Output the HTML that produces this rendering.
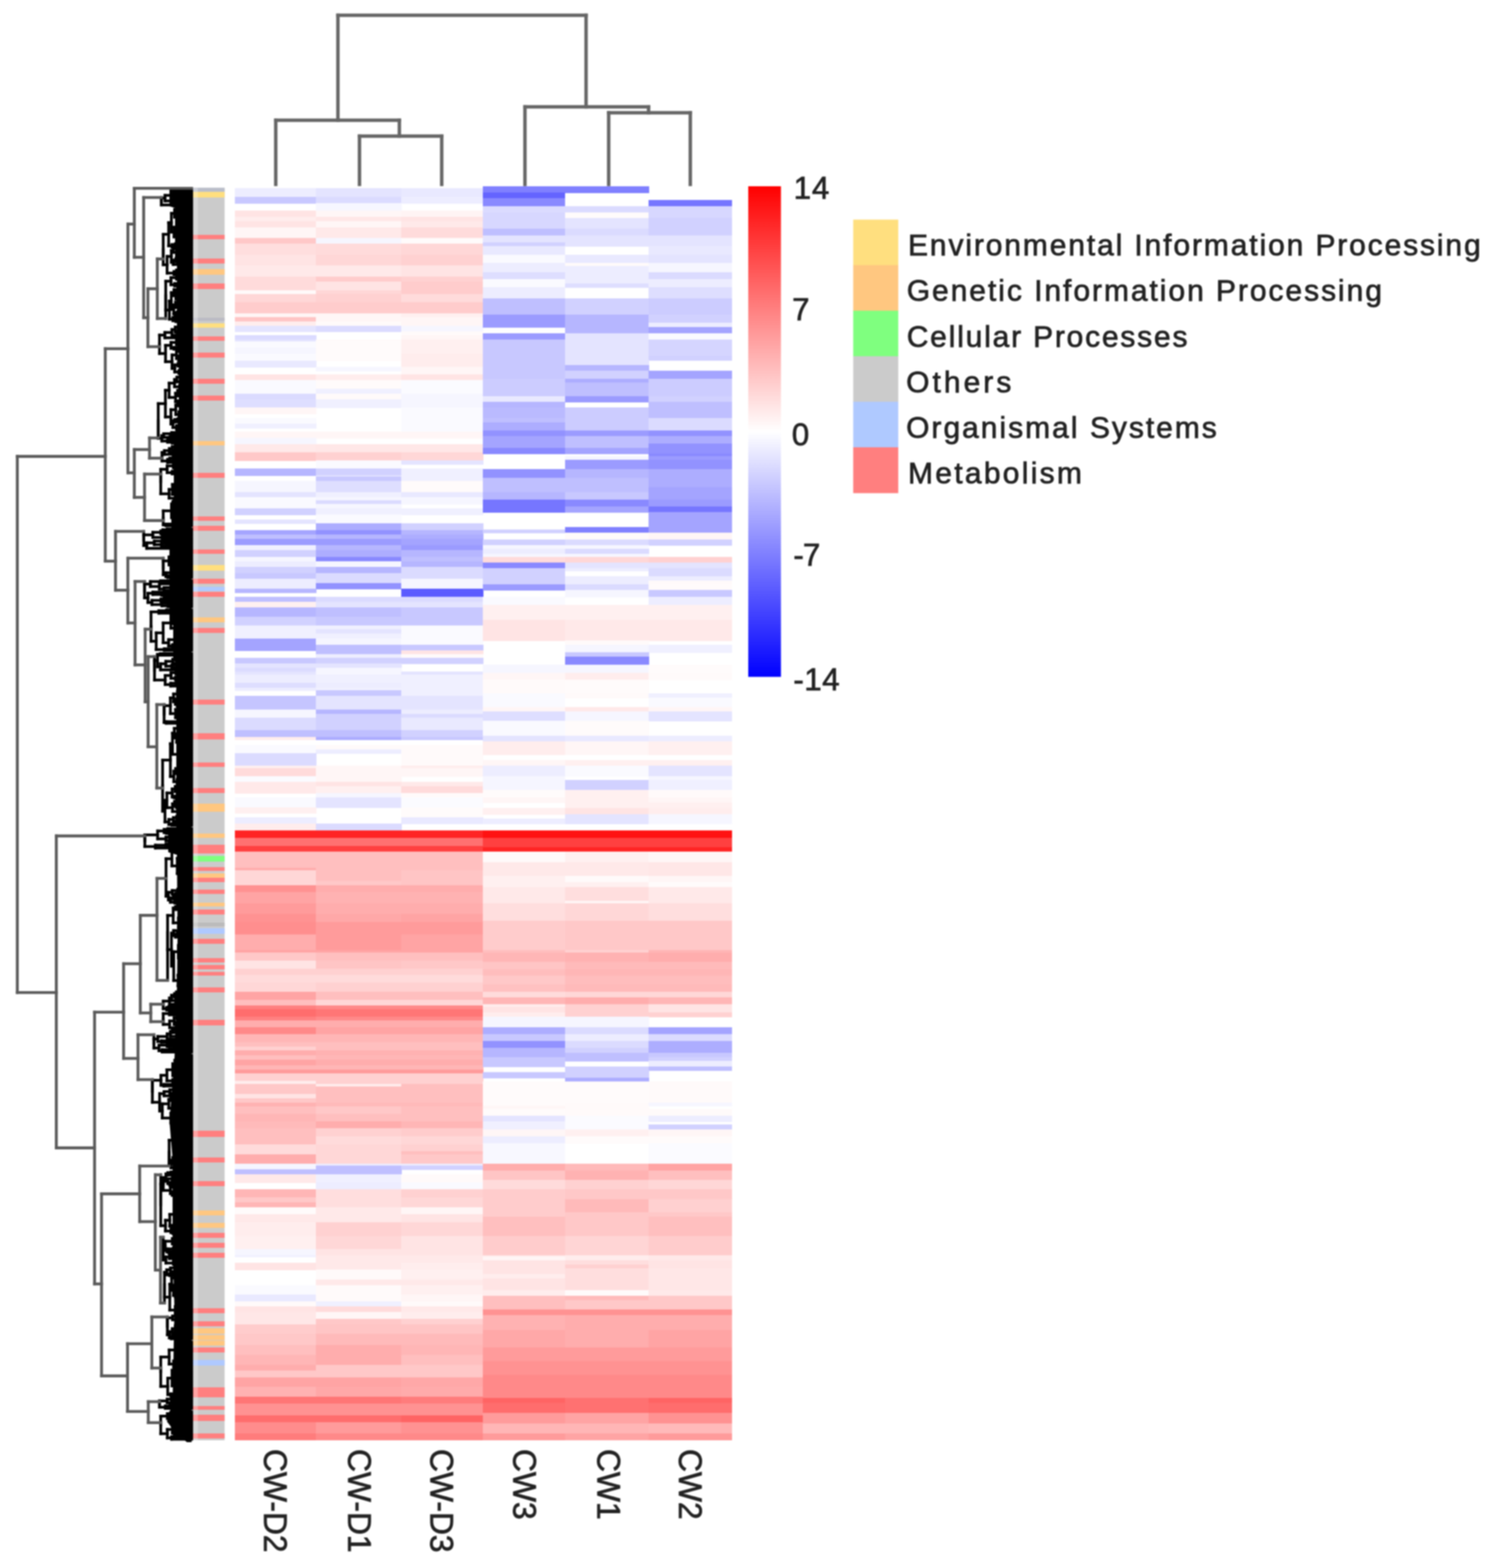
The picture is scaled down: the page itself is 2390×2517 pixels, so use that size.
<!DOCTYPE html><html><head><meta charset="utf-8"><style>html,body{margin:0;padding:0;background:#fff;}svg{display:block;filter:blur(1.1px);}text{font-family:"Liberation Sans",Arial,sans-serif;}</style></head><body>
<svg width="2390" height="2517" viewBox="0 0 2390 2517">
<defs><linearGradient id="ck" x1="0" y1="0" x2="0" y2="1"><stop offset="0" stop-color="#ff0000"/><stop offset="0.5" stop-color="#ffffff"/><stop offset="1" stop-color="#0000ff"/></linearGradient></defs>
<rect width="2390" height="2517" fill="#fff"/>
<g shape-rendering="crispEdges">
<rect x="376.5" y="302" width="131.3" height="14.5" fill="#ededff"/>
<rect x="507.3" y="302" width="137.4" height="14.5" fill="#e4e4ff"/>
<rect x="644.2" y="302" width="131.5" height="14.5" fill="#e9e9ff"/>
<rect x="376.5" y="316" width="131.3" height="10.5" fill="#c8c8ff"/>
<rect x="507.3" y="316" width="137.4" height="10.5" fill="#dbdbff"/>
<rect x="644.2" y="316" width="131.5" height="10.5" fill="#ededff"/>
<rect x="507.3" y="326" width="137.4" height="12.5" fill="#f6f6ff"/>
<rect x="376.5" y="338" width="131.3" height="10.5" fill="#ffe4e4"/>
<rect x="507.3" y="338" width="137.4" height="10.5" fill="#fff6f6"/>
<rect x="644.2" y="338" width="131.5" height="10.5" fill="#fff4f4"/>
<rect x="376.5" y="348" width="131.3" height="7.5" fill="#ffeded"/>
<rect x="507.3" y="348" width="137.4" height="7.5" fill="#ffe7e7"/>
<rect x="644.2" y="348" width="131.5" height="7.5" fill="#ffe4e4"/>
<rect x="376.5" y="355" width="131.3" height="10.5" fill="#ffe4e4"/>
<rect x="507.3" y="355" width="137.4" height="10.5" fill="#fff6f6"/>
<rect x="644.2" y="355" width="131.5" height="10.5" fill="#ffe9e9"/>
<rect x="376.5" y="365" width="131.3" height="17.5" fill="#fff6f6"/>
<rect x="507.3" y="365" width="137.4" height="17.5" fill="#ffe9e9"/>
<rect x="644.2" y="365" width="131.5" height="17.5" fill="#ffdbdb"/>
<rect x="376.5" y="382" width="131.3" height="9.5" fill="#ffc8c8"/>
<rect x="507.3" y="382" width="137.4" height="9.5" fill="#f6f6ff"/>
<rect x="644.2" y="382" width="131.5" height="9.5" fill="#fffbfb"/>
<rect x="376.5" y="391" width="131.3" height="18.5" fill="#ffdede"/>
<rect x="507.3" y="391" width="137.4" height="18.5" fill="#ffdbdb"/>
<rect x="644.2" y="391" width="131.5" height="18.5" fill="#ffd7d7"/>
<rect x="376.5" y="409" width="131.3" height="17.5" fill="#ffe4e4"/>
<rect x="507.3" y="409" width="137.4" height="17.5" fill="#ffd7d7"/>
<rect x="644.2" y="409" width="131.5" height="17.5" fill="#ffd1d1"/>
<rect x="376.5" y="426" width="131.3" height="18.5" fill="#ffe9e9"/>
<rect x="507.3" y="426" width="137.4" height="18.5" fill="#ffe9e9"/>
<rect x="644.2" y="426" width="131.5" height="18.5" fill="#ffe4e4"/>
<rect x="376.5" y="444" width="131.3" height="8.5" fill="#ffdbdb"/>
<rect x="507.3" y="444" width="137.4" height="8.5" fill="#ffcccc"/>
<rect x="644.2" y="444" width="131.5" height="8.5" fill="#ffd1d1"/>
<rect x="376.5" y="452" width="131.3" height="14.5" fill="#ffdbdb"/>
<rect x="507.3" y="452" width="137.4" height="14.5" fill="#ffe4e4"/>
<rect x="644.2" y="452" width="131.5" height="14.5" fill="#ffcccc"/>
<rect x="376.5" y="466" width="131.3" height="6.5" fill="#fffafa"/>
<rect x="507.3" y="466" width="137.4" height="6.5" fill="#ffd7d7"/>
<rect x="644.2" y="466" width="131.5" height="6.5" fill="#ffcccc"/>
<rect x="376.5" y="472" width="131.3" height="13.5" fill="#ffd7d7"/>
<rect x="507.3" y="472" width="137.4" height="13.5" fill="#ffd1d1"/>
<rect x="644.2" y="472" width="131.5" height="13.5" fill="#ffdbdb"/>
<rect x="376.5" y="485" width="131.3" height="18.5" fill="#ffcccc"/>
<rect x="507.3" y="485" width="137.4" height="18.5" fill="#ffcccc"/>
<rect x="644.2" y="485" width="131.5" height="18.5" fill="#ffcccc"/>
<rect x="376.5" y="503" width="131.3" height="6.5" fill="#fff6f6"/>
<rect x="507.3" y="503" width="137.4" height="6.5" fill="#fff6f6"/>
<rect x="644.2" y="503" width="131.5" height="6.5" fill="#fff0f0"/>
<rect x="376.5" y="509" width="131.3" height="7.5" fill="#ffc5c5"/>
<rect x="507.3" y="509" width="137.4" height="7.5" fill="#fff6f6"/>
<rect x="644.2" y="509" width="131.5" height="7.5" fill="#fff6f6"/>
<rect x="376.5" y="516" width="131.3" height="7.5" fill="#ffeded"/>
<rect x="507.3" y="516" width="137.4" height="7.5" fill="#fffafa"/>
<rect x="644.2" y="516" width="131.5" height="7.5" fill="#fff6f6"/>
<rect x="376.5" y="523" width="131.3" height="9.5" fill="#e4e4ff"/>
<rect x="507.3" y="523" width="137.4" height="9.5" fill="#dbdbff"/>
<rect x="644.2" y="523" width="131.5" height="9.5" fill="#f6f6ff"/>
<rect x="644.2" y="532" width="131.5" height="6.5" fill="#fffafa"/>
<rect x="376.5" y="538" width="131.3" height="7.5" fill="#dbdbff"/>
<rect x="644.2" y="538" width="131.5" height="7.5" fill="#fff6f6"/>
<rect x="376.5" y="545" width="131.3" height="3.5" fill="#e4e4ff"/>
<rect x="507.3" y="545" width="137.4" height="3.5" fill="#fffafa"/>
<rect x="644.2" y="545" width="131.5" height="3.5" fill="#fff0f0"/>
<rect x="376.5" y="548" width="131.3" height="10.5" fill="#fafaff"/>
<rect x="507.3" y="548" width="137.4" height="10.5" fill="#fffbfb"/>
<rect x="644.2" y="548" width="131.5" height="10.5" fill="#fff0f0"/>
<rect x="376.5" y="558" width="131.3" height="10.5" fill="#f6f6ff"/>
<rect x="507.3" y="558" width="137.4" height="10.5" fill="#fffbfb"/>
<rect x="644.2" y="558" width="131.5" height="10.5" fill="#fff0f0"/>
<rect x="376.5" y="568" width="131.3" height="11.5" fill="#fafaff"/>
<rect x="507.3" y="568" width="137.4" height="11.5" fill="#fffbfb"/>
<rect x="644.2" y="568" width="131.5" height="11.5" fill="#ffeded"/>
<rect x="376.5" y="579" width="131.3" height="10.5" fill="#e9e9ff"/>
<rect x="644.2" y="579" width="131.5" height="10.5" fill="#ffeded"/>
<rect x="507.3" y="589" width="137.4" height="6.5" fill="#f6f6ff"/>
<rect x="644.2" y="589" width="131.5" height="6.5" fill="#fff6f6"/>
<rect x="644.2" y="595" width="131.5" height="6.5" fill="#fff6f6"/>
<rect x="376.5" y="601" width="131.3" height="9.5" fill="#ffe4e4"/>
<rect x="507.3" y="601" width="137.4" height="9.5" fill="#ffeded"/>
<rect x="644.2" y="601" width="131.5" height="9.5" fill="#ffe4e4"/>
<rect x="376.5" y="610" width="131.3" height="14.5" fill="#fafaff"/>
<rect x="507.3" y="610" width="137.4" height="14.5" fill="#fffbfb"/>
<rect x="644.2" y="610" width="131.5" height="14.5" fill="#fbfbff"/>
<rect x="376.5" y="624" width="131.3" height="8.5" fill="#fafaff"/>
<rect x="507.3" y="624" width="137.4" height="8.5" fill="#f0f0ff"/>
<rect x="644.2" y="624" width="131.5" height="8.5" fill="#fbfbff"/>
<rect x="376.5" y="632" width="131.3" height="9.5" fill="#dbdbff"/>
<rect x="507.3" y="632" width="137.4" height="9.5" fill="#fffafa"/>
<rect x="644.2" y="632" width="131.5" height="9.5" fill="#f6f6ff"/>
<rect x="376.5" y="641" width="131.3" height="13.5" fill="#dedeff"/>
<rect x="507.3" y="641" width="137.4" height="13.5" fill="#f0f0ff"/>
<rect x="644.2" y="641" width="131.5" height="13.5" fill="#f6f6ff"/>
<rect x="376.5" y="654" width="131.3" height="10.5" fill="#fff6f6"/>
<rect x="644.2" y="654" width="131.5" height="10.5" fill="#fafaff"/>
<rect x="644.2" y="664" width="131.5" height="7.5" fill="#fafaff"/>
<rect x="376.5" y="671" width="131.3" height="9.5" fill="#fafaff"/>
<rect x="644.2" y="671" width="131.5" height="9.5" fill="#fafaff"/>
<rect x="376.5" y="680" width="131.3" height="7.5" fill="#f0f0ff"/>
<rect x="644.2" y="680" width="131.5" height="7.5" fill="#fafaff"/>
<rect x="644.2" y="687" width="131.5" height="6.5" fill="#fafaff"/>
<rect x="376.5" y="693" width="131.3" height="10.5" fill="#fff6f6"/>
<rect x="507.3" y="693" width="137.4" height="10.5" fill="#fff6f6"/>
<rect x="644.2" y="693" width="131.5" height="10.5" fill="#fff6f6"/>
<rect x="376.5" y="703" width="131.3" height="10.5" fill="#f6f6ff"/>
<rect x="376.5" y="713" width="131.3" height="13.5" fill="#ffe9e9"/>
<rect x="507.3" y="713" width="137.4" height="13.5" fill="#ffe7e7"/>
<rect x="644.2" y="713" width="131.5" height="13.5" fill="#ffe7e7"/>
<rect x="376.5" y="726" width="131.3" height="13.5" fill="#ffc8c8"/>
<rect x="507.3" y="726" width="137.4" height="13.5" fill="#ffd1d1"/>
<rect x="644.2" y="726" width="131.5" height="13.5" fill="#ffd7d7"/>
<rect x="507.3" y="739" width="137.4" height="6.5" fill="#fafaff"/>
<rect x="644.2" y="739" width="131.5" height="6.5" fill="#e4e4ff"/>
<rect x="507.3" y="745" width="137.4" height="7.5" fill="#fafaff"/>
<rect x="376.5" y="752" width="131.3" height="11.5" fill="#b6b6ff"/>
<rect x="507.3" y="752" width="137.4" height="11.5" fill="#d1d1ff"/>
<rect x="644.2" y="752" width="131.5" height="11.5" fill="#f0f0ff"/>
<rect x="507.3" y="763" width="137.4" height="2.5" fill="#e4e4ff"/>
<rect x="644.2" y="763" width="131.5" height="2.5" fill="#f0f0ff"/>
<rect x="507.3" y="765" width="137.4" height="7.5" fill="#c8c8ff"/>
<rect x="644.2" y="765" width="131.5" height="7.5" fill="#f0f0ff"/>
<rect x="376.5" y="772" width="131.3" height="18.5" fill="#f6f6ff"/>
<rect x="507.3" y="772" width="137.4" height="18.5" fill="#dedeff"/>
<rect x="644.2" y="772" width="131.5" height="18.5" fill="#fffbfb"/>
<rect x="376.5" y="790" width="131.3" height="8.5" fill="#e4e4ff"/>
<rect x="507.3" y="790" width="137.4" height="8.5" fill="#f0f0ff"/>
<rect x="644.2" y="790" width="131.5" height="8.5" fill="#e9e9ff"/>
<rect x="376.5" y="798" width="131.3" height="5.5" fill="#fafaff"/>
<rect x="507.3" y="798" width="137.4" height="5.5" fill="#f6f6ff"/>
<rect x="644.2" y="798" width="131.5" height="5.5" fill="#f6f6ff"/>
<rect x="376.5" y="803" width="131.3" height="6.5" fill="#fafaff"/>
<rect x="507.3" y="803" width="137.4" height="6.5" fill="#dbdbff"/>
<rect x="644.2" y="803" width="131.5" height="6.5" fill="#f6f6ff"/>
<rect x="376.5" y="809" width="131.3" height="7.5" fill="#fafaff"/>
<rect x="507.3" y="809" width="137.4" height="7.5" fill="#f6f6ff"/>
<rect x="376.5" y="816" width="131.3" height="10.5" fill="#d1d1ff"/>
<rect x="507.3" y="816" width="137.4" height="10.5" fill="#f0f0ff"/>
<rect x="644.2" y="816" width="131.5" height="10.5" fill="#f0f0ff"/>
<rect x="507.3" y="826" width="137.4" height="8.5" fill="#fafaff"/>
<rect x="376.5" y="834" width="131.3" height="6.5" fill="#e4e4ff"/>
<rect x="507.3" y="834" width="137.4" height="6.5" fill="#fafaff"/>
<rect x="507.3" y="840" width="137.4" height="11.5" fill="#adadff"/>
<rect x="644.2" y="840" width="131.5" height="11.5" fill="#d1d1ff"/>
<rect x="376.5" y="851" width="131.3" height="7.5" fill="#a4a4ff"/>
<rect x="507.3" y="851" width="137.4" height="7.5" fill="#9292ff"/>
<rect x="644.2" y="851" width="131.5" height="7.5" fill="#b6b6ff"/>
<rect x="376.5" y="858" width="131.3" height="7.5" fill="#bfbfff"/>
<rect x="507.3" y="858" width="137.4" height="7.5" fill="#b6b6ff"/>
<rect x="644.2" y="858" width="131.5" height="7.5" fill="#adadff"/>
<rect x="376.5" y="865" width="131.3" height="10.5" fill="#9b9bff"/>
<rect x="507.3" y="865" width="137.4" height="10.5" fill="#9b9bff"/>
<rect x="644.2" y="865" width="131.5" height="10.5" fill="#a4a4ff"/>
<rect x="376.5" y="875" width="131.3" height="8.5" fill="#f0f0ff"/>
<rect x="507.3" y="875" width="137.4" height="8.5" fill="#b6b6ff"/>
<rect x="644.2" y="875" width="131.5" height="8.5" fill="#9b9bff"/>
<rect x="376.5" y="883" width="131.3" height="11.5" fill="#d1d1ff"/>
<rect x="507.3" y="883" width="137.4" height="11.5" fill="#adadff"/>
<rect x="644.2" y="883" width="131.5" height="11.5" fill="#b6b6ff"/>
<rect x="376.5" y="894" width="131.3" height="7.5" fill="#f6f6ff"/>
<rect x="507.3" y="894" width="137.4" height="7.5" fill="#8989ff"/>
<rect x="644.2" y="894" width="131.5" height="7.5" fill="#bfbfff"/>
<rect x="376.5" y="901" width="131.3" height="9.5" fill="#ededff"/>
<rect x="507.3" y="901" width="137.4" height="9.5" fill="#f6f6ff"/>
<rect x="644.2" y="901" width="131.5" height="9.5" fill="#b6b6ff"/>
<rect x="376.5" y="910" width="131.3" height="10.5" fill="#d1d1ff"/>
<rect x="507.3" y="910" width="137.4" height="10.5" fill="#b6b6ff"/>
<rect x="644.2" y="910" width="131.5" height="10.5" fill="#dbdbff"/>
<rect x="376.5" y="920" width="131.3" height="9.5" fill="#c8c8ff"/>
<rect x="507.3" y="920" width="137.4" height="9.5" fill="#dbdbff"/>
<rect x="644.2" y="920" width="131.5" height="9.5" fill="#dbdbff"/>
<rect x="376.5" y="929" width="131.3" height="7.5" fill="#ededff"/>
<rect x="507.3" y="929" width="137.4" height="7.5" fill="#dbdbff"/>
<rect x="644.2" y="929" width="131.5" height="7.5" fill="#f6f6ff"/>
<rect x="376.5" y="936" width="131.3" height="9.5" fill="#ededff"/>
<rect x="507.3" y="936" width="137.4" height="9.5" fill="#9292ff"/>
<rect x="644.2" y="936" width="131.5" height="9.5" fill="#f6f6ff"/>
<rect x="376.5" y="945" width="131.3" height="6.5" fill="#b6b6ff"/>
<rect x="644.2" y="945" width="131.5" height="6.5" fill="#5b5bff"/>
<rect x="644.2" y="951" width="131.5" height="7.5" fill="#5b5bff"/>
<rect x="376.5" y="958" width="131.3" height="8.5" fill="#bfbfff"/>
<rect x="507.3" y="958" width="137.4" height="8.5" fill="#dbdbff"/>
<rect x="644.2" y="958" width="131.5" height="8.5" fill="#dbdbff"/>
<rect x="376.5" y="966" width="131.3" height="9.5" fill="#fff0f0"/>
<rect x="507.3" y="966" width="137.4" height="9.5" fill="#e4e4ff"/>
<rect x="644.2" y="966" width="131.5" height="9.5" fill="#e4e4ff"/>
<rect x="376.5" y="975" width="131.3" height="15.5" fill="#b6b6ff"/>
<rect x="507.3" y="975" width="137.4" height="15.5" fill="#bfbfff"/>
<rect x="644.2" y="975" width="131.5" height="15.5" fill="#c8c8ff"/>
<rect x="376.5" y="990" width="131.3" height="14.5" fill="#d1d1ff"/>
<rect x="507.3" y="990" width="137.4" height="14.5" fill="#c8c8ff"/>
<rect x="644.2" y="990" width="131.5" height="14.5" fill="#c8c8ff"/>
<rect x="376.5" y="1004" width="131.3" height="6.5" fill="#f0f0ff"/>
<rect x="507.3" y="1004" width="137.4" height="6.5" fill="#f0f0ff"/>
<rect x="644.2" y="1004" width="131.5" height="6.5" fill="#fafaff"/>
<rect x="376.5" y="1010" width="131.3" height="7.5" fill="#f0f0ff"/>
<rect x="507.3" y="1010" width="137.4" height="7.5" fill="#e4e4ff"/>
<rect x="644.2" y="1010" width="131.5" height="7.5" fill="#fafaff"/>
<rect x="376.5" y="1017" width="131.3" height="8.5" fill="#f0f0ff"/>
<rect x="507.3" y="1017" width="137.4" height="8.5" fill="#f0f0ff"/>
<rect x="644.2" y="1017" width="131.5" height="8.5" fill="#fafaff"/>
<rect x="376.5" y="1025" width="131.3" height="10.5" fill="#a4a4ff"/>
<rect x="507.3" y="1025" width="137.4" height="10.5" fill="#f6f6ff"/>
<rect x="644.2" y="1025" width="131.5" height="10.5" fill="#fafaff"/>
<rect x="376.5" y="1035" width="131.3" height="9.5" fill="#a4a4ff"/>
<rect x="507.3" y="1035" width="137.4" height="9.5" fill="#bfbfff"/>
<rect x="644.2" y="1035" width="131.5" height="9.5" fill="#c8c8ff"/>
<rect x="507.3" y="1044" width="137.4" height="6.5" fill="#bfbfff"/>
<rect x="644.2" y="1044" width="131.5" height="6.5" fill="#ffe4e4"/>
<rect x="507.3" y="1050" width="137.4" height="6.5" fill="#ededff"/>
<rect x="644.2" y="1050" width="131.5" height="6.5" fill="#fffafa"/>
<rect x="376.5" y="1056" width="131.3" height="9.5" fill="#c8c8ff"/>
<rect x="507.3" y="1056" width="137.4" height="9.5" fill="#d1d1ff"/>
<rect x="644.2" y="1056" width="131.5" height="9.5" fill="#d1d1ff"/>
<rect x="376.5" y="1065" width="131.3" height="7.5" fill="#e4e4ff"/>
<rect x="507.3" y="1065" width="137.4" height="7.5" fill="#e4e4ff"/>
<rect x="376.5" y="1072" width="131.3" height="6.5" fill="#dbdbff"/>
<rect x="507.3" y="1072" width="137.4" height="6.5" fill="#f6f6ff"/>
<rect x="376.5" y="1078" width="131.3" height="5.5" fill="#e4e4ff"/>
<rect x="507.3" y="1078" width="137.4" height="5.5" fill="#f6f6ff"/>
<rect x="644.2" y="1078" width="131.5" height="5.5" fill="#e4e4ff"/>
<rect x="376.5" y="1083" width="131.3" height="13.5" fill="#ededff"/>
<rect x="507.3" y="1083" width="137.4" height="13.5" fill="#f0f0ff"/>
<rect x="644.2" y="1083" width="131.5" height="13.5" fill="#f0f0ff"/>
<rect x="376.5" y="1096" width="131.3" height="8.5" fill="#dedeff"/>
<rect x="507.3" y="1096" width="137.4" height="8.5" fill="#ededff"/>
<rect x="644.2" y="1096" width="131.5" height="8.5" fill="#f0f0ff"/>
<rect x="376.5" y="1104" width="131.3" height="4.5" fill="#ededff"/>
<rect x="507.3" y="1104" width="137.4" height="4.5" fill="#f0f0ff"/>
<rect x="644.2" y="1104" width="131.5" height="4.5" fill="#f0f0ff"/>
<rect x="507.3" y="1108" width="137.4" height="9.5" fill="#c8c8ff"/>
<rect x="644.2" y="1108" width="131.5" height="9.5" fill="#f0f0ff"/>
<rect x="376.5" y="1117" width="131.3" height="22.5" fill="#c5c5ff"/>
<rect x="507.3" y="1117" width="137.4" height="22.5" fill="#e4e4ff"/>
<rect x="644.2" y="1117" width="131.5" height="22.5" fill="#e4e4ff"/>
<rect x="376.5" y="1139" width="131.3" height="7.5" fill="#f6f6ff"/>
<rect x="507.3" y="1139" width="137.4" height="7.5" fill="#b6b6ff"/>
<rect x="644.2" y="1139" width="131.5" height="7.5" fill="#ededff"/>
<rect x="376.5" y="1146" width="131.3" height="6.5" fill="#f6f6ff"/>
<rect x="507.3" y="1146" width="137.4" height="6.5" fill="#d1d1ff"/>
<rect x="644.2" y="1146" width="131.5" height="6.5" fill="#dbdbff"/>
<rect x="376.5" y="1152" width="131.3" height="20.5" fill="#dbdbff"/>
<rect x="507.3" y="1152" width="137.4" height="20.5" fill="#d1d1ff"/>
<rect x="644.2" y="1152" width="131.5" height="20.5" fill="#e9e9ff"/>
<rect x="376.5" y="1172" width="131.3" height="11.5" fill="#bfbfff"/>
<rect x="507.3" y="1172" width="137.4" height="11.5" fill="#bfbfff"/>
<rect x="644.2" y="1172" width="131.5" height="11.5" fill="#d1d1ff"/>
<rect x="376.5" y="1183" width="131.3" height="4.5" fill="#ffeded"/>
<rect x="507.3" y="1183" width="137.4" height="4.5" fill="#adadff"/>
<rect x="644.2" y="1183" width="131.5" height="4.5" fill="#c8c8ff"/>
<rect x="376.5" y="1196" width="131.3" height="7.5" fill="#fafaff"/>
<rect x="507.3" y="1196" width="137.4" height="7.5" fill="#fffafa"/>
<rect x="644.2" y="1196" width="131.5" height="7.5" fill="#fffafa"/>
<rect x="376.5" y="1203" width="131.3" height="6.5" fill="#fafaff"/>
<rect x="507.3" y="1203" width="137.4" height="6.5" fill="#ededff"/>
<rect x="644.2" y="1203" width="131.5" height="6.5" fill="#fffafa"/>
<rect x="376.5" y="1209" width="131.3" height="20.5" fill="#dbdbff"/>
<rect x="644.2" y="1209" width="131.5" height="20.5" fill="#fffafa"/>
<rect x="376.5" y="1229" width="131.3" height="4.5" fill="#fff0f0"/>
<rect x="507.3" y="1229" width="137.4" height="4.5" fill="#fff6f6"/>
<rect x="644.2" y="1229" width="131.5" height="4.5" fill="#ffeded"/>
<rect x="376.5" y="1233" width="131.3" height="13.5" fill="#ffdbdb"/>
<rect x="507.3" y="1233" width="137.4" height="13.5" fill="#fff6f6"/>
<rect x="644.2" y="1233" width="131.5" height="13.5" fill="#fff6f6"/>
<rect x="376.5" y="1246" width="131.3" height="9.5" fill="#fbfbff"/>
<rect x="507.3" y="1246" width="137.4" height="9.5" fill="#fff6f6"/>
<rect x="376.5" y="1255" width="131.3" height="7.5" fill="#ffe9e9"/>
<rect x="507.3" y="1255" width="137.4" height="7.5" fill="#ffe4e4"/>
<rect x="644.2" y="1255" width="131.5" height="7.5" fill="#ffe9e9"/>
<rect x="376.5" y="1262" width="131.3" height="11.5" fill="#ffe9e9"/>
<rect x="507.3" y="1262" width="137.4" height="11.5" fill="#fff0f0"/>
<rect x="644.2" y="1262" width="131.5" height="11.5" fill="#ffdbdb"/>
<rect x="507.3" y="1273" width="137.4" height="7.5" fill="#f6f6ff"/>
<rect x="644.2" y="1273" width="131.5" height="7.5" fill="#fffafa"/>
<rect x="376.5" y="1280" width="131.3" height="16.5" fill="#fafaff"/>
<rect x="507.3" y="1280" width="137.4" height="16.5" fill="#e4e4ff"/>
<rect x="644.2" y="1280" width="131.5" height="16.5" fill="#fbfbff"/>
<rect x="376.5" y="1296" width="131.3" height="9.5" fill="#fff0f0"/>
<rect x="644.2" y="1296" width="131.5" height="9.5" fill="#fffbfb"/>
<rect x="644.2" y="1305" width="131.5" height="7.5" fill="#fffbfb"/>
<rect x="376.5" y="1312" width="131.3" height="10.5" fill="#ededff"/>
<rect x="644.2" y="1312" width="131.5" height="10.5" fill="#e9e9ff"/>
<rect x="376.5" y="1322" width="131.3" height="11.5" fill="#ffeded"/>
<rect x="507.3" y="1322" width="137.4" height="11.5" fill="#dbdbff"/>
<rect x="376.5" y="1333" width="131.3" height="12.5" fill="#ff2424"/>
<rect x="507.3" y="1333" width="137.4" height="12.5" fill="#ff2424"/>
<rect x="644.2" y="1333" width="131.5" height="12.5" fill="#ff2424"/>
<rect x="376.5" y="1345" width="131.3" height="13.5" fill="#ff7171"/>
<rect x="507.3" y="1345" width="137.4" height="13.5" fill="#ff7171"/>
<rect x="644.2" y="1345" width="131.5" height="13.5" fill="#ff7171"/>
<rect x="376.5" y="1358" width="131.3" height="9.5" fill="#ff4040"/>
<rect x="507.3" y="1358" width="137.4" height="9.5" fill="#ff4040"/>
<rect x="644.2" y="1358" width="131.5" height="9.5" fill="#ff4040"/>
<rect x="376.5" y="1367" width="131.3" height="26.5" fill="#ffbfbf"/>
<rect x="507.3" y="1367" width="137.4" height="26.5" fill="#ffbfbf"/>
<rect x="644.2" y="1367" width="131.5" height="26.5" fill="#ffbfbf"/>
<rect x="376.5" y="1393" width="131.3" height="4.5" fill="#ffadad"/>
<rect x="507.3" y="1393" width="137.4" height="4.5" fill="#ffbfbf"/>
<rect x="644.2" y="1393" width="131.5" height="4.5" fill="#ffbfbf"/>
<rect x="376.5" y="1397" width="131.3" height="17.5" fill="#ffd7d7"/>
<rect x="507.3" y="1397" width="137.4" height="17.5" fill="#ffbfbf"/>
<rect x="644.2" y="1397" width="131.5" height="17.5" fill="#ffc5c5"/>
<rect x="376.5" y="1414" width="131.3" height="7.5" fill="#ffd7d7"/>
<rect x="507.3" y="1414" width="137.4" height="7.5" fill="#ffc8c8"/>
<rect x="644.2" y="1414" width="131.5" height="7.5" fill="#ffc5c5"/>
<rect x="376.5" y="1421" width="131.3" height="11.5" fill="#ff9292"/>
<rect x="507.3" y="1421" width="137.4" height="11.5" fill="#ffadad"/>
<rect x="644.2" y="1421" width="131.5" height="11.5" fill="#ffadad"/>
<rect x="376.5" y="1432" width="131.3" height="18.5" fill="#ffa4a4"/>
<rect x="507.3" y="1432" width="137.4" height="18.5" fill="#ffb2b2"/>
<rect x="644.2" y="1432" width="131.5" height="18.5" fill="#ffb2b2"/>
<rect x="376.5" y="1450" width="131.3" height="17.5" fill="#ff9b9b"/>
<rect x="507.3" y="1450" width="137.4" height="17.5" fill="#ffadad"/>
<rect x="644.2" y="1450" width="131.5" height="17.5" fill="#ffadad"/>
<rect x="376.5" y="1467" width="131.3" height="13.5" fill="#ff9292"/>
<rect x="507.3" y="1467" width="137.4" height="13.5" fill="#ffa8a8"/>
<rect x="644.2" y="1467" width="131.5" height="13.5" fill="#ffa4a4"/>
<rect x="376.5" y="1480" width="131.3" height="20.5" fill="#ff8e8e"/>
<rect x="507.3" y="1480" width="137.4" height="20.5" fill="#ff9b9b"/>
<rect x="644.2" y="1480" width="131.5" height="20.5" fill="#ff9b9b"/>
<rect x="376.5" y="1500" width="131.3" height="25.5" fill="#ffadad"/>
<rect x="507.3" y="1500" width="137.4" height="25.5" fill="#ff9b9b"/>
<rect x="644.2" y="1500" width="131.5" height="25.5" fill="#ffa4a4"/>
<rect x="376.5" y="1525" width="131.3" height="4.5" fill="#ffa4a4"/>
<rect x="507.3" y="1525" width="137.4" height="4.5" fill="#ffa4a4"/>
<rect x="644.2" y="1525" width="131.5" height="4.5" fill="#ffa4a4"/>
<rect x="376.5" y="1529" width="131.3" height="13.5" fill="#ffc8c8"/>
<rect x="507.3" y="1529" width="137.4" height="13.5" fill="#ffbfbf"/>
<rect x="644.2" y="1529" width="131.5" height="13.5" fill="#ffbfbf"/>
<rect x="376.5" y="1542" width="131.3" height="13.5" fill="#ffe4e4"/>
<rect x="507.3" y="1542" width="137.4" height="13.5" fill="#ffc5c5"/>
<rect x="644.2" y="1542" width="131.5" height="13.5" fill="#ffc8c8"/>
<rect x="376.5" y="1555" width="131.3" height="10.5" fill="#ffd1d1"/>
<rect x="507.3" y="1555" width="137.4" height="10.5" fill="#ffd1d1"/>
<rect x="644.2" y="1555" width="131.5" height="10.5" fill="#ffd1d1"/>
<rect x="376.5" y="1565" width="131.3" height="12.5" fill="#ffdbdb"/>
<rect x="507.3" y="1565" width="137.4" height="12.5" fill="#ffdbdb"/>
<rect x="644.2" y="1565" width="131.5" height="12.5" fill="#ffdbdb"/>
<rect x="376.5" y="1577" width="131.3" height="15.5" fill="#ffd7d7"/>
<rect x="507.3" y="1577" width="137.4" height="15.5" fill="#ffd1d1"/>
<rect x="644.2" y="1577" width="131.5" height="15.5" fill="#ffd1d1"/>
<rect x="376.5" y="1592" width="131.3" height="13.5" fill="#ffa4a4"/>
<rect x="507.3" y="1592" width="137.4" height="13.5" fill="#ffbfbf"/>
<rect x="644.2" y="1592" width="131.5" height="13.5" fill="#ffbfbf"/>
<rect x="376.5" y="1605" width="131.3" height="9.5" fill="#ffbfbf"/>
<rect x="507.3" y="1605" width="137.4" height="9.5" fill="#ffd7d7"/>
<rect x="644.2" y="1605" width="131.5" height="9.5" fill="#ffd7d7"/>
<rect x="376.5" y="1614" width="131.3" height="6.5" fill="#ff8080"/>
<rect x="507.3" y="1614" width="137.4" height="6.5" fill="#ff8989"/>
<rect x="644.2" y="1614" width="131.5" height="6.5" fill="#ff8989"/>
<rect x="376.5" y="1620" width="131.3" height="12.5" fill="#ff6d6d"/>
<rect x="507.3" y="1620" width="137.4" height="12.5" fill="#ff7676"/>
<rect x="644.2" y="1620" width="131.5" height="12.5" fill="#ff7676"/>
<rect x="376.5" y="1632" width="131.3" height="6.5" fill="#ff8080"/>
<rect x="507.3" y="1632" width="137.4" height="6.5" fill="#ff8989"/>
<rect x="644.2" y="1632" width="131.5" height="6.5" fill="#ff8989"/>
<rect x="376.5" y="1638" width="131.3" height="11.5" fill="#ffadad"/>
<rect x="507.3" y="1638" width="137.4" height="11.5" fill="#ffadad"/>
<rect x="644.2" y="1638" width="131.5" height="11.5" fill="#ffadad"/>
<rect x="376.5" y="1649" width="131.3" height="11.5" fill="#ff8989"/>
<rect x="507.3" y="1649" width="137.4" height="11.5" fill="#ffa4a4"/>
<rect x="644.2" y="1649" width="131.5" height="11.5" fill="#ffa4a4"/>
<rect x="376.5" y="1660" width="131.3" height="13.5" fill="#ffb6b6"/>
<rect x="507.3" y="1660" width="137.4" height="13.5" fill="#ffb6b6"/>
<rect x="644.2" y="1660" width="131.5" height="13.5" fill="#ffb6b6"/>
<rect x="376.5" y="1673" width="131.3" height="7.5" fill="#ffbfbf"/>
<rect x="507.3" y="1673" width="137.4" height="7.5" fill="#ffbfbf"/>
<rect x="644.2" y="1673" width="131.5" height="7.5" fill="#ffbfbf"/>
<rect x="376.5" y="1680" width="131.3" height="6.5" fill="#ffd1d1"/>
<rect x="507.3" y="1680" width="137.4" height="6.5" fill="#ffbfbf"/>
<rect x="644.2" y="1680" width="131.5" height="6.5" fill="#ffbfbf"/>
<rect x="376.5" y="1686" width="131.3" height="8.5" fill="#ffadad"/>
<rect x="507.3" y="1686" width="137.4" height="8.5" fill="#ffb2b2"/>
<rect x="644.2" y="1686" width="131.5" height="8.5" fill="#ffb2b2"/>
<rect x="376.5" y="1694" width="131.3" height="7.5" fill="#ffbfbf"/>
<rect x="507.3" y="1694" width="137.4" height="7.5" fill="#ffb6b6"/>
<rect x="644.2" y="1694" width="131.5" height="7.5" fill="#ffb6b6"/>
<rect x="376.5" y="1701" width="131.3" height="9.5" fill="#ffa4a4"/>
<rect x="507.3" y="1701" width="137.4" height="9.5" fill="#ffadad"/>
<rect x="644.2" y="1701" width="131.5" height="9.5" fill="#ffadad"/>
<rect x="376.5" y="1710" width="131.3" height="7.5" fill="#ffb6b6"/>
<rect x="507.3" y="1710" width="137.4" height="7.5" fill="#ffb6b6"/>
<rect x="644.2" y="1710" width="131.5" height="7.5" fill="#ffb6b6"/>
<rect x="376.5" y="1717" width="131.3" height="6.5" fill="#ff9b9b"/>
<rect x="507.3" y="1717" width="137.4" height="6.5" fill="#ff9b9b"/>
<rect x="644.2" y="1717" width="131.5" height="6.5" fill="#ff9b9b"/>
<rect x="376.5" y="1723" width="131.3" height="12.5" fill="#ffd1d1"/>
<rect x="507.3" y="1723" width="137.4" height="12.5" fill="#ffd1d1"/>
<rect x="644.2" y="1723" width="131.5" height="12.5" fill="#ffd1d1"/>
<rect x="376.5" y="1735" width="131.3" height="5.5" fill="#ffeded"/>
<rect x="507.3" y="1735" width="137.4" height="5.5" fill="#ffd1d1"/>
<rect x="644.2" y="1735" width="131.5" height="5.5" fill="#ffd1d1"/>
<rect x="376.5" y="1740" width="131.3" height="4.5" fill="#ffc8c8"/>
<rect x="507.3" y="1740" width="137.4" height="4.5" fill="#ffeded"/>
<rect x="644.2" y="1740" width="131.5" height="4.5" fill="#ffbfbf"/>
<rect x="376.5" y="1744" width="131.3" height="12.5" fill="#ffc8c8"/>
<rect x="507.3" y="1744" width="137.4" height="12.5" fill="#ffbfbf"/>
<rect x="644.2" y="1744" width="131.5" height="12.5" fill="#ffbfbf"/>
<rect x="376.5" y="1756" width="131.3" height="7.5" fill="#ffe4e4"/>
<rect x="507.3" y="1756" width="137.4" height="7.5" fill="#ffbfbf"/>
<rect x="644.2" y="1756" width="131.5" height="7.5" fill="#ffbfbf"/>
<rect x="376.5" y="1763" width="131.3" height="7.5" fill="#ffc8c8"/>
<rect x="507.3" y="1763" width="137.4" height="7.5" fill="#ffbfbf"/>
<rect x="644.2" y="1763" width="131.5" height="7.5" fill="#ffbfbf"/>
<rect x="376.5" y="1770" width="131.3" height="6.5" fill="#ffb2b2"/>
<rect x="507.3" y="1770" width="137.4" height="6.5" fill="#ffbaba"/>
<rect x="644.2" y="1770" width="131.5" height="6.5" fill="#ffbaba"/>
<rect x="376.5" y="1776" width="131.3" height="12.5" fill="#ffbfbf"/>
<rect x="507.3" y="1776" width="137.4" height="12.5" fill="#ffc8c8"/>
<rect x="644.2" y="1776" width="131.5" height="12.5" fill="#ffbfbf"/>
<rect x="376.5" y="1788" width="131.3" height="12.5" fill="#ffb6b6"/>
<rect x="507.3" y="1788" width="137.4" height="12.5" fill="#ffbfbf"/>
<rect x="644.2" y="1788" width="131.5" height="12.5" fill="#ffbfbf"/>
<rect x="376.5" y="1800" width="131.3" height="11.5" fill="#ffbaba"/>
<rect x="507.3" y="1800" width="137.4" height="11.5" fill="#ffadad"/>
<rect x="644.2" y="1800" width="131.5" height="11.5" fill="#ffb6b6"/>
<rect x="376.5" y="1811" width="131.3" height="13.5" fill="#ffbfbf"/>
<rect x="507.3" y="1811" width="137.4" height="13.5" fill="#ffd1d1"/>
<rect x="644.2" y="1811" width="131.5" height="13.5" fill="#ffcccc"/>
<rect x="376.5" y="1824" width="131.3" height="13.5" fill="#ffbfbf"/>
<rect x="507.3" y="1824" width="137.4" height="13.5" fill="#ffdbdb"/>
<rect x="644.2" y="1824" width="131.5" height="13.5" fill="#ffd7d7"/>
<rect x="376.5" y="1837" width="131.3" height="11.5" fill="#ffdbdb"/>
<rect x="507.3" y="1837" width="137.4" height="11.5" fill="#ffd7d7"/>
<rect x="644.2" y="1837" width="131.5" height="11.5" fill="#ffd1d1"/>
<rect x="376.5" y="1848" width="131.3" height="5.5" fill="#ffdbdb"/>
<rect x="507.3" y="1848" width="137.4" height="5.5" fill="#ffd7d7"/>
<rect x="644.2" y="1848" width="131.5" height="5.5" fill="#ffbfbf"/>
<rect x="376.5" y="1853" width="131.3" height="15.5" fill="#ffadad"/>
<rect x="507.3" y="1853" width="137.4" height="15.5" fill="#ffd7d7"/>
<rect x="644.2" y="1853" width="131.5" height="15.5" fill="#ffc8c8"/>
<rect x="376.5" y="1868" width="131.3" height="3.5" fill="#f6f6ff"/>
<rect x="507.3" y="1868" width="137.4" height="3.5" fill="#ededff"/>
<rect x="644.2" y="1868" width="131.5" height="3.5" fill="#ededff"/>
<rect x="376.5" y="1871" width="131.3" height="6.5" fill="#f6f6ff"/>
<rect x="507.3" y="1871" width="137.4" height="6.5" fill="#bfbfff"/>
<rect x="644.2" y="1871" width="131.5" height="6.5" fill="#d1d1ff"/>
<rect x="376.5" y="1877" width="131.3" height="8.5" fill="#bfbfff"/>
<rect x="507.3" y="1877" width="137.4" height="8.5" fill="#bfbfff"/>
<rect x="376.5" y="1885" width="131.3" height="13.5" fill="#ffe9e9"/>
<rect x="507.3" y="1885" width="137.4" height="13.5" fill="#f0f0ff"/>
<rect x="644.2" y="1885" width="131.5" height="13.5" fill="#fffafa"/>
<rect x="507.3" y="1898" width="137.4" height="11.5" fill="#ededff"/>
<rect x="644.2" y="1898" width="131.5" height="11.5" fill="#fafaff"/>
<rect x="376.5" y="1909" width="131.3" height="13.5" fill="#ffb6b6"/>
<rect x="507.3" y="1909" width="137.4" height="13.5" fill="#ffdede"/>
<rect x="644.2" y="1909" width="131.5" height="13.5" fill="#ffd1d1"/>
<rect x="376.5" y="1922" width="131.3" height="8.5" fill="#ffc8c8"/>
<rect x="507.3" y="1922" width="137.4" height="8.5" fill="#ffdede"/>
<rect x="644.2" y="1922" width="131.5" height="8.5" fill="#ffd7d7"/>
<rect x="376.5" y="1930" width="131.3" height="8.5" fill="#ffb6b6"/>
<rect x="507.3" y="1930" width="137.4" height="8.5" fill="#ffdede"/>
<rect x="644.2" y="1930" width="131.5" height="8.5" fill="#ffd7d7"/>
<rect x="376.5" y="1938" width="131.3" height="11.5" fill="#fffbfb"/>
<rect x="507.3" y="1938" width="137.4" height="11.5" fill="#ffe9e9"/>
<rect x="644.2" y="1938" width="131.5" height="11.5" fill="#fff6f6"/>
<rect x="376.5" y="1949" width="131.3" height="13.5" fill="#ffe9e9"/>
<rect x="507.3" y="1949" width="137.4" height="13.5" fill="#ffe9e9"/>
<rect x="644.2" y="1949" width="131.5" height="13.5" fill="#ffe4e4"/>
<rect x="376.5" y="1962" width="131.3" height="22.5" fill="#ffeded"/>
<rect x="507.3" y="1962" width="137.4" height="22.5" fill="#ffd1d1"/>
<rect x="644.2" y="1962" width="131.5" height="22.5" fill="#ffd7d7"/>
<rect x="376.5" y="1984" width="131.3" height="21.5" fill="#fff0f0"/>
<rect x="507.3" y="1984" width="137.4" height="21.5" fill="#ffd7d7"/>
<rect x="644.2" y="1984" width="131.5" height="21.5" fill="#ffe4e4"/>
<rect x="376.5" y="2005" width="131.3" height="10.5" fill="#f6f6ff"/>
<rect x="507.3" y="2005" width="137.4" height="10.5" fill="#ffe4e4"/>
<rect x="644.2" y="2005" width="131.5" height="10.5" fill="#ffe4e4"/>
<rect x="376.5" y="2015" width="131.3" height="2.5" fill="#f0f0ff"/>
<rect x="507.3" y="2015" width="137.4" height="2.5" fill="#ffe9e9"/>
<rect x="644.2" y="2015" width="131.5" height="2.5" fill="#ffe9e9"/>
<rect x="507.3" y="2017" width="137.4" height="10.5" fill="#ffe9e9"/>
<rect x="644.2" y="2017" width="131.5" height="10.5" fill="#ffe9e9"/>
<rect x="376.5" y="2027" width="131.3" height="11.5" fill="#ffe4e4"/>
<rect x="507.3" y="2027" width="137.4" height="11.5" fill="#ffe9e9"/>
<rect x="644.2" y="2027" width="131.5" height="11.5" fill="#ffeded"/>
<rect x="507.3" y="2038" width="137.4" height="16.5" fill="#fffafa"/>
<rect x="644.2" y="2038" width="131.5" height="16.5" fill="#fff0f0"/>
<rect x="507.3" y="2054" width="137.4" height="9.5" fill="#ffe9e9"/>
<rect x="644.2" y="2054" width="131.5" height="9.5" fill="#ffe9e9"/>
<rect x="376.5" y="2063" width="131.3" height="15.5" fill="#fafaff"/>
<rect x="507.3" y="2063" width="137.4" height="15.5" fill="#fffafa"/>
<rect x="644.2" y="2063" width="131.5" height="15.5" fill="#fff0f0"/>
<rect x="376.5" y="2078" width="131.3" height="11.5" fill="#e9e9ff"/>
<rect x="507.3" y="2078" width="137.4" height="11.5" fill="#fffafa"/>
<rect x="644.2" y="2078" width="131.5" height="11.5" fill="#fff6f6"/>
<rect x="376.5" y="2089" width="131.3" height="8.5" fill="#fffafa"/>
<rect x="507.3" y="2089" width="137.4" height="8.5" fill="#f0f0ff"/>
<rect x="644.2" y="2089" width="131.5" height="8.5" fill="#fffafa"/>
<rect x="376.5" y="2097" width="131.3" height="9.5" fill="#ffe4e4"/>
<rect x="507.3" y="2097" width="137.4" height="9.5" fill="#ffdbdb"/>
<rect x="644.2" y="2097" width="131.5" height="9.5" fill="#ffe9e9"/>
<rect x="376.5" y="2106" width="131.3" height="11.5" fill="#ffe7e7"/>
<rect x="507.3" y="2106" width="137.4" height="11.5" fill="#fff6f6"/>
<rect x="644.2" y="2106" width="131.5" height="11.5" fill="#ffeded"/>
<rect x="376.5" y="2117" width="131.3" height="9.5" fill="#ffe7e7"/>
<rect x="507.3" y="2117" width="137.4" height="9.5" fill="#ffc8c8"/>
<rect x="644.2" y="2117" width="131.5" height="9.5" fill="#ffd1d1"/>
<rect x="376.5" y="2126" width="131.3" height="15.5" fill="#ffcccc"/>
<rect x="507.3" y="2126" width="137.4" height="15.5" fill="#ffc5c5"/>
<rect x="644.2" y="2126" width="131.5" height="15.5" fill="#ffc5c5"/>
<rect x="376.5" y="2141" width="131.3" height="18.5" fill="#ffc8c8"/>
<rect x="507.3" y="2141" width="137.4" height="18.5" fill="#ffbaba"/>
<rect x="644.2" y="2141" width="131.5" height="18.5" fill="#ffbaba"/>
<rect x="376.5" y="2159" width="131.3" height="16.5" fill="#ffbfbf"/>
<rect x="507.3" y="2159" width="137.4" height="16.5" fill="#ffadad"/>
<rect x="644.2" y="2159" width="131.5" height="16.5" fill="#ffb6b6"/>
<rect x="376.5" y="2175" width="131.3" height="16.5" fill="#ffb6b6"/>
<rect x="507.3" y="2175" width="137.4" height="16.5" fill="#ffadad"/>
<rect x="644.2" y="2175" width="131.5" height="16.5" fill="#ffbfbf"/>
<rect x="376.5" y="2191" width="131.3" height="9.5" fill="#ffadad"/>
<rect x="507.3" y="2191" width="137.4" height="9.5" fill="#ffc8c8"/>
<rect x="644.2" y="2191" width="131.5" height="9.5" fill="#ffc8c8"/>
<rect x="376.5" y="2200" width="131.3" height="11.5" fill="#ffc8c8"/>
<rect x="507.3" y="2200" width="137.4" height="11.5" fill="#ffc8c8"/>
<rect x="644.2" y="2200" width="131.5" height="11.5" fill="#ffc8c8"/>
<rect x="376.5" y="2211" width="131.3" height="15.5" fill="#ffa4a4"/>
<rect x="507.3" y="2211" width="137.4" height="15.5" fill="#ffa4a4"/>
<rect x="644.2" y="2211" width="131.5" height="15.5" fill="#ffa8a8"/>
<rect x="376.5" y="2226" width="131.3" height="16.5" fill="#ffb2b2"/>
<rect x="507.3" y="2226" width="137.4" height="16.5" fill="#ffa8a8"/>
<rect x="644.2" y="2226" width="131.5" height="16.5" fill="#ffabab"/>
<rect x="376.5" y="2242" width="131.3" height="11.5" fill="#ff7676"/>
<rect x="507.3" y="2242" width="137.4" height="11.5" fill="#ff7676"/>
<rect x="644.2" y="2242" width="131.5" height="11.5" fill="#ff7c7c"/>
<rect x="376.5" y="2253" width="131.3" height="19.5" fill="#ff9292"/>
<rect x="507.3" y="2253" width="137.4" height="19.5" fill="#ff9292"/>
<rect x="644.2" y="2253" width="131.5" height="19.5" fill="#ff9292"/>
<rect x="376.5" y="2272" width="131.3" height="11.5" fill="#ff6d6d"/>
<rect x="507.3" y="2272" width="137.4" height="11.5" fill="#ff6d6d"/>
<rect x="644.2" y="2272" width="131.5" height="11.5" fill="#ff6464"/>
<rect x="376.5" y="2283" width="131.3" height="18.5" fill="#ff8c8c"/>
<rect x="507.3" y="2283" width="137.4" height="18.5" fill="#ff9b9b"/>
<rect x="644.2" y="2283" width="131.5" height="18.5" fill="#ff9292"/>
<rect x="376.5" y="2301" width="131.3" height="10.5" fill="#ff7c7c"/>
<rect x="507.3" y="2301" width="137.4" height="10.5" fill="#ff8989"/>
<rect x="644.2" y="2301" width="131.5" height="10.5" fill="#ff8989"/>
<rect x="775.2" y="299" width="132.0" height="10.5" fill="#8080ff"/>
<rect x="906.7" y="299" width="135.2" height="10.5" fill="#8080ff"/>
<rect x="775.2" y="309" width="132.0" height="9.5" fill="#6464ff"/>
<rect x="775.2" y="318" width="132.0" height="3.5" fill="#8989ff"/>
<rect x="775.2" y="321" width="132.0" height="10.5" fill="#8989ff"/>
<rect x="1041.4" y="321" width="133.1" height="10.5" fill="#7676ff"/>
<rect x="775.2" y="331" width="132.0" height="10.5" fill="#dbdbff"/>
<rect x="906.7" y="331" width="135.2" height="10.5" fill="#dbdbff"/>
<rect x="1041.4" y="331" width="133.1" height="10.5" fill="#d7d7ff"/>
<rect x="775.2" y="341" width="132.0" height="9.5" fill="#d7d7ff"/>
<rect x="906.7" y="341" width="135.2" height="9.5" fill="#fffbfb"/>
<rect x="1041.4" y="341" width="133.1" height="9.5" fill="#d7d7ff"/>
<rect x="775.2" y="350" width="132.0" height="17.5" fill="#d7d7ff"/>
<rect x="906.7" y="350" width="135.2" height="17.5" fill="#e4e4ff"/>
<rect x="1041.4" y="350" width="133.1" height="17.5" fill="#d1d1ff"/>
<rect x="775.2" y="367" width="132.0" height="11.5" fill="#bfbfff"/>
<rect x="906.7" y="367" width="135.2" height="11.5" fill="#dbdbff"/>
<rect x="1041.4" y="367" width="133.1" height="11.5" fill="#d1d1ff"/>
<rect x="775.2" y="378" width="132.0" height="11.5" fill="#e4e4ff"/>
<rect x="906.7" y="378" width="135.2" height="11.5" fill="#e4e4ff"/>
<rect x="1041.4" y="378" width="133.1" height="11.5" fill="#e4e4ff"/>
<rect x="775.2" y="389" width="132.0" height="6.5" fill="#d1d1ff"/>
<rect x="906.7" y="389" width="135.2" height="6.5" fill="#e4e4ff"/>
<rect x="1041.4" y="389" width="133.1" height="6.5" fill="#e4e4ff"/>
<rect x="775.2" y="395" width="132.0" height="14.5" fill="#e9e9ff"/>
<rect x="1041.4" y="395" width="133.1" height="14.5" fill="#e9e9ff"/>
<rect x="775.2" y="409" width="132.0" height="13.5" fill="#fafaff"/>
<rect x="906.7" y="409" width="135.2" height="13.5" fill="#e9e9ff"/>
<rect x="1041.4" y="409" width="133.1" height="13.5" fill="#e4e4ff"/>
<rect x="775.2" y="422" width="132.0" height="5.5" fill="#ededff"/>
<rect x="906.7" y="422" width="135.2" height="5.5" fill="#fffafa"/>
<rect x="1041.4" y="422" width="133.1" height="5.5" fill="#f6f6ff"/>
<rect x="775.2" y="427" width="132.0" height="10.5" fill="#ededff"/>
<rect x="906.7" y="427" width="135.2" height="10.5" fill="#ededff"/>
<rect x="1041.4" y="427" width="133.1" height="10.5" fill="#f6f6ff"/>
<rect x="775.2" y="437" width="132.0" height="11.5" fill="#dedeff"/>
<rect x="906.7" y="437" width="135.2" height="11.5" fill="#ededff"/>
<rect x="1041.4" y="437" width="133.1" height="11.5" fill="#dbdbff"/>
<rect x="775.2" y="448" width="132.0" height="7.5" fill="#fafaff"/>
<rect x="906.7" y="448" width="135.2" height="7.5" fill="#ededff"/>
<rect x="1041.4" y="448" width="133.1" height="7.5" fill="#ededff"/>
<rect x="775.2" y="455" width="132.0" height="6.5" fill="#fafaff"/>
<rect x="906.7" y="455" width="135.2" height="6.5" fill="#dedeff"/>
<rect x="1041.4" y="455" width="133.1" height="6.5" fill="#ededff"/>
<rect x="775.2" y="461" width="132.0" height="18.5" fill="#ededff"/>
<rect x="1041.4" y="461" width="133.1" height="18.5" fill="#dedeff"/>
<rect x="775.2" y="479" width="132.0" height="26.5" fill="#bfbfff"/>
<rect x="906.7" y="479" width="135.2" height="26.5" fill="#d1d1ff"/>
<rect x="1041.4" y="479" width="133.1" height="26.5" fill="#ccccff"/>
<rect x="775.2" y="505" width="132.0" height="13.5" fill="#9b9bff"/>
<rect x="906.7" y="505" width="135.2" height="13.5" fill="#b6b6ff"/>
<rect x="1041.4" y="505" width="133.1" height="13.5" fill="#d1d1ff"/>
<rect x="775.2" y="518" width="132.0" height="7.5" fill="#9b9bff"/>
<rect x="906.7" y="518" width="135.2" height="7.5" fill="#b6b6ff"/>
<rect x="1041.4" y="518" width="133.1" height="7.5" fill="#ededff"/>
<rect x="906.7" y="525" width="135.2" height="10.5" fill="#b6b6ff"/>
<rect x="1041.4" y="525" width="133.1" height="10.5" fill="#a4a4ff"/>
<rect x="775.2" y="535" width="132.0" height="10.5" fill="#9b9bff"/>
<rect x="906.7" y="535" width="135.2" height="10.5" fill="#e4e4ff"/>
<rect x="1041.4" y="535" width="133.1" height="10.5" fill="#fafaff"/>
<rect x="775.2" y="545" width="132.0" height="26.5" fill="#c8c8ff"/>
<rect x="906.7" y="545" width="135.2" height="26.5" fill="#e4e4ff"/>
<rect x="1041.4" y="545" width="133.1" height="26.5" fill="#d5d5ff"/>
<rect x="775.2" y="571" width="132.0" height="7.5" fill="#c8c8ff"/>
<rect x="906.7" y="571" width="135.2" height="7.5" fill="#e4e4ff"/>
<rect x="1041.4" y="571" width="133.1" height="7.5" fill="#d1d1ff"/>
<rect x="775.2" y="578" width="132.0" height="8.5" fill="#c8c8ff"/>
<rect x="906.7" y="578" width="135.2" height="8.5" fill="#e4e4ff"/>
<rect x="775.2" y="586" width="132.0" height="9.5" fill="#c8c8ff"/>
<rect x="906.7" y="586" width="135.2" height="9.5" fill="#b6b6ff"/>
<rect x="775.2" y="595" width="132.0" height="13.5" fill="#c8c8ff"/>
<rect x="906.7" y="595" width="135.2" height="13.5" fill="#d1d1ff"/>
<rect x="1041.4" y="595" width="133.1" height="13.5" fill="#a4a4ff"/>
<rect x="775.2" y="608" width="132.0" height="6.5" fill="#ccccff"/>
<rect x="906.7" y="608" width="135.2" height="6.5" fill="#adadff"/>
<rect x="1041.4" y="608" width="133.1" height="6.5" fill="#ccccff"/>
<rect x="775.2" y="614" width="132.0" height="22.5" fill="#ccccff"/>
<rect x="906.7" y="614" width="135.2" height="22.5" fill="#bfbfff"/>
<rect x="1041.4" y="614" width="133.1" height="22.5" fill="#ccccff"/>
<rect x="775.2" y="636" width="132.0" height="9.5" fill="#e9e9ff"/>
<rect x="906.7" y="636" width="135.2" height="9.5" fill="#9b9bff"/>
<rect x="1041.4" y="636" width="133.1" height="9.5" fill="#d1d1ff"/>
<rect x="775.2" y="645" width="132.0" height="9.5" fill="#b6b6ff"/>
<rect x="1041.4" y="645" width="133.1" height="9.5" fill="#bfbfff"/>
<rect x="775.2" y="654" width="132.0" height="17.5" fill="#babaff"/>
<rect x="906.7" y="654" width="135.2" height="17.5" fill="#ccccff"/>
<rect x="1041.4" y="654" width="133.1" height="17.5" fill="#bfbfff"/>
<rect x="775.2" y="671" width="132.0" height="7.5" fill="#bfbfff"/>
<rect x="906.7" y="671" width="135.2" height="7.5" fill="#ccccff"/>
<rect x="1041.4" y="671" width="133.1" height="7.5" fill="#dbdbff"/>
<rect x="775.2" y="678" width="132.0" height="13.5" fill="#adadff"/>
<rect x="906.7" y="678" width="135.2" height="13.5" fill="#ccccff"/>
<rect x="1041.4" y="678" width="133.1" height="13.5" fill="#dbdbff"/>
<rect x="775.2" y="691" width="132.0" height="9.5" fill="#9292ff"/>
<rect x="906.7" y="691" width="135.2" height="9.5" fill="#9b9bff"/>
<rect x="1041.4" y="691" width="133.1" height="9.5" fill="#9292ff"/>
<rect x="775.2" y="700" width="132.0" height="12.5" fill="#a4a4ff"/>
<rect x="906.7" y="700" width="135.2" height="12.5" fill="#bfbfff"/>
<rect x="1041.4" y="700" width="133.1" height="12.5" fill="#adadff"/>
<rect x="775.2" y="712" width="132.0" height="7.5" fill="#a4a4ff"/>
<rect x="906.7" y="712" width="135.2" height="7.5" fill="#bfbfff"/>
<rect x="1041.4" y="712" width="133.1" height="7.5" fill="#9292ff"/>
<rect x="775.2" y="719" width="132.0" height="9.5" fill="#8989ff"/>
<rect x="906.7" y="719" width="135.2" height="9.5" fill="#a4a4ff"/>
<rect x="1041.4" y="719" width="133.1" height="9.5" fill="#9292ff"/>
<rect x="1041.4" y="728" width="133.1" height="4.5" fill="#8989ff"/>
<rect x="906.7" y="732" width="135.2" height="6.5" fill="#f6f6ff"/>
<rect x="1041.4" y="732" width="133.1" height="6.5" fill="#9b9bff"/>
<rect x="906.7" y="738" width="135.2" height="15.5" fill="#9b9bff"/>
<rect x="1041.4" y="738" width="133.1" height="15.5" fill="#9292ff"/>
<rect x="775.2" y="753" width="132.0" height="14.5" fill="#9292ff"/>
<rect x="906.7" y="753" width="135.2" height="14.5" fill="#b6b6ff"/>
<rect x="1041.4" y="753" width="133.1" height="14.5" fill="#adadff"/>
<rect x="775.2" y="767" width="132.0" height="15.5" fill="#bfbfff"/>
<rect x="906.7" y="767" width="135.2" height="15.5" fill="#bfbfff"/>
<rect x="1041.4" y="767" width="133.1" height="15.5" fill="#adadff"/>
<rect x="775.2" y="782" width="132.0" height="8.5" fill="#bfbfff"/>
<rect x="906.7" y="782" width="135.2" height="8.5" fill="#bfbfff"/>
<rect x="1041.4" y="782" width="133.1" height="8.5" fill="#a4a4ff"/>
<rect x="775.2" y="790" width="132.0" height="12.5" fill="#b6b6ff"/>
<rect x="906.7" y="790" width="135.2" height="12.5" fill="#c8c8ff"/>
<rect x="1041.4" y="790" width="133.1" height="12.5" fill="#a4a4ff"/>
<rect x="775.2" y="802" width="132.0" height="11.5" fill="#7676ff"/>
<rect x="906.7" y="802" width="135.2" height="11.5" fill="#8989ff"/>
<rect x="1041.4" y="802" width="133.1" height="11.5" fill="#9b9bff"/>
<rect x="775.2" y="813" width="132.0" height="9.5" fill="#7676ff"/>
<rect x="906.7" y="813" width="135.2" height="9.5" fill="#a4a4ff"/>
<rect x="1041.4" y="813" width="133.1" height="9.5" fill="#7676ff"/>
<rect x="1041.4" y="822" width="133.1" height="24.5" fill="#a4a4ff"/>
<rect x="906.7" y="846" width="135.2" height="4.5" fill="#8080ff"/>
<rect x="1041.4" y="846" width="133.1" height="4.5" fill="#a4a4ff"/>
<rect x="775.2" y="850" width="132.0" height="5.5" fill="#d1d1ff"/>
<rect x="906.7" y="850" width="135.2" height="5.5" fill="#8080ff"/>
<rect x="1041.4" y="850" width="133.1" height="5.5" fill="#a4a4ff"/>
<rect x="906.7" y="855" width="135.2" height="11.5" fill="#fffafa"/>
<rect x="1041.4" y="855" width="133.1" height="11.5" fill="#fff6f6"/>
<rect x="775.2" y="866" width="132.0" height="9.5" fill="#d1d1ff"/>
<rect x="906.7" y="866" width="135.2" height="9.5" fill="#dbdbff"/>
<rect x="1041.4" y="866" width="133.1" height="9.5" fill="#d1d1ff"/>
<rect x="775.2" y="875" width="132.0" height="6.5" fill="#f6f6ff"/>
<rect x="906.7" y="875" width="135.2" height="6.5" fill="#f6f6ff"/>
<rect x="775.2" y="881" width="132.0" height="8.5" fill="#ededff"/>
<rect x="906.7" y="881" width="135.2" height="8.5" fill="#dbdbff"/>
<rect x="775.2" y="889" width="132.0" height="5.5" fill="#f6f6ff"/>
<rect x="906.7" y="889" width="135.2" height="5.5" fill="#f6f6ff"/>
<rect x="775.2" y="894" width="132.0" height="9.5" fill="#ffdbdb"/>
<rect x="906.7" y="894" width="135.2" height="9.5" fill="#ffd7d7"/>
<rect x="1041.4" y="894" width="133.1" height="9.5" fill="#ffd1d1"/>
<rect x="775.2" y="903" width="132.0" height="9.5" fill="#8989ff"/>
<rect x="906.7" y="903" width="135.2" height="9.5" fill="#e4e4ff"/>
<rect x="1041.4" y="903" width="133.1" height="9.5" fill="#e4e4ff"/>
<rect x="775.2" y="912" width="132.0" height="4.5" fill="#d1d1ff"/>
<rect x="906.7" y="912" width="135.2" height="4.5" fill="#ededff"/>
<rect x="1041.4" y="912" width="133.1" height="4.5" fill="#dbdbff"/>
<rect x="775.2" y="916" width="132.0" height="9.5" fill="#d1d1ff"/>
<rect x="1041.4" y="916" width="133.1" height="9.5" fill="#dbdbff"/>
<rect x="775.2" y="925" width="132.0" height="7.5" fill="#d1d1ff"/>
<rect x="906.7" y="925" width="135.2" height="7.5" fill="#ededff"/>
<rect x="1041.4" y="925" width="133.1" height="7.5" fill="#ededff"/>
<rect x="775.2" y="932" width="132.0" height="6.5" fill="#d1d1ff"/>
<rect x="906.7" y="932" width="135.2" height="6.5" fill="#ededff"/>
<rect x="1041.4" y="932" width="133.1" height="6.5" fill="#fffafa"/>
<rect x="775.2" y="938" width="132.0" height="9.5" fill="#9b9bff"/>
<rect x="906.7" y="938" width="135.2" height="9.5" fill="#dbdbff"/>
<rect x="1041.4" y="938" width="133.1" height="9.5" fill="#fffbfb"/>
<rect x="906.7" y="947" width="135.2" height="11.5" fill="#f6f6ff"/>
<rect x="1041.4" y="947" width="133.1" height="11.5" fill="#c8c8ff"/>
<rect x="775.2" y="958" width="132.0" height="13.5" fill="#fafaff"/>
<rect x="1041.4" y="958" width="133.1" height="13.5" fill="#ededff"/>
<rect x="775.2" y="971" width="132.0" height="24.5" fill="#fff0f0"/>
<rect x="906.7" y="971" width="135.2" height="24.5" fill="#fff0f0"/>
<rect x="1041.4" y="971" width="133.1" height="24.5" fill="#fff0f0"/>
<rect x="775.2" y="995" width="132.0" height="33.5" fill="#ffe4e4"/>
<rect x="906.7" y="995" width="135.2" height="33.5" fill="#ffe9e9"/>
<rect x="1041.4" y="995" width="133.1" height="33.5" fill="#ffe9e9"/>
<rect x="906.7" y="1028" width="135.2" height="7.5" fill="#fffafa"/>
<rect x="906.7" y="1035" width="135.2" height="12.5" fill="#f6f6ff"/>
<rect x="1041.4" y="1035" width="133.1" height="12.5" fill="#f0f0ff"/>
<rect x="906.7" y="1047" width="135.2" height="7.5" fill="#c8c8ff"/>
<rect x="906.7" y="1054" width="135.2" height="13.5" fill="#8989ff"/>
<rect x="775.2" y="1067" width="132.0" height="13.5" fill="#f6f6ff"/>
<rect x="906.7" y="1067" width="135.2" height="13.5" fill="#f6f6ff"/>
<rect x="1041.4" y="1067" width="133.1" height="13.5" fill="#fffbfb"/>
<rect x="775.2" y="1080" width="132.0" height="11.5" fill="#fff6f6"/>
<rect x="906.7" y="1080" width="135.2" height="11.5" fill="#ffeded"/>
<rect x="1041.4" y="1080" width="133.1" height="11.5" fill="#fffafa"/>
<rect x="775.2" y="1091" width="132.0" height="22.5" fill="#fffafa"/>
<rect x="906.7" y="1091" width="135.2" height="22.5" fill="#fffbfb"/>
<rect x="775.2" y="1113" width="132.0" height="7.5" fill="#fafaff"/>
<rect x="906.7" y="1113" width="135.2" height="7.5" fill="#fffafa"/>
<rect x="1041.4" y="1113" width="133.1" height="7.5" fill="#f0f0ff"/>
<rect x="775.2" y="1120" width="132.0" height="15.5" fill="#fafaff"/>
<rect x="1041.4" y="1120" width="133.1" height="15.5" fill="#fafaff"/>
<rect x="775.2" y="1135" width="132.0" height="7.5" fill="#fff6f6"/>
<rect x="906.7" y="1135" width="135.2" height="7.5" fill="#ffe9e9"/>
<rect x="1041.4" y="1135" width="133.1" height="7.5" fill="#fff6f6"/>
<rect x="775.2" y="1142" width="132.0" height="15.5" fill="#dedeff"/>
<rect x="906.7" y="1142" width="135.2" height="15.5" fill="#f6f6ff"/>
<rect x="1041.4" y="1142" width="133.1" height="15.5" fill="#e4e4ff"/>
<rect x="775.2" y="1157" width="132.0" height="24.5" fill="#fafaff"/>
<rect x="906.7" y="1157" width="135.2" height="24.5" fill="#fffbfb"/>
<rect x="775.2" y="1181" width="132.0" height="9.5" fill="#e4e4ff"/>
<rect x="906.7" y="1181" width="135.2" height="9.5" fill="#e9e9ff"/>
<rect x="1041.4" y="1181" width="133.1" height="9.5" fill="#ededff"/>
<rect x="775.2" y="1190" width="132.0" height="21.5" fill="#ffeded"/>
<rect x="906.7" y="1190" width="135.2" height="21.5" fill="#fff6f6"/>
<rect x="1041.4" y="1190" width="133.1" height="21.5" fill="#fff0f0"/>
<rect x="775.2" y="1220" width="132.0" height="9.5" fill="#fff6f6"/>
<rect x="906.7" y="1220" width="135.2" height="9.5" fill="#fff0f0"/>
<rect x="1041.4" y="1220" width="133.1" height="9.5" fill="#fff0f0"/>
<rect x="775.2" y="1229" width="132.0" height="17.5" fill="#ededff"/>
<rect x="906.7" y="1229" width="135.2" height="17.5" fill="#fafaff"/>
<rect x="1041.4" y="1229" width="133.1" height="17.5" fill="#e4e4ff"/>
<rect x="775.2" y="1246" width="132.0" height="6.5" fill="#f6f6ff"/>
<rect x="1041.4" y="1246" width="133.1" height="6.5" fill="#f6f6ff"/>
<rect x="775.2" y="1252" width="132.0" height="16.5" fill="#f6f6ff"/>
<rect x="906.7" y="1252" width="135.2" height="16.5" fill="#d1d1ff"/>
<rect x="1041.4" y="1252" width="133.1" height="16.5" fill="#f0f0ff"/>
<rect x="775.2" y="1268" width="132.0" height="12.5" fill="#fffbfb"/>
<rect x="906.7" y="1268" width="135.2" height="12.5" fill="#fff0f0"/>
<rect x="1041.4" y="1268" width="133.1" height="12.5" fill="#fffafa"/>
<rect x="775.2" y="1280" width="132.0" height="8.5" fill="#fff6f6"/>
<rect x="906.7" y="1280" width="135.2" height="8.5" fill="#fff0f0"/>
<rect x="1041.4" y="1280" width="133.1" height="8.5" fill="#fff6f6"/>
<rect x="906.7" y="1288" width="135.2" height="9.5" fill="#fff0f0"/>
<rect x="1041.4" y="1288" width="133.1" height="9.5" fill="#fff0f0"/>
<rect x="775.2" y="1297" width="132.0" height="10.5" fill="#fff0f0"/>
<rect x="906.7" y="1297" width="135.2" height="10.5" fill="#ffe4e4"/>
<rect x="1041.4" y="1297" width="133.1" height="10.5" fill="#ffeded"/>
<rect x="906.7" y="1307" width="135.2" height="7.5" fill="#e4e4ff"/>
<rect x="1041.4" y="1307" width="133.1" height="7.5" fill="#f6f6ff"/>
<rect x="775.2" y="1314" width="132.0" height="8.5" fill="#ededff"/>
<rect x="906.7" y="1314" width="135.2" height="8.5" fill="#e4e4ff"/>
<rect x="1041.4" y="1314" width="133.1" height="8.5" fill="#f6f6ff"/>
<rect x="775.2" y="1333" width="132.0" height="12.5" fill="#ff1212"/>
<rect x="906.7" y="1333" width="135.2" height="12.5" fill="#ff1212"/>
<rect x="1041.4" y="1333" width="133.1" height="12.5" fill="#ff1212"/>
<rect x="775.2" y="1345" width="132.0" height="15.5" fill="#ff4040"/>
<rect x="906.7" y="1345" width="135.2" height="15.5" fill="#ff4040"/>
<rect x="1041.4" y="1345" width="133.1" height="15.5" fill="#ff4040"/>
<rect x="775.2" y="1360" width="132.0" height="7.5" fill="#ff2424"/>
<rect x="906.7" y="1360" width="135.2" height="7.5" fill="#ff2424"/>
<rect x="1041.4" y="1360" width="133.1" height="7.5" fill="#ff2424"/>
<rect x="775.2" y="1367" width="132.0" height="17.5" fill="#fffafa"/>
<rect x="906.7" y="1367" width="135.2" height="17.5" fill="#fff0f0"/>
<rect x="1041.4" y="1367" width="133.1" height="17.5" fill="#fff6f6"/>
<rect x="775.2" y="1384" width="132.0" height="22.5" fill="#ffe9e9"/>
<rect x="906.7" y="1384" width="135.2" height="22.5" fill="#ffe9e9"/>
<rect x="1041.4" y="1384" width="133.1" height="22.5" fill="#ffe7e7"/>
<rect x="775.2" y="1406" width="132.0" height="10.5" fill="#fff0f0"/>
<rect x="906.7" y="1406" width="135.2" height="10.5" fill="#fffafa"/>
<rect x="1041.4" y="1406" width="133.1" height="10.5" fill="#fff6f6"/>
<rect x="775.2" y="1416" width="132.0" height="8.5" fill="#fff0f0"/>
<rect x="906.7" y="1416" width="135.2" height="8.5" fill="#fff0f0"/>
<rect x="1041.4" y="1416" width="133.1" height="8.5" fill="#fffbfb"/>
<rect x="775.2" y="1424" width="132.0" height="22.5" fill="#ffe9e9"/>
<rect x="906.7" y="1424" width="135.2" height="22.5" fill="#ffdede"/>
<rect x="1041.4" y="1424" width="133.1" height="22.5" fill="#ffe9e9"/>
<rect x="775.2" y="1446" width="132.0" height="4.5" fill="#ffe9e9"/>
<rect x="906.7" y="1446" width="135.2" height="4.5" fill="#fff6f6"/>
<rect x="1041.4" y="1446" width="133.1" height="4.5" fill="#ffe9e9"/>
<rect x="775.2" y="1450" width="132.0" height="28.5" fill="#ffdede"/>
<rect x="906.7" y="1450" width="135.2" height="28.5" fill="#ffd7d7"/>
<rect x="1041.4" y="1450" width="133.1" height="28.5" fill="#ffdede"/>
<rect x="775.2" y="1478" width="132.0" height="47.5" fill="#ffcccc"/>
<rect x="906.7" y="1478" width="135.2" height="47.5" fill="#ffc8c8"/>
<rect x="1041.4" y="1478" width="133.1" height="47.5" fill="#ffc8c8"/>
<rect x="775.2" y="1525" width="132.0" height="4.5" fill="#ffbfbf"/>
<rect x="906.7" y="1525" width="135.2" height="4.5" fill="#ffd1d1"/>
<rect x="1041.4" y="1525" width="133.1" height="4.5" fill="#ffb6b6"/>
<rect x="775.2" y="1529" width="132.0" height="15.5" fill="#ffb6b6"/>
<rect x="906.7" y="1529" width="135.2" height="15.5" fill="#ffb2b2"/>
<rect x="1041.4" y="1529" width="133.1" height="15.5" fill="#ffadad"/>
<rect x="775.2" y="1544" width="132.0" height="12.5" fill="#ffc5c5"/>
<rect x="906.7" y="1544" width="135.2" height="12.5" fill="#ffbaba"/>
<rect x="1041.4" y="1544" width="133.1" height="12.5" fill="#ffbaba"/>
<rect x="775.2" y="1556" width="132.0" height="10.5" fill="#ffbdbd"/>
<rect x="906.7" y="1556" width="135.2" height="10.5" fill="#ffb6b6"/>
<rect x="1041.4" y="1556" width="133.1" height="10.5" fill="#ffb6b6"/>
<rect x="775.2" y="1566" width="132.0" height="14.5" fill="#ffc8c8"/>
<rect x="906.7" y="1566" width="135.2" height="14.5" fill="#ffbdbd"/>
<rect x="1041.4" y="1566" width="133.1" height="14.5" fill="#ffbdbd"/>
<rect x="775.2" y="1580" width="132.0" height="12.5" fill="#ffc1c1"/>
<rect x="906.7" y="1580" width="135.2" height="12.5" fill="#ffbaba"/>
<rect x="1041.4" y="1580" width="133.1" height="12.5" fill="#ffbaba"/>
<rect x="775.2" y="1592" width="132.0" height="9.5" fill="#ffdbdb"/>
<rect x="906.7" y="1592" width="135.2" height="9.5" fill="#ffd7d7"/>
<rect x="1041.4" y="1592" width="133.1" height="9.5" fill="#ffd7d7"/>
<rect x="775.2" y="1601" width="132.0" height="11.5" fill="#ffb6b6"/>
<rect x="906.7" y="1601" width="135.2" height="11.5" fill="#ffadad"/>
<rect x="1041.4" y="1601" width="133.1" height="11.5" fill="#ffb6b6"/>
<rect x="775.2" y="1612" width="132.0" height="4.5" fill="#ffeded"/>
<rect x="906.7" y="1612" width="135.2" height="4.5" fill="#ffd1d1"/>
<rect x="1041.4" y="1612" width="133.1" height="4.5" fill="#ffe4e4"/>
<rect x="775.2" y="1616" width="132.0" height="9.5" fill="#ffe4e4"/>
<rect x="906.7" y="1616" width="135.2" height="9.5" fill="#ffd1d1"/>
<rect x="1041.4" y="1616" width="133.1" height="9.5" fill="#ffe4e4"/>
<rect x="775.2" y="1625" width="132.0" height="7.5" fill="#ffeded"/>
<rect x="906.7" y="1625" width="135.2" height="7.5" fill="#ffd1d1"/>
<rect x="1041.4" y="1625" width="133.1" height="7.5" fill="#ffd1d1"/>
<rect x="775.2" y="1632" width="132.0" height="17.5" fill="#f6f6ff"/>
<rect x="906.7" y="1632" width="135.2" height="17.5" fill="#f6f6ff"/>
<rect x="775.2" y="1649" width="132.0" height="11.5" fill="#adadff"/>
<rect x="906.7" y="1649" width="135.2" height="11.5" fill="#dbdbff"/>
<rect x="1041.4" y="1649" width="133.1" height="11.5" fill="#a4a4ff"/>
<rect x="775.2" y="1660" width="132.0" height="11.5" fill="#c8c8ff"/>
<rect x="906.7" y="1660" width="135.2" height="11.5" fill="#ededff"/>
<rect x="1041.4" y="1660" width="133.1" height="11.5" fill="#dbdbff"/>
<rect x="775.2" y="1671" width="132.0" height="11.5" fill="#9292ff"/>
<rect x="906.7" y="1671" width="135.2" height="11.5" fill="#dbdbff"/>
<rect x="1041.4" y="1671" width="133.1" height="11.5" fill="#adadff"/>
<rect x="775.2" y="1682" width="132.0" height="8.5" fill="#b6b6ff"/>
<rect x="906.7" y="1682" width="135.2" height="8.5" fill="#d1d1ff"/>
<rect x="1041.4" y="1682" width="133.1" height="8.5" fill="#adadff"/>
<rect x="775.2" y="1690" width="132.0" height="7.5" fill="#b6b6ff"/>
<rect x="906.7" y="1690" width="135.2" height="7.5" fill="#bfbfff"/>
<rect x="1041.4" y="1690" width="133.1" height="7.5" fill="#c8c8ff"/>
<rect x="775.2" y="1697" width="132.0" height="6.5" fill="#c8c8ff"/>
<rect x="906.7" y="1697" width="135.2" height="6.5" fill="#bfbfff"/>
<rect x="1041.4" y="1697" width="133.1" height="6.5" fill="#d1d1ff"/>
<rect x="775.2" y="1703" width="132.0" height="9.5" fill="#c8c8ff"/>
<rect x="1041.4" y="1703" width="133.1" height="9.5" fill="#ededff"/>
<rect x="906.7" y="1712" width="135.2" height="6.5" fill="#d1d1ff"/>
<rect x="1041.4" y="1712" width="133.1" height="6.5" fill="#bfbfff"/>
<rect x="906.7" y="1718" width="135.2" height="3.5" fill="#d1d1ff"/>
<rect x="775.2" y="1721" width="132.0" height="9.5" fill="#c8c8ff"/>
<rect x="906.7" y="1721" width="135.2" height="9.5" fill="#d1d1ff"/>
<rect x="906.7" y="1730" width="135.2" height="6.5" fill="#adadff"/>
<rect x="775.2" y="1736" width="132.0" height="34.5" fill="#fffbfb"/>
<rect x="906.7" y="1736" width="135.2" height="34.5" fill="#fffbfb"/>
<rect x="1041.4" y="1736" width="133.1" height="34.5" fill="#fffafa"/>
<rect x="775.2" y="1770" width="132.0" height="5.5" fill="#fffbfb"/>
<rect x="906.7" y="1770" width="135.2" height="5.5" fill="#fffafa"/>
<rect x="1041.4" y="1770" width="133.1" height="5.5" fill="#f6f6ff"/>
<rect x="775.2" y="1775" width="132.0" height="5.5" fill="#fff6f6"/>
<rect x="906.7" y="1775" width="135.2" height="5.5" fill="#fffafa"/>
<rect x="775.2" y="1780" width="132.0" height="11.5" fill="#fffbfb"/>
<rect x="906.7" y="1780" width="135.2" height="11.5" fill="#fffafa"/>
<rect x="1041.4" y="1780" width="133.1" height="11.5" fill="#fffafa"/>
<rect x="775.2" y="1791" width="132.0" height="9.5" fill="#e4e4ff"/>
<rect x="906.7" y="1791" width="135.2" height="9.5" fill="#fbfbff"/>
<rect x="1041.4" y="1791" width="133.1" height="9.5" fill="#ededff"/>
<rect x="775.2" y="1800" width="132.0" height="5.5" fill="#f0f0ff"/>
<rect x="906.7" y="1800" width="135.2" height="5.5" fill="#fbfbff"/>
<rect x="775.2" y="1805" width="132.0" height="8.5" fill="#f0f0ff"/>
<rect x="906.7" y="1805" width="135.2" height="8.5" fill="#fbfbff"/>
<rect x="1041.4" y="1805" width="133.1" height="8.5" fill="#d1d1ff"/>
<rect x="775.2" y="1813" width="132.0" height="11.5" fill="#fff6f6"/>
<rect x="906.7" y="1813" width="135.2" height="11.5" fill="#fff0f0"/>
<rect x="1041.4" y="1813" width="133.1" height="11.5" fill="#fff6f6"/>
<rect x="775.2" y="1824" width="132.0" height="11.5" fill="#ededff"/>
<rect x="906.7" y="1824" width="135.2" height="11.5" fill="#fffbfb"/>
<rect x="1041.4" y="1824" width="133.1" height="11.5" fill="#fffbfb"/>
<rect x="775.2" y="1835" width="132.0" height="33.5" fill="#f8f8ff"/>
<rect x="1041.4" y="1835" width="133.1" height="33.5" fill="#fbfbff"/>
<rect x="775.2" y="1868" width="132.0" height="11.5" fill="#ffadad"/>
<rect x="906.7" y="1868" width="135.2" height="11.5" fill="#ffbaba"/>
<rect x="1041.4" y="1868" width="133.1" height="11.5" fill="#ffa4a4"/>
<rect x="775.2" y="1879" width="132.0" height="15.5" fill="#ffc5c5"/>
<rect x="906.7" y="1879" width="135.2" height="15.5" fill="#ffb2b2"/>
<rect x="1041.4" y="1879" width="133.1" height="15.5" fill="#ffbfbf"/>
<rect x="775.2" y="1894" width="132.0" height="15.5" fill="#ffdbdb"/>
<rect x="906.7" y="1894" width="135.2" height="15.5" fill="#ffd1d1"/>
<rect x="1041.4" y="1894" width="133.1" height="15.5" fill="#ffd7d7"/>
<rect x="775.2" y="1909" width="132.0" height="16.5" fill="#ffcccc"/>
<rect x="906.7" y="1909" width="135.2" height="16.5" fill="#ffc8c8"/>
<rect x="1041.4" y="1909" width="133.1" height="16.5" fill="#ffc8c8"/>
<rect x="775.2" y="1925" width="132.0" height="21.5" fill="#ffcccc"/>
<rect x="906.7" y="1925" width="135.2" height="21.5" fill="#ffbaba"/>
<rect x="1041.4" y="1925" width="133.1" height="21.5" fill="#ffd0d0"/>
<rect x="775.2" y="1946" width="132.0" height="7.5" fill="#ffcccc"/>
<rect x="906.7" y="1946" width="135.2" height="7.5" fill="#ffc8c8"/>
<rect x="1041.4" y="1946" width="133.1" height="7.5" fill="#ffc8c8"/>
<rect x="775.2" y="1953" width="132.0" height="31.5" fill="#ffbfbf"/>
<rect x="906.7" y="1953" width="135.2" height="31.5" fill="#ffc8c8"/>
<rect x="1041.4" y="1953" width="133.1" height="31.5" fill="#ffbfbf"/>
<rect x="775.2" y="1984" width="132.0" height="31.5" fill="#ffcccc"/>
<rect x="906.7" y="1984" width="135.2" height="31.5" fill="#ffd5d5"/>
<rect x="1041.4" y="1984" width="133.1" height="31.5" fill="#ffcccc"/>
<rect x="775.2" y="2015" width="132.0" height="2.5" fill="#ffe9e9"/>
<rect x="906.7" y="2015" width="135.2" height="2.5" fill="#ffeded"/>
<rect x="1041.4" y="2015" width="133.1" height="2.5" fill="#ffe9e9"/>
<rect x="775.2" y="2017" width="132.0" height="6.5" fill="#fff6f6"/>
<rect x="906.7" y="2017" width="135.2" height="6.5" fill="#ffeded"/>
<rect x="1041.4" y="2017" width="133.1" height="6.5" fill="#ffe9e9"/>
<rect x="775.2" y="2023" width="132.0" height="7.5" fill="#ffe4e4"/>
<rect x="906.7" y="2023" width="135.2" height="7.5" fill="#ffdede"/>
<rect x="1041.4" y="2023" width="133.1" height="7.5" fill="#ffe4e4"/>
<rect x="775.2" y="2030" width="132.0" height="6.5" fill="#ffe4e4"/>
<rect x="906.7" y="2030" width="135.2" height="6.5" fill="#ffd1d1"/>
<rect x="1041.4" y="2030" width="133.1" height="6.5" fill="#ffe4e4"/>
<rect x="775.2" y="2036" width="132.0" height="9.5" fill="#ffe4e4"/>
<rect x="906.7" y="2036" width="135.2" height="9.5" fill="#ffdede"/>
<rect x="1041.4" y="2036" width="133.1" height="9.5" fill="#ffe7e7"/>
<rect x="775.2" y="2045" width="132.0" height="7.5" fill="#ffeded"/>
<rect x="906.7" y="2045" width="135.2" height="7.5" fill="#ffdede"/>
<rect x="1041.4" y="2045" width="133.1" height="7.5" fill="#ffe7e7"/>
<rect x="775.2" y="2052" width="132.0" height="19.5" fill="#ffe4e4"/>
<rect x="906.7" y="2052" width="135.2" height="19.5" fill="#ffdede"/>
<rect x="1041.4" y="2052" width="133.1" height="19.5" fill="#ffe7e7"/>
<rect x="775.2" y="2071" width="132.0" height="9.5" fill="#ffeded"/>
<rect x="906.7" y="2071" width="135.2" height="9.5" fill="#fffafa"/>
<rect x="1041.4" y="2071" width="133.1" height="9.5" fill="#ffe9e9"/>
<rect x="775.2" y="2080" width="132.0" height="7.5" fill="#ffbfbf"/>
<rect x="906.7" y="2080" width="135.2" height="7.5" fill="#ffbaba"/>
<rect x="1041.4" y="2080" width="133.1" height="7.5" fill="#ffc8c8"/>
<rect x="775.2" y="2087" width="132.0" height="15.5" fill="#ffbfbf"/>
<rect x="906.7" y="2087" width="135.2" height="15.5" fill="#ffc8c8"/>
<rect x="1041.4" y="2087" width="133.1" height="15.5" fill="#ffc8c8"/>
<rect x="775.2" y="2102" width="132.0" height="9.5" fill="#ff9292"/>
<rect x="906.7" y="2102" width="135.2" height="9.5" fill="#ff9292"/>
<rect x="1041.4" y="2102" width="133.1" height="9.5" fill="#ff9292"/>
<rect x="775.2" y="2111" width="132.0" height="24.5" fill="#ffb2b2"/>
<rect x="906.7" y="2111" width="135.2" height="24.5" fill="#ffadad"/>
<rect x="1041.4" y="2111" width="133.1" height="24.5" fill="#ffadad"/>
<rect x="775.2" y="2135" width="132.0" height="28.5" fill="#ffa8a8"/>
<rect x="906.7" y="2135" width="135.2" height="28.5" fill="#ffadad"/>
<rect x="1041.4" y="2135" width="133.1" height="28.5" fill="#ffa4a4"/>
<rect x="775.2" y="2163" width="132.0" height="22.5" fill="#ff9b9b"/>
<rect x="906.7" y="2163" width="135.2" height="22.5" fill="#ff9b9b"/>
<rect x="1041.4" y="2163" width="133.1" height="22.5" fill="#ff9b9b"/>
<rect x="775.2" y="2185" width="132.0" height="22.5" fill="#ff9292"/>
<rect x="906.7" y="2185" width="135.2" height="22.5" fill="#ff9292"/>
<rect x="1041.4" y="2185" width="133.1" height="22.5" fill="#ff9292"/>
<rect x="775.2" y="2207" width="132.0" height="37.5" fill="#ff8989"/>
<rect x="906.7" y="2207" width="135.2" height="37.5" fill="#ff8989"/>
<rect x="1041.4" y="2207" width="133.1" height="37.5" fill="#ff8989"/>
<rect x="775.2" y="2244" width="132.0" height="8.5" fill="#ff6464"/>
<rect x="906.7" y="2244" width="135.2" height="8.5" fill="#ff7171"/>
<rect x="1041.4" y="2244" width="133.1" height="8.5" fill="#ff6464"/>
<rect x="775.2" y="2252" width="132.0" height="16.5" fill="#ff6d6d"/>
<rect x="906.7" y="2252" width="135.2" height="16.5" fill="#ff7171"/>
<rect x="1041.4" y="2252" width="133.1" height="16.5" fill="#ff6d6d"/>
<rect x="775.2" y="2268" width="132.0" height="17.5" fill="#ff9b9b"/>
<rect x="906.7" y="2268" width="135.2" height="17.5" fill="#ffa4a4"/>
<rect x="1041.4" y="2268" width="133.1" height="17.5" fill="#ff9292"/>
<rect x="775.2" y="2285" width="132.0" height="16.5" fill="#ffb6b6"/>
<rect x="906.7" y="2285" width="135.2" height="16.5" fill="#ffb6b6"/>
<rect x="1041.4" y="2285" width="133.1" height="16.5" fill="#ffbaba"/>
<rect x="775.2" y="2301" width="132.0" height="10.5" fill="#ff9b9b"/>
<rect x="906.7" y="2301" width="135.2" height="10.5" fill="#ffa4a4"/>
<rect x="1041.4" y="2301" width="133.1" height="10.5" fill="#ff9b9b"/>
</g>
<rect x="309" y="301.5" width="51.5" height="2010.5" fill="#cbcbcb"/>
<rect x="309" y="301.5" width="51.5" height="6.0" fill="#b9bdc9"/>
<rect x="309" y="308" width="51.5" height="9" fill="#ffdf7f"/>
<rect x="309" y="377" width="51.5" height="7" fill="#ff7f7f"/>
<rect x="309" y="415" width="51.5" height="8" fill="#ff7f7f"/>
<rect x="309" y="432" width="51.5" height="9" fill="#ffc780"/>
<rect x="309" y="455" width="51.5" height="9" fill="#ff7f7f"/>
<rect x="309" y="510" width="51.5" height="5" fill="#bbbbc4"/>
<rect x="309" y="519" width="51.5" height="7" fill="#ffdf7f"/>
<rect x="309" y="540" width="51.5" height="7" fill="#ff7f7f"/>
<rect x="309" y="566" width="51.5" height="8" fill="#ff7f7f"/>
<rect x="309" y="608" width="51.5" height="8" fill="#ff7f7f"/>
<rect x="309" y="635" width="51.5" height="8" fill="#ff7f7f"/>
<rect x="309" y="708" width="51.5" height="7" fill="#ffc780"/>
<rect x="309" y="759" width="51.5" height="8" fill="#ff7f7f"/>
<rect x="309" y="829" width="51.5" height="7" fill="#ff7f7f"/>
<rect x="309" y="844" width="51.5" height="8" fill="#ff7f7f"/>
<rect x="309" y="882" width="51.5" height="7" fill="#ff7f7f"/>
<rect x="309" y="907" width="51.5" height="9" fill="#ffdf7f"/>
<rect x="309" y="929" width="51.5" height="8" fill="#ff7f7f"/>
<rect x="309" y="942" width="51.5" height="7" fill="#afc9ff"/>
<rect x="309" y="950" width="51.5" height="8" fill="#ff7f7f"/>
<rect x="309" y="991" width="51.5" height="8" fill="#ffc780"/>
<rect x="309" y="1008" width="51.5" height="8" fill="#ff7f7f"/>
<rect x="309" y="1123" width="51.5" height="8" fill="#ff7f7f"/>
<rect x="309" y="1177" width="51.5" height="10" fill="#ff7f7f"/>
<rect x="309" y="1224" width="51.5" height="7" fill="#ff7f7f"/>
<rect x="309" y="1265" width="51.5" height="8" fill="#ff7f7f"/>
<rect x="309" y="1290" width="51.5" height="13" fill="#ffc780"/>
<rect x="309" y="1338" width="51.5" height="7" fill="#ffc780"/>
<rect x="309" y="1356" width="51.5" height="14" fill="#ff7f7f"/>
<rect x="309" y="1374" width="51.5" height="9" fill="#7fff7f"/>
<rect x="309" y="1392" width="51.5" height="6" fill="#ff7f7f"/>
<rect x="309" y="1402" width="51.5" height="7" fill="#ffc780"/>
<rect x="309" y="1409" width="51.5" height="7" fill="#ff7f7f"/>
<rect x="309" y="1428" width="51.5" height="7" fill="#ff7f7f"/>
<rect x="309" y="1449" width="51.5" height="6" fill="#ffc780"/>
<rect x="309" y="1460" width="51.5" height="8" fill="#ff7f7f"/>
<rect x="309" y="1481" width="51.5" height="6" fill="#bbbbbb"/>
<rect x="309" y="1490" width="51.5" height="9" fill="#afc9ff"/>
<rect x="309" y="1507" width="51.5" height="8" fill="#ff7f7f"/>
<rect x="309" y="1538" width="51.5" height="7" fill="#ff7f7f"/>
<rect x="309" y="1549" width="51.5" height="7" fill="#ff7f7f"/>
<rect x="309" y="1560" width="51.5" height="6" fill="#ff7f7f"/>
<rect x="309" y="1585" width="51.5" height="8" fill="#ff7f7f"/>
<rect x="309" y="1637" width="51.5" height="9" fill="#ff7f7f"/>
<rect x="309" y="1815" width="51.5" height="10" fill="#ff7f7f"/>
<rect x="309" y="1858" width="51.5" height="8" fill="#ff7f7f"/>
<rect x="309" y="1896" width="51.5" height="8" fill="#ff7f7f"/>
<rect x="309" y="1943" width="51.5" height="8" fill="#ffc780"/>
<rect x="309" y="1963" width="51.5" height="8" fill="#ffc780"/>
<rect x="309" y="1979" width="51.5" height="8" fill="#ff7f7f"/>
<rect x="309" y="1995" width="51.5" height="8" fill="#ff7f7f"/>
<rect x="309" y="2011" width="51.5" height="8" fill="#ff7f7f"/>
<rect x="309" y="2100" width="51.5" height="8" fill="#ff7f7f"/>
<rect x="309" y="2121" width="51.5" height="8" fill="#ff7f7f"/>
<rect x="309" y="2132" width="51.5" height="9" fill="#ffc780"/>
<rect x="309" y="2143" width="51.5" height="8" fill="#ffc780"/>
<rect x="309" y="2152" width="51.5" height="8" fill="#ffc780"/>
<rect x="309" y="2163" width="51.5" height="8" fill="#ff7f7f"/>
<rect x="309" y="2183" width="51.5" height="9" fill="#afc9ff"/>
<rect x="309" y="2227" width="51.5" height="16" fill="#ff7f7f"/>
<rect x="309" y="2257" width="51.5" height="6" fill="#ff7f7f"/>
<rect x="309" y="2271" width="51.5" height="10" fill="#ff7f7f"/>
<rect x="309" y="2301" width="51.5" height="8" fill="#ff7f7f"/>
<rect x="310.5" y="301.5" width="7" height="2010.5" fill="#fff" fill-opacity="0.3"/>
<g stroke="#666" stroke-width="5.5" stroke-linecap="square" fill="none">
<line x1="542.4" y1="24.5" x2="940.7" y2="24.5"/>
<line x1="542.4" y1="24.5" x2="542.4" y2="193"/>
<line x1="940.7" y1="24.5" x2="940.7" y2="171.6"/>
<line x1="442.6" y1="193" x2="641" y2="193"/>
<line x1="442.6" y1="193" x2="442.6" y2="296"/>
<line x1="641" y1="193" x2="641" y2="218.5"/>
<line x1="577" y1="218.5" x2="709" y2="218.5"/>
<line x1="577" y1="218.5" x2="577" y2="296"/>
<line x1="709" y1="218.5" x2="709" y2="296"/>
<line x1="842.6" y1="171.6" x2="1041" y2="171.6"/>
<line x1="842.6" y1="171.6" x2="842.6" y2="296"/>
<line x1="1041" y1="171.6" x2="1041" y2="181"/>
<line x1="977" y1="181" x2="1108" y2="181"/>
<line x1="977" y1="181" x2="977" y2="296"/>
<line x1="1108" y1="181" x2="1108" y2="296"/>
</g>
<rect x="1201" y="299" width="52.5" height="787.5" fill="url(#ck)"/>
<text x="1274" y="319" font-size="50" fill="#222" stroke="#222" stroke-width="1.1" textLength="57" lengthAdjust="spacing">14</text>
<text x="1271.5" y="513.6" font-size="50" fill="#222" stroke="#222" stroke-width="1.1">7</text>
<text x="1271" y="714.6" font-size="50" fill="#222" stroke="#222" stroke-width="1.1">0</text>
<text x="1273.5" y="908.4" font-size="50" fill="#222" stroke="#222" stroke-width="1.1" textLength="43" lengthAdjust="spacing">-7</text>
<text x="1273.5" y="1107.8" font-size="50" fill="#222" stroke="#222" stroke-width="1.1" textLength="74" lengthAdjust="spacing">-14</text>
<rect x="1369.5" y="352.5" width="72.3" height="73.6" fill="#ffdf7f"/>
<text x="1457.5" y="410.3" font-size="48" fill="#222" stroke="#222" stroke-width="1.1" textLength="919.1" lengthAdjust="spacing">Environmental Information Processing</text>
<rect x="1369.5" y="425.6" width="72.3" height="73.6" fill="#ffc780"/>
<text x="1455.5" y="483.4" font-size="48" fill="#222" stroke="#222" stroke-width="1.1" textLength="762.6" lengthAdjust="spacing">Genetic Information Processing</text>
<rect x="1369.5" y="498.7" width="72.3" height="73.6" fill="#7fff7f"/>
<text x="1455.5" y="556.5" font-size="48" fill="#222" stroke="#222" stroke-width="1.1" textLength="450.4" lengthAdjust="spacing">Cellular Processes</text>
<rect x="1369.5" y="571.8" width="72.3" height="73.6" fill="#cbcbcb"/>
<text x="1454.5" y="629.6" font-size="48" fill="#222" stroke="#222" stroke-width="1.1" textLength="168.8" lengthAdjust="spacing">Others</text>
<rect x="1369.5" y="644.9" width="72.3" height="73.6" fill="#afc9ff"/>
<text x="1454.5" y="702.7" font-size="48" fill="#222" stroke="#222" stroke-width="1.1" textLength="498.6" lengthAdjust="spacing">Organismal Systems</text>
<rect x="1369.5" y="718.0" width="72.3" height="73.6" fill="#ff7f7f"/>
<text x="1457.5" y="775.8" font-size="48" fill="#222" stroke="#222" stroke-width="1.1" textLength="279" lengthAdjust="spacing">Metabolism</text>
<text transform="translate(424.1,2326) rotate(90)" x="0" y="0" font-size="51" fill="#222" stroke="#222" stroke-width="1.1">CW-D2</text>
<text transform="translate(558.5,2326) rotate(90)" x="0" y="0" font-size="51" fill="#222" stroke="#222" stroke-width="1.1">CW-D1</text>
<text transform="translate(690.5,2326) rotate(90)" x="0" y="0" font-size="51" fill="#222" stroke="#222" stroke-width="1.1">CW-D3</text>
<text transform="translate(824.1,2326) rotate(90)" x="0" y="0" font-size="51" fill="#222" stroke="#222" stroke-width="1.1">CW3</text>
<text transform="translate(958.5,2326) rotate(90)" x="0" y="0" font-size="51" fill="#222" stroke="#222" stroke-width="1.1">CW1</text>
<text transform="translate(1089.5,2326) rotate(90)" x="0" y="0" font-size="51" fill="#222" stroke="#222" stroke-width="1.1">CW2</text>
<g stroke="#000" stroke-width="4.4" stroke-linecap="square" fill="none">
<line x1="290.4" y1="305.6" x2="290.4" y2="308.2"/>
<line x1="290.4" y1="305.6" x2="307.5" y2="305.6"/>
<line x1="290.4" y1="308.2" x2="307.5" y2="308.2"/>
<line x1="285.7" y1="306.9" x2="285.7" y2="310.8"/>
<line x1="285.7" y1="306.9" x2="290.4" y2="306.9"/>
<line x1="285.7" y1="310.8" x2="307.5" y2="310.8"/>
<line x1="278.6" y1="308.9" x2="278.6" y2="313.4"/>
<line x1="278.6" y1="308.9" x2="285.7" y2="308.9"/>
<line x1="278.6" y1="313.4" x2="307.5" y2="313.4"/>
<line x1="275.6" y1="311.1" x2="275.6" y2="316.0"/>
<line x1="275.6" y1="311.1" x2="278.6" y2="311.1"/>
<line x1="275.6" y1="316.0" x2="307.5" y2="316.0"/>
<line x1="281.3" y1="318.6" x2="281.3" y2="321.2"/>
<line x1="281.3" y1="318.6" x2="307.5" y2="318.6"/>
<line x1="281.3" y1="321.2" x2="307.5" y2="321.2"/>
<line x1="284.9" y1="323.8" x2="284.9" y2="326.4"/>
<line x1="284.9" y1="323.8" x2="307.5" y2="323.8"/>
<line x1="284.9" y1="326.4" x2="307.5" y2="326.4"/>
<line x1="276.7" y1="319.9" x2="276.7" y2="325.1"/>
<line x1="276.7" y1="319.9" x2="281.3" y2="319.9"/>
<line x1="276.7" y1="325.1" x2="284.9" y2="325.1"/>
<line x1="264.9" y1="313.6" x2="264.9" y2="322.5"/>
<line x1="264.9" y1="313.6" x2="275.6" y2="313.6"/>
<line x1="264.9" y1="322.5" x2="276.7" y2="322.5"/>
<line x1="259.0" y1="318.0" x2="259.0" y2="329.0"/>
<line x1="259.0" y1="318.0" x2="264.9" y2="318.0"/>
<line x1="259.0" y1="329.0" x2="307.5" y2="329.0"/>
<line x1="259.0" y1="323.5" x2="259.0" y2="317.0"/>
<line x1="293.8" y1="334.2" x2="293.8" y2="336.8"/>
<line x1="293.8" y1="334.2" x2="307.5" y2="334.2"/>
<line x1="293.8" y1="336.8" x2="307.5" y2="336.8"/>
<line x1="290.8" y1="331.6" x2="290.8" y2="335.5"/>
<line x1="290.8" y1="331.6" x2="307.5" y2="331.6"/>
<line x1="290.8" y1="335.5" x2="293.8" y2="335.5"/>
<line x1="287.8" y1="333.6" x2="287.8" y2="339.4"/>
<line x1="287.8" y1="333.6" x2="290.8" y2="333.6"/>
<line x1="287.8" y1="339.4" x2="307.5" y2="339.4"/>
<line x1="291.9" y1="344.6" x2="291.9" y2="347.2"/>
<line x1="291.9" y1="344.6" x2="307.5" y2="344.6"/>
<line x1="291.9" y1="347.2" x2="307.5" y2="347.2"/>
<line x1="288.9" y1="342.0" x2="288.9" y2="345.9"/>
<line x1="288.9" y1="342.0" x2="307.5" y2="342.0"/>
<line x1="288.9" y1="345.9" x2="291.9" y2="345.9"/>
<line x1="293.9" y1="349.8" x2="293.9" y2="352.4"/>
<line x1="293.9" y1="349.8" x2="307.5" y2="349.8"/>
<line x1="293.9" y1="352.4" x2="307.5" y2="352.4"/>
<line x1="288.9" y1="351.1" x2="288.9" y2="355.0"/>
<line x1="288.9" y1="351.1" x2="293.9" y2="351.1"/>
<line x1="288.9" y1="355.0" x2="307.5" y2="355.0"/>
<line x1="285.9" y1="343.9" x2="285.9" y2="353.1"/>
<line x1="285.9" y1="343.9" x2="288.9" y2="343.9"/>
<line x1="285.9" y1="353.1" x2="288.9" y2="353.1"/>
<line x1="280.2" y1="336.5" x2="280.2" y2="348.5"/>
<line x1="280.2" y1="336.5" x2="287.8" y2="336.5"/>
<line x1="280.2" y1="348.5" x2="285.9" y2="348.5"/>
<line x1="293.4" y1="357.6" x2="293.4" y2="360.2"/>
<line x1="293.4" y1="357.6" x2="307.5" y2="357.6"/>
<line x1="293.4" y1="360.2" x2="307.5" y2="360.2"/>
<line x1="287.6" y1="358.9" x2="287.6" y2="362.8"/>
<line x1="287.6" y1="358.9" x2="293.4" y2="358.9"/>
<line x1="287.6" y1="362.8" x2="307.5" y2="362.8"/>
<line x1="293.9" y1="365.4" x2="293.9" y2="368.0"/>
<line x1="293.9" y1="365.4" x2="307.5" y2="365.4"/>
<line x1="293.9" y1="368.0" x2="307.5" y2="368.0"/>
<line x1="290.9" y1="366.7" x2="290.9" y2="370.6"/>
<line x1="290.9" y1="366.7" x2="293.9" y2="366.7"/>
<line x1="290.9" y1="370.6" x2="307.5" y2="370.6"/>
<line x1="284.6" y1="360.9" x2="284.6" y2="368.6"/>
<line x1="284.6" y1="360.9" x2="287.6" y2="360.9"/>
<line x1="284.6" y1="368.6" x2="290.9" y2="368.6"/>
<line x1="289.8" y1="373.2" x2="289.8" y2="375.8"/>
<line x1="289.8" y1="373.2" x2="307.5" y2="373.2"/>
<line x1="289.8" y1="375.8" x2="307.5" y2="375.8"/>
<line x1="286.8" y1="374.5" x2="286.8" y2="378.4"/>
<line x1="286.8" y1="374.5" x2="289.8" y2="374.5"/>
<line x1="286.8" y1="378.4" x2="307.5" y2="378.4"/>
<line x1="295.5" y1="383.6" x2="295.5" y2="386.2"/>
<line x1="295.5" y1="383.6" x2="307.5" y2="383.6"/>
<line x1="295.5" y1="386.2" x2="307.5" y2="386.2"/>
<line x1="292.5" y1="384.9" x2="292.5" y2="388.8"/>
<line x1="292.5" y1="384.9" x2="295.5" y2="384.9"/>
<line x1="292.5" y1="388.8" x2="307.5" y2="388.8"/>
<line x1="288.6" y1="381.0" x2="288.6" y2="386.9"/>
<line x1="288.6" y1="381.0" x2="307.5" y2="381.0"/>
<line x1="288.6" y1="386.9" x2="292.5" y2="386.9"/>
<line x1="283.8" y1="376.4" x2="283.8" y2="383.9"/>
<line x1="283.8" y1="376.4" x2="286.8" y2="376.4"/>
<line x1="283.8" y1="383.9" x2="288.6" y2="383.9"/>
<line x1="279.3" y1="364.8" x2="279.3" y2="380.2"/>
<line x1="279.3" y1="364.8" x2="284.6" y2="364.8"/>
<line x1="279.3" y1="380.2" x2="283.8" y2="380.2"/>
<line x1="275.1" y1="342.5" x2="275.1" y2="372.5"/>
<line x1="275.1" y1="342.5" x2="280.2" y2="342.5"/>
<line x1="275.1" y1="372.5" x2="279.3" y2="372.5"/>
<line x1="281.5" y1="391.4" x2="281.5" y2="394.0"/>
<line x1="281.5" y1="391.4" x2="307.5" y2="391.4"/>
<line x1="281.5" y1="394.0" x2="307.5" y2="394.0"/>
<line x1="276.0" y1="392.7" x2="276.0" y2="396.6"/>
<line x1="276.0" y1="392.7" x2="281.5" y2="392.7"/>
<line x1="276.0" y1="396.6" x2="307.5" y2="396.6"/>
<line x1="270.7" y1="357.5" x2="270.7" y2="394.6"/>
<line x1="270.7" y1="357.5" x2="275.1" y2="357.5"/>
<line x1="270.7" y1="394.6" x2="276.0" y2="394.6"/>
<line x1="292.0" y1="401.8" x2="292.0" y2="404.4"/>
<line x1="292.0" y1="401.8" x2="307.5" y2="401.8"/>
<line x1="292.0" y1="404.4" x2="307.5" y2="404.4"/>
<line x1="286.5" y1="403.1" x2="286.5" y2="407.0"/>
<line x1="286.5" y1="403.1" x2="292.0" y2="403.1"/>
<line x1="286.5" y1="407.0" x2="307.5" y2="407.0"/>
<line x1="278.0" y1="399.2" x2="278.0" y2="405.1"/>
<line x1="278.0" y1="399.2" x2="307.5" y2="399.2"/>
<line x1="278.0" y1="405.1" x2="286.5" y2="405.1"/>
<line x1="295.2" y1="409.6" x2="295.2" y2="412.2"/>
<line x1="295.2" y1="409.6" x2="307.5" y2="409.6"/>
<line x1="295.2" y1="412.2" x2="307.5" y2="412.2"/>
<line x1="291.9" y1="410.9" x2="291.9" y2="414.8"/>
<line x1="291.9" y1="410.9" x2="295.2" y2="410.9"/>
<line x1="291.9" y1="414.8" x2="307.5" y2="414.8"/>
<line x1="288.9" y1="412.9" x2="288.9" y2="417.4"/>
<line x1="288.9" y1="412.9" x2="291.9" y2="412.9"/>
<line x1="288.9" y1="417.4" x2="307.5" y2="417.4"/>
<line x1="282.4" y1="415.1" x2="282.4" y2="420.0"/>
<line x1="282.4" y1="415.1" x2="288.9" y2="415.1"/>
<line x1="282.4" y1="420.0" x2="307.5" y2="420.0"/>
<line x1="291.6" y1="425.2" x2="291.6" y2="427.8"/>
<line x1="291.6" y1="425.2" x2="307.5" y2="425.2"/>
<line x1="291.6" y1="427.8" x2="307.5" y2="427.8"/>
<line x1="286.5" y1="422.6" x2="286.5" y2="426.5"/>
<line x1="286.5" y1="422.6" x2="307.5" y2="422.6"/>
<line x1="286.5" y1="426.5" x2="291.6" y2="426.5"/>
<line x1="278.0" y1="417.6" x2="278.0" y2="424.6"/>
<line x1="278.0" y1="417.6" x2="282.4" y2="417.6"/>
<line x1="278.0" y1="424.6" x2="286.5" y2="424.6"/>
<line x1="275.0" y1="402.1" x2="275.0" y2="421.1"/>
<line x1="275.0" y1="402.1" x2="278.0" y2="402.1"/>
<line x1="275.0" y1="421.1" x2="278.0" y2="421.1"/>
<line x1="294.3" y1="430.4" x2="294.3" y2="433.0"/>
<line x1="294.3" y1="430.4" x2="307.5" y2="430.4"/>
<line x1="294.3" y1="433.0" x2="307.5" y2="433.0"/>
<line x1="290.0" y1="431.7" x2="290.0" y2="435.6"/>
<line x1="290.0" y1="431.7" x2="294.3" y2="431.7"/>
<line x1="290.0" y1="435.6" x2="307.5" y2="435.6"/>
<line x1="283.3" y1="433.6" x2="283.3" y2="438.2"/>
<line x1="283.3" y1="433.6" x2="290.0" y2="433.6"/>
<line x1="283.3" y1="438.2" x2="307.5" y2="438.2"/>
<line x1="279.3" y1="435.9" x2="279.3" y2="440.8"/>
<line x1="279.3" y1="435.9" x2="283.3" y2="435.9"/>
<line x1="279.3" y1="440.8" x2="307.5" y2="440.8"/>
<line x1="268.2" y1="411.6" x2="268.2" y2="438.4"/>
<line x1="268.2" y1="411.6" x2="275.0" y2="411.6"/>
<line x1="268.2" y1="438.4" x2="279.3" y2="438.4"/>
<line x1="262.0" y1="376.1" x2="262.0" y2="425.0"/>
<line x1="262.0" y1="376.1" x2="270.7" y2="376.1"/>
<line x1="262.0" y1="425.0" x2="268.2" y2="425.0"/>
<line x1="262.0" y1="400.5" x2="262.0" y2="415.7"/>
<line x1="290.2" y1="448.6" x2="290.2" y2="451.2"/>
<line x1="290.2" y1="448.6" x2="307.5" y2="448.6"/>
<line x1="290.2" y1="451.2" x2="307.5" y2="451.2"/>
<line x1="287.2" y1="446.0" x2="287.2" y2="449.9"/>
<line x1="287.2" y1="446.0" x2="307.5" y2="446.0"/>
<line x1="287.2" y1="449.9" x2="290.2" y2="449.9"/>
<line x1="283.2" y1="443.4" x2="283.2" y2="448.0"/>
<line x1="283.2" y1="443.4" x2="307.5" y2="443.4"/>
<line x1="283.2" y1="448.0" x2="287.2" y2="448.0"/>
<line x1="288.0" y1="453.8" x2="288.0" y2="456.4"/>
<line x1="288.0" y1="453.8" x2="307.5" y2="453.8"/>
<line x1="288.0" y1="456.4" x2="307.5" y2="456.4"/>
<line x1="280.4" y1="455.1" x2="280.4" y2="459.0"/>
<line x1="280.4" y1="455.1" x2="288.0" y2="455.1"/>
<line x1="280.4" y1="459.0" x2="307.5" y2="459.0"/>
<line x1="274.4" y1="445.7" x2="274.4" y2="457.1"/>
<line x1="274.4" y1="445.7" x2="283.2" y2="445.7"/>
<line x1="274.4" y1="457.1" x2="280.4" y2="457.1"/>
<line x1="291.9" y1="461.6" x2="291.9" y2="464.2"/>
<line x1="291.9" y1="461.6" x2="307.5" y2="461.6"/>
<line x1="291.9" y1="464.2" x2="307.5" y2="464.2"/>
<line x1="285.2" y1="462.9" x2="285.2" y2="466.8"/>
<line x1="285.2" y1="462.9" x2="291.9" y2="462.9"/>
<line x1="285.2" y1="466.8" x2="307.5" y2="466.8"/>
<line x1="295.4" y1="472.0" x2="295.4" y2="474.6"/>
<line x1="295.4" y1="472.0" x2="307.5" y2="472.0"/>
<line x1="295.4" y1="474.6" x2="307.5" y2="474.6"/>
<line x1="292.4" y1="473.3" x2="292.4" y2="477.2"/>
<line x1="292.4" y1="473.3" x2="295.4" y2="473.3"/>
<line x1="292.4" y1="477.2" x2="307.5" y2="477.2"/>
<line x1="289.4" y1="475.2" x2="289.4" y2="479.8"/>
<line x1="289.4" y1="475.2" x2="292.4" y2="475.2"/>
<line x1="289.4" y1="479.8" x2="307.5" y2="479.8"/>
<line x1="285.2" y1="477.5" x2="285.2" y2="482.4"/>
<line x1="285.2" y1="477.5" x2="289.4" y2="477.5"/>
<line x1="285.2" y1="482.4" x2="307.5" y2="482.4"/>
<line x1="282.2" y1="469.4" x2="282.2" y2="480.0"/>
<line x1="282.2" y1="469.4" x2="307.5" y2="469.4"/>
<line x1="282.2" y1="480.0" x2="285.2" y2="480.0"/>
<line x1="279.2" y1="464.9" x2="279.2" y2="474.7"/>
<line x1="279.2" y1="464.9" x2="285.2" y2="464.9"/>
<line x1="279.2" y1="474.7" x2="282.2" y2="474.7"/>
<line x1="297.5" y1="487.6" x2="297.5" y2="490.2"/>
<line x1="297.5" y1="487.6" x2="307.5" y2="487.6"/>
<line x1="297.5" y1="490.2" x2="307.5" y2="490.2"/>
<line x1="293.3" y1="488.9" x2="293.3" y2="492.8"/>
<line x1="293.3" y1="488.9" x2="297.5" y2="488.9"/>
<line x1="293.3" y1="492.8" x2="307.5" y2="492.8"/>
<line x1="292.0" y1="495.4" x2="292.0" y2="498.0"/>
<line x1="292.0" y1="495.4" x2="307.5" y2="495.4"/>
<line x1="292.0" y1="498.0" x2="307.5" y2="498.0"/>
<line x1="288.3" y1="490.9" x2="288.3" y2="496.7"/>
<line x1="288.3" y1="490.9" x2="293.3" y2="490.9"/>
<line x1="288.3" y1="496.7" x2="292.0" y2="496.7"/>
<line x1="281.8" y1="485.0" x2="281.8" y2="493.8"/>
<line x1="281.8" y1="485.0" x2="307.5" y2="485.0"/>
<line x1="281.8" y1="493.8" x2="288.3" y2="493.8"/>
<line x1="284.8" y1="500.6" x2="284.8" y2="503.2"/>
<line x1="284.8" y1="500.6" x2="307.5" y2="500.6"/>
<line x1="284.8" y1="503.2" x2="307.5" y2="503.2"/>
<line x1="281.8" y1="501.9" x2="281.8" y2="505.8"/>
<line x1="281.8" y1="501.9" x2="284.8" y2="501.9"/>
<line x1="281.8" y1="505.8" x2="307.5" y2="505.8"/>
<line x1="278.8" y1="489.4" x2="278.8" y2="503.9"/>
<line x1="278.8" y1="489.4" x2="281.8" y2="489.4"/>
<line x1="278.8" y1="503.9" x2="281.8" y2="503.9"/>
<line x1="274.9" y1="469.8" x2="274.9" y2="496.6"/>
<line x1="274.9" y1="469.8" x2="279.2" y2="469.8"/>
<line x1="274.9" y1="496.6" x2="278.8" y2="496.6"/>
<line x1="280.7" y1="508.4" x2="280.7" y2="511.0"/>
<line x1="280.7" y1="508.4" x2="307.5" y2="508.4"/>
<line x1="280.7" y1="511.0" x2="307.5" y2="511.0"/>
<line x1="282.5" y1="513.6" x2="282.5" y2="516.2"/>
<line x1="282.5" y1="513.6" x2="307.5" y2="513.6"/>
<line x1="282.5" y1="516.2" x2="307.5" y2="516.2"/>
<line x1="277.7" y1="509.7" x2="277.7" y2="514.9"/>
<line x1="277.7" y1="509.7" x2="280.7" y2="509.7"/>
<line x1="277.7" y1="514.9" x2="282.5" y2="514.9"/>
<line x1="271.9" y1="483.2" x2="271.9" y2="512.3"/>
<line x1="271.9" y1="483.2" x2="274.9" y2="483.2"/>
<line x1="271.9" y1="512.3" x2="277.7" y2="512.3"/>
<line x1="266.0" y1="451.4" x2="266.0" y2="497.7"/>
<line x1="266.0" y1="451.4" x2="274.4" y2="451.4"/>
<line x1="266.0" y1="497.7" x2="271.9" y2="497.7"/>
<line x1="266.0" y1="474.6" x2="266.0" y2="511.3"/>
<line x1="293.8" y1="518.8" x2="293.8" y2="521.4"/>
<line x1="293.8" y1="518.8" x2="307.5" y2="518.8"/>
<line x1="293.8" y1="521.4" x2="307.5" y2="521.4"/>
<line x1="290.8" y1="520.1" x2="290.8" y2="524.0"/>
<line x1="290.8" y1="520.1" x2="293.8" y2="520.1"/>
<line x1="290.8" y1="524.0" x2="307.5" y2="524.0"/>
<line x1="292.8" y1="526.6" x2="292.8" y2="529.2"/>
<line x1="292.8" y1="526.6" x2="307.5" y2="526.6"/>
<line x1="292.8" y1="529.2" x2="307.5" y2="529.2"/>
<line x1="287.2" y1="522.0" x2="287.2" y2="527.9"/>
<line x1="287.2" y1="522.0" x2="290.8" y2="522.0"/>
<line x1="287.2" y1="527.9" x2="292.8" y2="527.9"/>
<line x1="284.3" y1="531.8" x2="284.3" y2="534.4"/>
<line x1="284.3" y1="531.8" x2="307.5" y2="531.8"/>
<line x1="284.3" y1="534.4" x2="307.5" y2="534.4"/>
<line x1="281.3" y1="525.0" x2="281.3" y2="533.1"/>
<line x1="281.3" y1="525.0" x2="287.2" y2="525.0"/>
<line x1="281.3" y1="533.1" x2="284.3" y2="533.1"/>
<line x1="284.1" y1="537.0" x2="284.1" y2="539.6"/>
<line x1="284.1" y1="537.0" x2="307.5" y2="537.0"/>
<line x1="284.1" y1="539.6" x2="307.5" y2="539.6"/>
<line x1="276.0" y1="529.0" x2="276.0" y2="538.3"/>
<line x1="276.0" y1="529.0" x2="281.3" y2="529.0"/>
<line x1="276.0" y1="538.3" x2="284.1" y2="538.3"/>
<line x1="264.7" y1="533.7" x2="264.7" y2="542.2"/>
<line x1="264.7" y1="533.7" x2="276.0" y2="533.7"/>
<line x1="264.7" y1="542.2" x2="307.5" y2="542.2"/>
<line x1="286.3" y1="544.8" x2="286.3" y2="547.4"/>
<line x1="286.3" y1="544.8" x2="307.5" y2="544.8"/>
<line x1="286.3" y1="547.4" x2="307.5" y2="547.4"/>
<line x1="292.0" y1="550.0" x2="292.0" y2="552.6"/>
<line x1="292.0" y1="550.0" x2="307.5" y2="550.0"/>
<line x1="292.0" y1="552.6" x2="307.5" y2="552.6"/>
<line x1="286.4" y1="551.3" x2="286.4" y2="555.2"/>
<line x1="286.4" y1="551.3" x2="292.0" y2="551.3"/>
<line x1="286.4" y1="555.2" x2="307.5" y2="555.2"/>
<line x1="283.3" y1="546.1" x2="283.3" y2="553.2"/>
<line x1="283.3" y1="546.1" x2="286.3" y2="546.1"/>
<line x1="283.3" y1="553.2" x2="286.4" y2="553.2"/>
<line x1="279.3" y1="557.8" x2="279.3" y2="560.4"/>
<line x1="279.3" y1="557.8" x2="307.5" y2="557.8"/>
<line x1="279.3" y1="560.4" x2="307.5" y2="560.4"/>
<line x1="274.5" y1="549.7" x2="274.5" y2="559.1"/>
<line x1="274.5" y1="549.7" x2="283.3" y2="549.7"/>
<line x1="274.5" y1="559.1" x2="279.3" y2="559.1"/>
<line x1="289.1" y1="563.0" x2="289.1" y2="565.6"/>
<line x1="289.1" y1="563.0" x2="307.5" y2="563.0"/>
<line x1="289.1" y1="565.6" x2="307.5" y2="565.6"/>
<line x1="295.9" y1="568.2" x2="295.9" y2="570.8"/>
<line x1="295.9" y1="568.2" x2="307.5" y2="568.2"/>
<line x1="295.9" y1="570.8" x2="307.5" y2="570.8"/>
<line x1="292.2" y1="569.5" x2="292.2" y2="573.4"/>
<line x1="292.2" y1="569.5" x2="295.9" y2="569.5"/>
<line x1="292.2" y1="573.4" x2="307.5" y2="573.4"/>
<line x1="296.1" y1="576.0" x2="296.1" y2="578.6"/>
<line x1="296.1" y1="576.0" x2="307.5" y2="576.0"/>
<line x1="296.1" y1="578.6" x2="307.5" y2="578.6"/>
<line x1="291.5" y1="577.3" x2="291.5" y2="581.2"/>
<line x1="291.5" y1="577.3" x2="296.1" y2="577.3"/>
<line x1="291.5" y1="581.2" x2="307.5" y2="581.2"/>
<line x1="286.8" y1="571.5" x2="286.8" y2="579.2"/>
<line x1="286.8" y1="571.5" x2="292.2" y2="571.5"/>
<line x1="286.8" y1="579.2" x2="291.5" y2="579.2"/>
<line x1="283.2" y1="564.3" x2="283.2" y2="575.4"/>
<line x1="283.2" y1="564.3" x2="289.1" y2="564.3"/>
<line x1="283.2" y1="575.4" x2="286.8" y2="575.4"/>
<line x1="289.7" y1="586.4" x2="289.7" y2="589.0"/>
<line x1="289.7" y1="586.4" x2="307.5" y2="586.4"/>
<line x1="289.7" y1="589.0" x2="307.5" y2="589.0"/>
<line x1="285.9" y1="583.8" x2="285.9" y2="587.7"/>
<line x1="285.9" y1="583.8" x2="307.5" y2="583.8"/>
<line x1="285.9" y1="587.7" x2="289.7" y2="587.7"/>
<line x1="294.6" y1="591.6" x2="294.6" y2="594.2"/>
<line x1="294.6" y1="591.6" x2="307.5" y2="591.6"/>
<line x1="294.6" y1="594.2" x2="307.5" y2="594.2"/>
<line x1="291.6" y1="592.9" x2="291.6" y2="596.8"/>
<line x1="291.6" y1="592.9" x2="294.6" y2="592.9"/>
<line x1="291.6" y1="596.8" x2="307.5" y2="596.8"/>
<line x1="287.1" y1="594.9" x2="287.1" y2="599.4"/>
<line x1="287.1" y1="594.9" x2="291.6" y2="594.9"/>
<line x1="287.1" y1="599.4" x2="307.5" y2="599.4"/>
<line x1="280.5" y1="585.8" x2="280.5" y2="597.1"/>
<line x1="280.5" y1="585.8" x2="285.9" y2="585.8"/>
<line x1="280.5" y1="597.1" x2="287.1" y2="597.1"/>
<line x1="276.1" y1="569.8" x2="276.1" y2="591.4"/>
<line x1="276.1" y1="569.8" x2="283.2" y2="569.8"/>
<line x1="276.1" y1="591.4" x2="280.5" y2="591.4"/>
<line x1="265.7" y1="554.4" x2="265.7" y2="580.6"/>
<line x1="265.7" y1="554.4" x2="274.5" y2="554.4"/>
<line x1="265.7" y1="580.6" x2="276.1" y2="580.6"/>
<line x1="256.0" y1="537.9" x2="256.0" y2="567.5"/>
<line x1="256.0" y1="537.9" x2="264.7" y2="537.9"/>
<line x1="256.0" y1="567.5" x2="265.7" y2="567.5"/>
<line x1="256.0" y1="552.7" x2="256.0" y2="556.5"/>
<line x1="295.4" y1="602.0" x2="295.4" y2="604.6"/>
<line x1="295.4" y1="602.0" x2="307.5" y2="602.0"/>
<line x1="295.4" y1="604.6" x2="307.5" y2="604.6"/>
<line x1="290.3" y1="603.3" x2="290.3" y2="607.2"/>
<line x1="290.3" y1="603.3" x2="295.4" y2="603.3"/>
<line x1="290.3" y1="607.2" x2="307.5" y2="607.2"/>
<line x1="293.8" y1="609.8" x2="293.8" y2="612.4"/>
<line x1="293.8" y1="609.8" x2="307.5" y2="609.8"/>
<line x1="293.8" y1="612.4" x2="307.5" y2="612.4"/>
<line x1="290.8" y1="611.1" x2="290.8" y2="615.0"/>
<line x1="290.8" y1="611.1" x2="293.8" y2="611.1"/>
<line x1="290.8" y1="615.0" x2="307.5" y2="615.0"/>
<line x1="284.0" y1="605.2" x2="284.0" y2="613.0"/>
<line x1="284.0" y1="605.2" x2="290.3" y2="605.2"/>
<line x1="284.0" y1="613.0" x2="290.8" y2="613.0"/>
<line x1="293.2" y1="617.6" x2="293.2" y2="620.2"/>
<line x1="293.2" y1="617.6" x2="307.5" y2="617.6"/>
<line x1="293.2" y1="620.2" x2="307.5" y2="620.2"/>
<line x1="288.2" y1="618.9" x2="288.2" y2="622.8"/>
<line x1="288.2" y1="618.9" x2="293.2" y2="618.9"/>
<line x1="288.2" y1="622.8" x2="307.5" y2="622.8"/>
<line x1="280.1" y1="609.1" x2="280.1" y2="620.9"/>
<line x1="280.1" y1="609.1" x2="284.0" y2="609.1"/>
<line x1="280.1" y1="620.9" x2="288.2" y2="620.9"/>
<line x1="290.3" y1="625.4" x2="290.3" y2="628.0"/>
<line x1="290.3" y1="625.4" x2="307.5" y2="625.4"/>
<line x1="290.3" y1="628.0" x2="307.5" y2="628.0"/>
<line x1="293.9" y1="630.6" x2="293.9" y2="633.2"/>
<line x1="293.9" y1="630.6" x2="307.5" y2="630.6"/>
<line x1="293.9" y1="633.2" x2="307.5" y2="633.2"/>
<line x1="298.2" y1="635.8" x2="298.2" y2="638.4"/>
<line x1="298.2" y1="635.8" x2="307.5" y2="635.8"/>
<line x1="298.2" y1="638.4" x2="307.5" y2="638.4"/>
<line x1="295.2" y1="637.1" x2="295.2" y2="641.0"/>
<line x1="295.2" y1="637.1" x2="298.2" y2="637.1"/>
<line x1="295.2" y1="641.0" x2="307.5" y2="641.0"/>
<line x1="290.4" y1="631.9" x2="290.4" y2="639.0"/>
<line x1="290.4" y1="631.9" x2="293.9" y2="631.9"/>
<line x1="290.4" y1="639.0" x2="295.2" y2="639.0"/>
<line x1="285.1" y1="626.7" x2="285.1" y2="635.5"/>
<line x1="285.1" y1="626.7" x2="290.3" y2="626.7"/>
<line x1="285.1" y1="635.5" x2="290.4" y2="635.5"/>
<line x1="285.9" y1="643.6" x2="285.9" y2="646.2"/>
<line x1="285.9" y1="643.6" x2="307.5" y2="643.6"/>
<line x1="285.9" y1="646.2" x2="307.5" y2="646.2"/>
<line x1="281.8" y1="631.1" x2="281.8" y2="644.9"/>
<line x1="281.8" y1="631.1" x2="285.1" y2="631.1"/>
<line x1="281.8" y1="644.9" x2="285.9" y2="644.9"/>
<line x1="271.5" y1="615.0" x2="271.5" y2="638.0"/>
<line x1="271.5" y1="615.0" x2="280.1" y2="615.0"/>
<line x1="271.5" y1="638.0" x2="281.8" y2="638.0"/>
<line x1="285.1" y1="648.8" x2="285.1" y2="651.4"/>
<line x1="285.1" y1="648.8" x2="307.5" y2="648.8"/>
<line x1="285.1" y1="651.4" x2="307.5" y2="651.4"/>
<line x1="298.4" y1="654.0" x2="298.4" y2="656.6"/>
<line x1="298.4" y1="654.0" x2="307.5" y2="654.0"/>
<line x1="298.4" y1="656.6" x2="307.5" y2="656.6"/>
<line x1="295.4" y1="655.3" x2="295.4" y2="659.2"/>
<line x1="295.4" y1="655.3" x2="298.4" y2="655.3"/>
<line x1="295.4" y1="659.2" x2="307.5" y2="659.2"/>
<line x1="298.4" y1="661.8" x2="298.4" y2="664.4"/>
<line x1="298.4" y1="661.8" x2="307.5" y2="661.8"/>
<line x1="298.4" y1="664.4" x2="307.5" y2="664.4"/>
<line x1="294.6" y1="663.1" x2="294.6" y2="667.0"/>
<line x1="294.6" y1="663.1" x2="298.4" y2="663.1"/>
<line x1="294.6" y1="667.0" x2="307.5" y2="667.0"/>
<line x1="291.6" y1="657.2" x2="291.6" y2="665.0"/>
<line x1="291.6" y1="657.2" x2="295.4" y2="657.2"/>
<line x1="291.6" y1="665.0" x2="294.6" y2="665.0"/>
<line x1="287.2" y1="661.1" x2="287.2" y2="669.6"/>
<line x1="287.2" y1="661.1" x2="291.6" y2="661.1"/>
<line x1="287.2" y1="669.6" x2="307.5" y2="669.6"/>
<line x1="282.1" y1="650.1" x2="282.1" y2="665.4"/>
<line x1="282.1" y1="650.1" x2="285.1" y2="650.1"/>
<line x1="282.1" y1="665.4" x2="287.2" y2="665.4"/>
<line x1="285.4" y1="672.2" x2="285.4" y2="674.8"/>
<line x1="285.4" y1="672.2" x2="307.5" y2="672.2"/>
<line x1="285.4" y1="674.8" x2="307.5" y2="674.8"/>
<line x1="280.6" y1="673.5" x2="280.6" y2="677.4"/>
<line x1="280.6" y1="673.5" x2="285.4" y2="673.5"/>
<line x1="280.6" y1="677.4" x2="307.5" y2="677.4"/>
<line x1="291.9" y1="680.0" x2="291.9" y2="682.6"/>
<line x1="291.9" y1="680.0" x2="307.5" y2="680.0"/>
<line x1="291.9" y1="682.6" x2="307.5" y2="682.6"/>
<line x1="287.5" y1="681.3" x2="287.5" y2="685.2"/>
<line x1="287.5" y1="681.3" x2="291.9" y2="681.3"/>
<line x1="287.5" y1="685.2" x2="307.5" y2="685.2"/>
<line x1="286.4" y1="687.8" x2="286.4" y2="690.4"/>
<line x1="286.4" y1="687.8" x2="307.5" y2="687.8"/>
<line x1="286.4" y1="690.4" x2="307.5" y2="690.4"/>
<line x1="283.4" y1="683.2" x2="283.4" y2="689.1"/>
<line x1="283.4" y1="683.2" x2="287.5" y2="683.2"/>
<line x1="283.4" y1="689.1" x2="286.4" y2="689.1"/>
<line x1="277.6" y1="675.5" x2="277.6" y2="686.2"/>
<line x1="277.6" y1="675.5" x2="280.6" y2="675.5"/>
<line x1="277.6" y1="686.2" x2="283.4" y2="686.2"/>
<line x1="274.3" y1="657.7" x2="274.3" y2="680.8"/>
<line x1="274.3" y1="657.7" x2="282.1" y2="657.7"/>
<line x1="274.3" y1="680.8" x2="277.6" y2="680.8"/>
<line x1="265.5" y1="626.5" x2="265.5" y2="669.3"/>
<line x1="265.5" y1="626.5" x2="271.5" y2="626.5"/>
<line x1="265.5" y1="669.3" x2="274.3" y2="669.3"/>
<line x1="284.2" y1="693.0" x2="284.2" y2="695.6"/>
<line x1="284.2" y1="693.0" x2="307.5" y2="693.0"/>
<line x1="284.2" y1="695.6" x2="307.5" y2="695.6"/>
<line x1="275.7" y1="694.3" x2="275.7" y2="698.2"/>
<line x1="275.7" y1="694.3" x2="284.2" y2="694.3"/>
<line x1="275.7" y1="698.2" x2="307.5" y2="698.2"/>
<line x1="272.9" y1="700.8" x2="272.9" y2="703.4"/>
<line x1="272.9" y1="700.8" x2="307.5" y2="700.8"/>
<line x1="272.9" y1="703.4" x2="307.5" y2="703.4"/>
<line x1="262.8" y1="696.2" x2="262.8" y2="702.1"/>
<line x1="262.8" y1="696.2" x2="275.7" y2="696.2"/>
<line x1="262.8" y1="702.1" x2="272.9" y2="702.1"/>
<line x1="276.4" y1="708.6" x2="276.4" y2="711.2"/>
<line x1="276.4" y1="708.6" x2="307.5" y2="708.6"/>
<line x1="276.4" y1="711.2" x2="307.5" y2="711.2"/>
<line x1="269.0" y1="706.0" x2="269.0" y2="709.9"/>
<line x1="269.0" y1="706.0" x2="307.5" y2="706.0"/>
<line x1="269.0" y1="709.9" x2="276.4" y2="709.9"/>
<line x1="259.8" y1="699.2" x2="259.8" y2="708.0"/>
<line x1="259.8" y1="699.2" x2="262.8" y2="699.2"/>
<line x1="259.8" y1="708.0" x2="269.0" y2="708.0"/>
<line x1="254.0" y1="647.9" x2="254.0" y2="703.6"/>
<line x1="254.0" y1="647.9" x2="265.5" y2="647.9"/>
<line x1="254.0" y1="703.6" x2="259.8" y2="703.6"/>
<line x1="254.0" y1="675.7" x2="254.0" y2="703.0"/>
<line x1="288.1" y1="713.8" x2="288.1" y2="716.4"/>
<line x1="288.1" y1="713.8" x2="307.5" y2="713.8"/>
<line x1="288.1" y1="716.4" x2="307.5" y2="716.4"/>
<line x1="284.5" y1="715.1" x2="284.5" y2="719.0"/>
<line x1="284.5" y1="715.1" x2="288.1" y2="715.1"/>
<line x1="284.5" y1="719.0" x2="307.5" y2="719.0"/>
<line x1="282.6" y1="721.6" x2="282.6" y2="724.2"/>
<line x1="282.6" y1="721.6" x2="307.5" y2="721.6"/>
<line x1="282.6" y1="724.2" x2="307.5" y2="724.2"/>
<line x1="276.5" y1="717.0" x2="276.5" y2="722.9"/>
<line x1="276.5" y1="717.0" x2="284.5" y2="717.0"/>
<line x1="276.5" y1="722.9" x2="282.6" y2="722.9"/>
<line x1="271.9" y1="720.0" x2="271.9" y2="726.8"/>
<line x1="271.9" y1="720.0" x2="276.5" y2="720.0"/>
<line x1="271.9" y1="726.8" x2="307.5" y2="726.8"/>
<line x1="263.9" y1="723.4" x2="263.9" y2="729.4"/>
<line x1="263.9" y1="723.4" x2="271.9" y2="723.4"/>
<line x1="263.9" y1="729.4" x2="307.5" y2="729.4"/>
<line x1="286.5" y1="732.0" x2="286.5" y2="734.6"/>
<line x1="286.5" y1="732.0" x2="307.5" y2="732.0"/>
<line x1="286.5" y1="734.6" x2="307.5" y2="734.6"/>
<line x1="277.9" y1="733.3" x2="277.9" y2="737.2"/>
<line x1="277.9" y1="733.3" x2="286.5" y2="733.3"/>
<line x1="277.9" y1="737.2" x2="307.5" y2="737.2"/>
<line x1="272.6" y1="735.2" x2="272.6" y2="739.8"/>
<line x1="272.6" y1="735.2" x2="277.9" y2="735.2"/>
<line x1="272.6" y1="739.8" x2="307.5" y2="739.8"/>
<line x1="269.0" y1="737.5" x2="269.0" y2="742.4"/>
<line x1="269.0" y1="737.5" x2="272.6" y2="737.5"/>
<line x1="269.0" y1="742.4" x2="307.5" y2="742.4"/>
<line x1="260.0" y1="726.4" x2="260.0" y2="740.0"/>
<line x1="260.0" y1="726.4" x2="263.9" y2="726.4"/>
<line x1="260.0" y1="740.0" x2="269.0" y2="740.0"/>
<line x1="260.0" y1="733.2" x2="260.0" y2="735.5"/>
<line x1="287.6" y1="747.6" x2="287.6" y2="750.2"/>
<line x1="287.6" y1="747.6" x2="307.5" y2="747.6"/>
<line x1="287.6" y1="750.2" x2="307.5" y2="750.2"/>
<line x1="282.7" y1="748.9" x2="282.7" y2="752.8"/>
<line x1="282.7" y1="748.9" x2="287.6" y2="748.9"/>
<line x1="282.7" y1="752.8" x2="307.5" y2="752.8"/>
<line x1="278.3" y1="745.0" x2="278.3" y2="750.9"/>
<line x1="278.3" y1="745.0" x2="307.5" y2="745.0"/>
<line x1="278.3" y1="750.9" x2="282.7" y2="750.9"/>
<line x1="280.7" y1="755.4" x2="280.7" y2="758.0"/>
<line x1="280.7" y1="755.4" x2="307.5" y2="755.4"/>
<line x1="280.7" y1="758.0" x2="307.5" y2="758.0"/>
<line x1="276.4" y1="756.7" x2="276.4" y2="760.6"/>
<line x1="276.4" y1="756.7" x2="280.7" y2="756.7"/>
<line x1="276.4" y1="760.6" x2="307.5" y2="760.6"/>
<line x1="268.2" y1="747.9" x2="268.2" y2="758.7"/>
<line x1="268.2" y1="747.9" x2="278.3" y2="747.9"/>
<line x1="268.2" y1="758.7" x2="276.4" y2="758.7"/>
<line x1="295.0" y1="763.2" x2="295.0" y2="765.8"/>
<line x1="295.0" y1="763.2" x2="307.5" y2="763.2"/>
<line x1="295.0" y1="765.8" x2="307.5" y2="765.8"/>
<line x1="297.8" y1="768.4" x2="297.8" y2="771.0"/>
<line x1="297.8" y1="768.4" x2="307.5" y2="768.4"/>
<line x1="297.8" y1="771.0" x2="307.5" y2="771.0"/>
<line x1="294.8" y1="769.7" x2="294.8" y2="773.6"/>
<line x1="294.8" y1="769.7" x2="297.8" y2="769.7"/>
<line x1="294.8" y1="773.6" x2="307.5" y2="773.6"/>
<line x1="291.8" y1="764.5" x2="291.8" y2="771.7"/>
<line x1="291.8" y1="764.5" x2="295.0" y2="764.5"/>
<line x1="291.8" y1="771.7" x2="294.8" y2="771.7"/>
<line x1="291.8" y1="776.2" x2="291.8" y2="778.8"/>
<line x1="291.8" y1="776.2" x2="307.5" y2="776.2"/>
<line x1="291.8" y1="778.8" x2="307.5" y2="778.8"/>
<line x1="288.8" y1="768.1" x2="288.8" y2="777.5"/>
<line x1="288.8" y1="768.1" x2="291.8" y2="768.1"/>
<line x1="288.8" y1="777.5" x2="291.8" y2="777.5"/>
<line x1="288.8" y1="781.4" x2="288.8" y2="784.0"/>
<line x1="288.8" y1="781.4" x2="307.5" y2="781.4"/>
<line x1="288.8" y1="784.0" x2="307.5" y2="784.0"/>
<line x1="285.8" y1="772.8" x2="285.8" y2="782.7"/>
<line x1="285.8" y1="772.8" x2="288.8" y2="772.8"/>
<line x1="285.8" y1="782.7" x2="288.8" y2="782.7"/>
<line x1="295.0" y1="786.6" x2="295.0" y2="789.2"/>
<line x1="295.0" y1="786.6" x2="307.5" y2="786.6"/>
<line x1="295.0" y1="789.2" x2="307.5" y2="789.2"/>
<line x1="295.0" y1="791.8" x2="295.0" y2="794.4"/>
<line x1="295.0" y1="791.8" x2="307.5" y2="791.8"/>
<line x1="295.0" y1="794.4" x2="307.5" y2="794.4"/>
<line x1="292.0" y1="787.9" x2="292.0" y2="793.1"/>
<line x1="292.0" y1="787.9" x2="295.0" y2="787.9"/>
<line x1="292.0" y1="793.1" x2="295.0" y2="793.1"/>
<line x1="285.9" y1="790.5" x2="285.9" y2="797.0"/>
<line x1="285.9" y1="790.5" x2="292.0" y2="790.5"/>
<line x1="285.9" y1="797.0" x2="307.5" y2="797.0"/>
<line x1="276.8" y1="777.7" x2="276.8" y2="793.8"/>
<line x1="276.8" y1="777.7" x2="285.8" y2="777.7"/>
<line x1="276.8" y1="793.8" x2="285.9" y2="793.8"/>
<line x1="271.4" y1="785.7" x2="271.4" y2="799.6"/>
<line x1="271.4" y1="785.7" x2="276.8" y2="785.7"/>
<line x1="271.4" y1="799.6" x2="307.5" y2="799.6"/>
<line x1="258.0" y1="753.3" x2="258.0" y2="792.7"/>
<line x1="258.0" y1="753.3" x2="268.2" y2="753.3"/>
<line x1="258.0" y1="792.7" x2="271.4" y2="792.7"/>
<line x1="258.0" y1="773.0" x2="258.0" y2="761.0"/>
<line x1="290.3" y1="804.8" x2="290.3" y2="807.4"/>
<line x1="290.3" y1="804.8" x2="307.5" y2="804.8"/>
<line x1="290.3" y1="807.4" x2="307.5" y2="807.4"/>
<line x1="286.7" y1="802.2" x2="286.7" y2="806.1"/>
<line x1="286.7" y1="802.2" x2="307.5" y2="802.2"/>
<line x1="286.7" y1="806.1" x2="290.3" y2="806.1"/>
<line x1="291.3" y1="810.0" x2="291.3" y2="812.6"/>
<line x1="291.3" y1="810.0" x2="307.5" y2="810.0"/>
<line x1="291.3" y1="812.6" x2="307.5" y2="812.6"/>
<line x1="290.5" y1="815.2" x2="290.5" y2="817.8"/>
<line x1="290.5" y1="815.2" x2="307.5" y2="815.2"/>
<line x1="290.5" y1="817.8" x2="307.5" y2="817.8"/>
<line x1="284.9" y1="811.3" x2="284.9" y2="816.5"/>
<line x1="284.9" y1="811.3" x2="291.3" y2="811.3"/>
<line x1="284.9" y1="816.5" x2="290.5" y2="816.5"/>
<line x1="279.4" y1="804.2" x2="279.4" y2="813.9"/>
<line x1="279.4" y1="804.2" x2="286.7" y2="804.2"/>
<line x1="279.4" y1="813.9" x2="284.9" y2="813.9"/>
<line x1="294.9" y1="820.4" x2="294.9" y2="823.0"/>
<line x1="294.9" y1="820.4" x2="307.5" y2="820.4"/>
<line x1="294.9" y1="823.0" x2="307.5" y2="823.0"/>
<line x1="289.5" y1="821.7" x2="289.5" y2="825.6"/>
<line x1="289.5" y1="821.7" x2="294.9" y2="821.7"/>
<line x1="289.5" y1="825.6" x2="307.5" y2="825.6"/>
<line x1="290.4" y1="828.2" x2="290.4" y2="830.8"/>
<line x1="290.4" y1="828.2" x2="307.5" y2="828.2"/>
<line x1="290.4" y1="830.8" x2="307.5" y2="830.8"/>
<line x1="286.5" y1="823.7" x2="286.5" y2="829.5"/>
<line x1="286.5" y1="823.7" x2="289.5" y2="823.7"/>
<line x1="286.5" y1="829.5" x2="290.4" y2="829.5"/>
<line x1="289.7" y1="836.0" x2="289.7" y2="838.6"/>
<line x1="289.7" y1="836.0" x2="307.5" y2="836.0"/>
<line x1="289.7" y1="838.6" x2="307.5" y2="838.6"/>
<line x1="286.7" y1="833.4" x2="286.7" y2="837.3"/>
<line x1="286.7" y1="833.4" x2="307.5" y2="833.4"/>
<line x1="286.7" y1="837.3" x2="289.7" y2="837.3"/>
<line x1="279.1" y1="826.6" x2="279.1" y2="835.3"/>
<line x1="279.1" y1="826.6" x2="286.5" y2="826.6"/>
<line x1="279.1" y1="835.3" x2="286.7" y2="835.3"/>
<line x1="275.2" y1="809.0" x2="275.2" y2="831.0"/>
<line x1="275.2" y1="809.0" x2="279.4" y2="809.0"/>
<line x1="275.2" y1="831.0" x2="279.1" y2="831.0"/>
<line x1="266.1" y1="841.2" x2="266.1" y2="843.8"/>
<line x1="266.1" y1="841.2" x2="307.5" y2="841.2"/>
<line x1="266.1" y1="843.8" x2="307.5" y2="843.8"/>
<line x1="262.0" y1="820.0" x2="262.0" y2="842.5"/>
<line x1="262.0" y1="820.0" x2="275.2" y2="820.0"/>
<line x1="262.0" y1="842.5" x2="266.1" y2="842.5"/>
<line x1="262.0" y1="831.2" x2="262.0" y2="835.6"/>
<line x1="268.2" y1="849.0" x2="268.2" y2="851.6"/>
<line x1="268.2" y1="849.0" x2="307.5" y2="849.0"/>
<line x1="268.2" y1="851.6" x2="307.5" y2="851.6"/>
<line x1="261.4" y1="850.3" x2="261.4" y2="854.2"/>
<line x1="261.4" y1="850.3" x2="268.2" y2="850.3"/>
<line x1="261.4" y1="854.2" x2="307.5" y2="854.2"/>
<line x1="258.1" y1="852.2" x2="258.1" y2="856.8"/>
<line x1="258.1" y1="852.2" x2="261.4" y2="852.2"/>
<line x1="258.1" y1="856.8" x2="307.5" y2="856.8"/>
<line x1="264.4" y1="859.4" x2="264.4" y2="862.0"/>
<line x1="264.4" y1="859.4" x2="307.5" y2="859.4"/>
<line x1="264.4" y1="862.0" x2="307.5" y2="862.0"/>
<line x1="260.1" y1="860.7" x2="260.1" y2="864.6"/>
<line x1="260.1" y1="860.7" x2="264.4" y2="860.7"/>
<line x1="260.1" y1="864.6" x2="307.5" y2="864.6"/>
<line x1="245.2" y1="854.5" x2="245.2" y2="862.7"/>
<line x1="245.2" y1="854.5" x2="258.1" y2="854.5"/>
<line x1="245.2" y1="862.7" x2="260.1" y2="862.7"/>
<line x1="264.0" y1="867.2" x2="264.0" y2="869.8"/>
<line x1="264.0" y1="867.2" x2="307.5" y2="867.2"/>
<line x1="264.0" y1="869.8" x2="307.5" y2="869.8"/>
<line x1="267.0" y1="875.0" x2="267.0" y2="877.6"/>
<line x1="267.0" y1="875.0" x2="307.5" y2="875.0"/>
<line x1="267.0" y1="877.6" x2="307.5" y2="877.6"/>
<line x1="259.1" y1="872.4" x2="259.1" y2="876.3"/>
<line x1="259.1" y1="872.4" x2="307.5" y2="872.4"/>
<line x1="259.1" y1="876.3" x2="267.0" y2="876.3"/>
<line x1="247.7" y1="868.5" x2="247.7" y2="874.3"/>
<line x1="247.7" y1="868.5" x2="264.0" y2="868.5"/>
<line x1="247.7" y1="874.3" x2="259.1" y2="874.3"/>
<line x1="235.5" y1="871.4" x2="235.5" y2="880.2"/>
<line x1="235.5" y1="871.4" x2="247.7" y2="871.4"/>
<line x1="235.5" y1="880.2" x2="307.5" y2="880.2"/>
<line x1="230.8" y1="858.6" x2="230.8" y2="875.8"/>
<line x1="230.8" y1="858.6" x2="245.2" y2="858.6"/>
<line x1="230.8" y1="875.8" x2="235.5" y2="875.8"/>
<line x1="230.8" y1="867.2" x2="230.8" y2="853.0"/>
<line x1="295.7" y1="882.8" x2="295.7" y2="885.4"/>
<line x1="295.7" y1="882.8" x2="307.5" y2="882.8"/>
<line x1="295.7" y1="885.4" x2="307.5" y2="885.4"/>
<line x1="291.6" y1="884.1" x2="291.6" y2="888.0"/>
<line x1="291.6" y1="884.1" x2="295.7" y2="884.1"/>
<line x1="291.6" y1="888.0" x2="307.5" y2="888.0"/>
<line x1="288.5" y1="890.6" x2="288.5" y2="893.2"/>
<line x1="288.5" y1="890.6" x2="307.5" y2="890.6"/>
<line x1="288.5" y1="893.2" x2="307.5" y2="893.2"/>
<line x1="285.5" y1="886.0" x2="285.5" y2="891.9"/>
<line x1="285.5" y1="886.0" x2="291.6" y2="886.0"/>
<line x1="285.5" y1="891.9" x2="288.5" y2="891.9"/>
<line x1="291.7" y1="895.8" x2="291.7" y2="898.4"/>
<line x1="291.7" y1="895.8" x2="307.5" y2="895.8"/>
<line x1="291.7" y1="898.4" x2="307.5" y2="898.4"/>
<line x1="287.8" y1="897.1" x2="287.8" y2="901.0"/>
<line x1="287.8" y1="897.1" x2="291.7" y2="897.1"/>
<line x1="287.8" y1="901.0" x2="307.5" y2="901.0"/>
<line x1="280.9" y1="889.0" x2="280.9" y2="899.0"/>
<line x1="280.9" y1="889.0" x2="285.5" y2="889.0"/>
<line x1="280.9" y1="899.0" x2="287.8" y2="899.0"/>
<line x1="287.0" y1="903.6" x2="287.0" y2="906.2"/>
<line x1="287.0" y1="903.6" x2="307.5" y2="903.6"/>
<line x1="287.0" y1="906.2" x2="307.5" y2="906.2"/>
<line x1="279.0" y1="904.9" x2="279.0" y2="908.8"/>
<line x1="279.0" y1="904.9" x2="287.0" y2="904.9"/>
<line x1="279.0" y1="908.8" x2="307.5" y2="908.8"/>
<line x1="271.2" y1="894.0" x2="271.2" y2="906.9"/>
<line x1="271.2" y1="894.0" x2="280.9" y2="894.0"/>
<line x1="271.2" y1="906.9" x2="279.0" y2="906.9"/>
<line x1="291.7" y1="911.4" x2="291.7" y2="914.0"/>
<line x1="291.7" y1="911.4" x2="307.5" y2="911.4"/>
<line x1="291.7" y1="914.0" x2="307.5" y2="914.0"/>
<line x1="288.0" y1="912.7" x2="288.0" y2="916.6"/>
<line x1="288.0" y1="912.7" x2="291.7" y2="912.7"/>
<line x1="288.0" y1="916.6" x2="307.5" y2="916.6"/>
<line x1="285.0" y1="914.7" x2="285.0" y2="919.2"/>
<line x1="285.0" y1="914.7" x2="288.0" y2="914.7"/>
<line x1="285.0" y1="919.2" x2="307.5" y2="919.2"/>
<line x1="275.6" y1="916.9" x2="275.6" y2="921.8"/>
<line x1="275.6" y1="916.9" x2="285.0" y2="916.9"/>
<line x1="275.6" y1="921.8" x2="307.5" y2="921.8"/>
<line x1="269.3" y1="924.4" x2="269.3" y2="927.0"/>
<line x1="269.3" y1="924.4" x2="307.5" y2="924.4"/>
<line x1="269.3" y1="927.0" x2="307.5" y2="927.0"/>
<line x1="266.3" y1="919.4" x2="266.3" y2="925.7"/>
<line x1="266.3" y1="919.4" x2="275.6" y2="919.4"/>
<line x1="266.3" y1="925.7" x2="269.3" y2="925.7"/>
<line x1="262.0" y1="900.4" x2="262.0" y2="922.5"/>
<line x1="262.0" y1="900.4" x2="271.2" y2="900.4"/>
<line x1="262.0" y1="922.5" x2="266.3" y2="922.5"/>
<line x1="262.0" y1="911.5" x2="262.0" y2="896.0"/>
<line x1="257.9" y1="932.2" x2="257.9" y2="934.8"/>
<line x1="257.9" y1="932.2" x2="307.5" y2="932.2"/>
<line x1="257.9" y1="934.8" x2="307.5" y2="934.8"/>
<line x1="283.3" y1="940.0" x2="283.3" y2="942.6"/>
<line x1="283.3" y1="940.0" x2="307.5" y2="940.0"/>
<line x1="283.3" y1="942.6" x2="307.5" y2="942.6"/>
<line x1="276.2" y1="941.3" x2="276.2" y2="945.2"/>
<line x1="276.2" y1="941.3" x2="283.3" y2="941.3"/>
<line x1="276.2" y1="945.2" x2="307.5" y2="945.2"/>
<line x1="263.1" y1="943.2" x2="263.1" y2="947.8"/>
<line x1="263.1" y1="943.2" x2="276.2" y2="943.2"/>
<line x1="263.1" y1="947.8" x2="307.5" y2="947.8"/>
<line x1="255.9" y1="937.4" x2="255.9" y2="945.5"/>
<line x1="255.9" y1="937.4" x2="307.5" y2="937.4"/>
<line x1="255.9" y1="945.5" x2="263.1" y2="945.5"/>
<line x1="241.4" y1="933.5" x2="241.4" y2="941.5"/>
<line x1="241.4" y1="933.5" x2="257.9" y2="933.5"/>
<line x1="241.4" y1="941.5" x2="255.9" y2="941.5"/>
<line x1="259.7" y1="953.0" x2="259.7" y2="955.6"/>
<line x1="259.7" y1="953.0" x2="307.5" y2="953.0"/>
<line x1="259.7" y1="955.6" x2="307.5" y2="955.6"/>
<line x1="245.3" y1="950.4" x2="245.3" y2="954.3"/>
<line x1="245.3" y1="950.4" x2="307.5" y2="950.4"/>
<line x1="245.3" y1="954.3" x2="259.7" y2="954.3"/>
<line x1="267.8" y1="958.2" x2="267.8" y2="960.8"/>
<line x1="267.8" y1="958.2" x2="307.5" y2="958.2"/>
<line x1="267.8" y1="960.8" x2="307.5" y2="960.8"/>
<line x1="263.2" y1="959.5" x2="263.2" y2="963.4"/>
<line x1="263.2" y1="959.5" x2="267.8" y2="959.5"/>
<line x1="263.2" y1="963.4" x2="307.5" y2="963.4"/>
<line x1="258.5" y1="961.5" x2="258.5" y2="966.0"/>
<line x1="258.5" y1="961.5" x2="263.2" y2="961.5"/>
<line x1="258.5" y1="966.0" x2="307.5" y2="966.0"/>
<line x1="269.9" y1="971.2" x2="269.9" y2="973.8"/>
<line x1="269.9" y1="971.2" x2="307.5" y2="971.2"/>
<line x1="269.9" y1="973.8" x2="307.5" y2="973.8"/>
<line x1="259.9" y1="968.6" x2="259.9" y2="972.5"/>
<line x1="259.9" y1="968.6" x2="307.5" y2="968.6"/>
<line x1="259.9" y1="972.5" x2="269.9" y2="972.5"/>
<line x1="243.9" y1="963.7" x2="243.9" y2="970.5"/>
<line x1="243.9" y1="963.7" x2="258.5" y2="963.7"/>
<line x1="243.9" y1="970.5" x2="259.9" y2="970.5"/>
<line x1="237.4" y1="952.3" x2="237.4" y2="967.1"/>
<line x1="237.4" y1="952.3" x2="245.3" y2="952.3"/>
<line x1="237.4" y1="967.1" x2="243.9" y2="967.1"/>
<line x1="232.0" y1="937.5" x2="232.0" y2="959.7"/>
<line x1="232.0" y1="937.5" x2="241.4" y2="937.5"/>
<line x1="232.0" y1="959.7" x2="237.4" y2="959.7"/>
<line x1="232.0" y1="948.6" x2="232.0" y2="933.4"/>
<line x1="267.5" y1="979.0" x2="267.5" y2="981.6"/>
<line x1="267.5" y1="979.0" x2="307.5" y2="979.0"/>
<line x1="267.5" y1="981.6" x2="307.5" y2="981.6"/>
<line x1="255.0" y1="980.3" x2="255.0" y2="984.2"/>
<line x1="255.0" y1="980.3" x2="267.5" y2="980.3"/>
<line x1="255.0" y1="984.2" x2="307.5" y2="984.2"/>
<line x1="281.4" y1="986.8" x2="281.4" y2="989.4"/>
<line x1="281.4" y1="986.8" x2="307.5" y2="986.8"/>
<line x1="281.4" y1="989.4" x2="307.5" y2="989.4"/>
<line x1="286.9" y1="992.0" x2="286.9" y2="994.6"/>
<line x1="286.9" y1="992.0" x2="307.5" y2="992.0"/>
<line x1="286.9" y1="994.6" x2="307.5" y2="994.6"/>
<line x1="283.4" y1="993.3" x2="283.4" y2="997.2"/>
<line x1="283.4" y1="993.3" x2="286.9" y2="993.3"/>
<line x1="283.4" y1="997.2" x2="307.5" y2="997.2"/>
<line x1="277.3" y1="988.1" x2="277.3" y2="995.2"/>
<line x1="277.3" y1="988.1" x2="281.4" y2="988.1"/>
<line x1="277.3" y1="995.2" x2="283.4" y2="995.2"/>
<line x1="284.5" y1="999.8" x2="284.5" y2="1002.4"/>
<line x1="284.5" y1="999.8" x2="307.5" y2="999.8"/>
<line x1="284.5" y1="1002.4" x2="307.5" y2="1002.4"/>
<line x1="298.7" y1="1005.0" x2="298.7" y2="1007.6"/>
<line x1="298.7" y1="1005.0" x2="307.5" y2="1005.0"/>
<line x1="298.7" y1="1007.6" x2="307.5" y2="1007.6"/>
<line x1="295.7" y1="1006.3" x2="295.7" y2="1010.2"/>
<line x1="295.7" y1="1006.3" x2="298.7" y2="1006.3"/>
<line x1="295.7" y1="1010.2" x2="307.5" y2="1010.2"/>
<line x1="292.7" y1="1008.2" x2="292.7" y2="1012.8"/>
<line x1="292.7" y1="1008.2" x2="295.7" y2="1008.2"/>
<line x1="292.7" y1="1012.8" x2="307.5" y2="1012.8"/>
<line x1="289.7" y1="1010.5" x2="289.7" y2="1015.4"/>
<line x1="289.7" y1="1010.5" x2="292.7" y2="1010.5"/>
<line x1="289.7" y1="1015.4" x2="307.5" y2="1015.4"/>
<line x1="284.9" y1="1013.0" x2="284.9" y2="1018.0"/>
<line x1="284.9" y1="1013.0" x2="289.7" y2="1013.0"/>
<line x1="284.9" y1="1018.0" x2="307.5" y2="1018.0"/>
<line x1="281.5" y1="1001.1" x2="281.5" y2="1015.5"/>
<line x1="281.5" y1="1001.1" x2="284.5" y2="1001.1"/>
<line x1="281.5" y1="1015.5" x2="284.9" y2="1015.5"/>
<line x1="274.3" y1="991.7" x2="274.3" y2="1008.3"/>
<line x1="274.3" y1="991.7" x2="277.3" y2="991.7"/>
<line x1="274.3" y1="1008.3" x2="281.5" y2="1008.3"/>
<line x1="290.9" y1="1020.6" x2="290.9" y2="1023.2"/>
<line x1="290.9" y1="1020.6" x2="307.5" y2="1020.6"/>
<line x1="290.9" y1="1023.2" x2="307.5" y2="1023.2"/>
<line x1="285.3" y1="1021.9" x2="285.3" y2="1025.8"/>
<line x1="285.3" y1="1021.9" x2="290.9" y2="1021.9"/>
<line x1="285.3" y1="1025.8" x2="307.5" y2="1025.8"/>
<line x1="287.5" y1="1028.4" x2="287.5" y2="1031.0"/>
<line x1="287.5" y1="1028.4" x2="307.5" y2="1028.4"/>
<line x1="287.5" y1="1031.0" x2="307.5" y2="1031.0"/>
<line x1="280.3" y1="1023.9" x2="280.3" y2="1029.7"/>
<line x1="280.3" y1="1023.9" x2="285.3" y2="1023.9"/>
<line x1="280.3" y1="1029.7" x2="287.5" y2="1029.7"/>
<line x1="280.1" y1="1033.6" x2="280.1" y2="1036.2"/>
<line x1="280.1" y1="1033.6" x2="307.5" y2="1033.6"/>
<line x1="280.1" y1="1036.2" x2="307.5" y2="1036.2"/>
<line x1="276.9" y1="1034.9" x2="276.9" y2="1038.8"/>
<line x1="276.9" y1="1034.9" x2="280.1" y2="1034.9"/>
<line x1="276.9" y1="1038.8" x2="307.5" y2="1038.8"/>
<line x1="270.7" y1="1026.8" x2="270.7" y2="1036.9"/>
<line x1="270.7" y1="1026.8" x2="280.3" y2="1026.8"/>
<line x1="270.7" y1="1036.9" x2="276.9" y2="1036.9"/>
<line x1="261.9" y1="1000.0" x2="261.9" y2="1031.8"/>
<line x1="261.9" y1="1000.0" x2="274.3" y2="1000.0"/>
<line x1="261.9" y1="1031.8" x2="270.7" y2="1031.8"/>
<line x1="263.8" y1="1041.4" x2="263.8" y2="1044.0"/>
<line x1="263.8" y1="1041.4" x2="307.5" y2="1041.4"/>
<line x1="263.8" y1="1044.0" x2="307.5" y2="1044.0"/>
<line x1="250.7" y1="1015.9" x2="250.7" y2="1042.7"/>
<line x1="250.7" y1="1015.9" x2="261.9" y2="1015.9"/>
<line x1="250.7" y1="1042.7" x2="263.8" y2="1042.7"/>
<line x1="242.4" y1="982.2" x2="242.4" y2="1029.3"/>
<line x1="242.4" y1="982.2" x2="255.0" y2="982.2"/>
<line x1="242.4" y1="1029.3" x2="250.7" y2="1029.3"/>
<line x1="242.4" y1="1005.8" x2="242.4" y2="1010.0"/>
<line x1="257.3" y1="1049.2" x2="257.3" y2="1051.8"/>
<line x1="257.3" y1="1049.2" x2="307.5" y2="1049.2"/>
<line x1="257.3" y1="1051.8" x2="307.5" y2="1051.8"/>
<line x1="291.5" y1="1054.4" x2="291.5" y2="1057.0"/>
<line x1="291.5" y1="1054.4" x2="307.5" y2="1054.4"/>
<line x1="291.5" y1="1057.0" x2="307.5" y2="1057.0"/>
<line x1="289.1" y1="1059.6" x2="289.1" y2="1062.2"/>
<line x1="289.1" y1="1059.6" x2="307.5" y2="1059.6"/>
<line x1="289.1" y1="1062.2" x2="307.5" y2="1062.2"/>
<line x1="286.1" y1="1055.7" x2="286.1" y2="1060.9"/>
<line x1="286.1" y1="1055.7" x2="291.5" y2="1055.7"/>
<line x1="286.1" y1="1060.9" x2="289.1" y2="1060.9"/>
<line x1="277.3" y1="1058.3" x2="277.3" y2="1064.8"/>
<line x1="277.3" y1="1058.3" x2="286.1" y2="1058.3"/>
<line x1="277.3" y1="1064.8" x2="307.5" y2="1064.8"/>
<line x1="284.2" y1="1070.0" x2="284.2" y2="1072.6"/>
<line x1="284.2" y1="1070.0" x2="307.5" y2="1070.0"/>
<line x1="284.2" y1="1072.6" x2="307.5" y2="1072.6"/>
<line x1="275.8" y1="1067.4" x2="275.8" y2="1071.3"/>
<line x1="275.8" y1="1067.4" x2="307.5" y2="1067.4"/>
<line x1="275.8" y1="1071.3" x2="284.2" y2="1071.3"/>
<line x1="266.1" y1="1061.6" x2="266.1" y2="1069.3"/>
<line x1="266.1" y1="1061.6" x2="277.3" y2="1061.6"/>
<line x1="266.1" y1="1069.3" x2="275.8" y2="1069.3"/>
<line x1="257.7" y1="1065.5" x2="257.7" y2="1075.2"/>
<line x1="257.7" y1="1065.5" x2="266.1" y2="1065.5"/>
<line x1="257.7" y1="1075.2" x2="307.5" y2="1075.2"/>
<line x1="252.8" y1="1050.5" x2="252.8" y2="1070.3"/>
<line x1="252.8" y1="1050.5" x2="257.3" y2="1050.5"/>
<line x1="252.8" y1="1070.3" x2="257.7" y2="1070.3"/>
<line x1="289.8" y1="1080.4" x2="289.8" y2="1083.0"/>
<line x1="289.8" y1="1080.4" x2="307.5" y2="1080.4"/>
<line x1="289.8" y1="1083.0" x2="307.5" y2="1083.0"/>
<line x1="282.4" y1="1077.8" x2="282.4" y2="1081.7"/>
<line x1="282.4" y1="1077.8" x2="307.5" y2="1077.8"/>
<line x1="282.4" y1="1081.7" x2="289.8" y2="1081.7"/>
<line x1="284.8" y1="1085.6" x2="284.8" y2="1088.2"/>
<line x1="284.8" y1="1085.6" x2="307.5" y2="1085.6"/>
<line x1="284.8" y1="1088.2" x2="307.5" y2="1088.2"/>
<line x1="281.8" y1="1086.9" x2="281.8" y2="1090.8"/>
<line x1="281.8" y1="1086.9" x2="284.8" y2="1086.9"/>
<line x1="281.8" y1="1090.8" x2="307.5" y2="1090.8"/>
<line x1="274.5" y1="1079.8" x2="274.5" y2="1088.9"/>
<line x1="274.5" y1="1079.8" x2="282.4" y2="1079.8"/>
<line x1="274.5" y1="1088.9" x2="281.8" y2="1088.9"/>
<line x1="286.2" y1="1093.4" x2="286.2" y2="1096.0"/>
<line x1="286.2" y1="1093.4" x2="307.5" y2="1093.4"/>
<line x1="286.2" y1="1096.0" x2="307.5" y2="1096.0"/>
<line x1="282.7" y1="1094.7" x2="282.7" y2="1098.6"/>
<line x1="282.7" y1="1094.7" x2="286.2" y2="1094.7"/>
<line x1="282.7" y1="1098.6" x2="307.5" y2="1098.6"/>
<line x1="274.0" y1="1096.7" x2="274.0" y2="1101.2"/>
<line x1="274.0" y1="1096.7" x2="282.7" y2="1096.7"/>
<line x1="274.0" y1="1101.2" x2="307.5" y2="1101.2"/>
<line x1="265.1" y1="1084.3" x2="265.1" y2="1098.9"/>
<line x1="265.1" y1="1084.3" x2="274.5" y2="1084.3"/>
<line x1="265.1" y1="1098.9" x2="274.0" y2="1098.9"/>
<line x1="248.0" y1="1060.4" x2="248.0" y2="1091.6"/>
<line x1="248.0" y1="1060.4" x2="252.8" y2="1060.4"/>
<line x1="248.0" y1="1091.6" x2="265.1" y2="1091.6"/>
<line x1="248.0" y1="1076.0" x2="248.0" y2="1054.0"/>
<line x1="298.3" y1="1103.8" x2="298.3" y2="1106.4"/>
<line x1="298.3" y1="1103.8" x2="307.5" y2="1103.8"/>
<line x1="298.3" y1="1106.4" x2="307.5" y2="1106.4"/>
<line x1="294.4" y1="1105.1" x2="294.4" y2="1109.0"/>
<line x1="294.4" y1="1105.1" x2="298.3" y2="1105.1"/>
<line x1="294.4" y1="1109.0" x2="307.5" y2="1109.0"/>
<line x1="294.4" y1="1111.6" x2="294.4" y2="1114.2"/>
<line x1="294.4" y1="1111.6" x2="307.5" y2="1111.6"/>
<line x1="294.4" y1="1114.2" x2="307.5" y2="1114.2"/>
<line x1="291.4" y1="1107.1" x2="291.4" y2="1112.9"/>
<line x1="291.4" y1="1107.1" x2="294.4" y2="1107.1"/>
<line x1="291.4" y1="1112.9" x2="294.4" y2="1112.9"/>
<line x1="287.9" y1="1116.8" x2="287.9" y2="1119.4"/>
<line x1="287.9" y1="1116.8" x2="307.5" y2="1116.8"/>
<line x1="287.9" y1="1119.4" x2="307.5" y2="1119.4"/>
<line x1="284.9" y1="1110.0" x2="284.9" y2="1118.1"/>
<line x1="284.9" y1="1110.0" x2="291.4" y2="1110.0"/>
<line x1="284.9" y1="1118.1" x2="287.9" y2="1118.1"/>
<line x1="293.1" y1="1124.6" x2="293.1" y2="1127.2"/>
<line x1="293.1" y1="1124.6" x2="307.5" y2="1124.6"/>
<line x1="293.1" y1="1127.2" x2="307.5" y2="1127.2"/>
<line x1="287.6" y1="1125.9" x2="287.6" y2="1129.8"/>
<line x1="287.6" y1="1125.9" x2="293.1" y2="1125.9"/>
<line x1="287.6" y1="1129.8" x2="307.5" y2="1129.8"/>
<line x1="288.6" y1="1132.4" x2="288.6" y2="1135.0"/>
<line x1="288.6" y1="1132.4" x2="307.5" y2="1132.4"/>
<line x1="288.6" y1="1135.0" x2="307.5" y2="1135.0"/>
<line x1="284.6" y1="1127.9" x2="284.6" y2="1133.7"/>
<line x1="284.6" y1="1127.9" x2="287.6" y2="1127.9"/>
<line x1="284.6" y1="1133.7" x2="288.6" y2="1133.7"/>
<line x1="281.6" y1="1122.0" x2="281.6" y2="1130.8"/>
<line x1="281.6" y1="1122.0" x2="307.5" y2="1122.0"/>
<line x1="281.6" y1="1130.8" x2="284.6" y2="1130.8"/>
<line x1="278.6" y1="1114.0" x2="278.6" y2="1126.4"/>
<line x1="278.6" y1="1114.0" x2="284.9" y2="1114.0"/>
<line x1="278.6" y1="1126.4" x2="281.6" y2="1126.4"/>
<line x1="285.9" y1="1137.6" x2="285.9" y2="1140.2"/>
<line x1="285.9" y1="1137.6" x2="307.5" y2="1137.6"/>
<line x1="285.9" y1="1140.2" x2="307.5" y2="1140.2"/>
<line x1="297.4" y1="1145.4" x2="297.4" y2="1148.0"/>
<line x1="297.4" y1="1145.4" x2="307.5" y2="1145.4"/>
<line x1="297.4" y1="1148.0" x2="307.5" y2="1148.0"/>
<line x1="294.4" y1="1142.8" x2="294.4" y2="1146.7"/>
<line x1="294.4" y1="1142.8" x2="307.5" y2="1142.8"/>
<line x1="294.4" y1="1146.7" x2="297.4" y2="1146.7"/>
<line x1="294.9" y1="1150.6" x2="294.9" y2="1153.2"/>
<line x1="294.9" y1="1150.6" x2="307.5" y2="1150.6"/>
<line x1="294.9" y1="1153.2" x2="307.5" y2="1153.2"/>
<line x1="291.4" y1="1144.8" x2="291.4" y2="1151.9"/>
<line x1="291.4" y1="1144.8" x2="294.4" y2="1144.8"/>
<line x1="291.4" y1="1151.9" x2="294.9" y2="1151.9"/>
<line x1="285.2" y1="1148.3" x2="285.2" y2="1155.8"/>
<line x1="285.2" y1="1148.3" x2="291.4" y2="1148.3"/>
<line x1="285.2" y1="1155.8" x2="307.5" y2="1155.8"/>
<line x1="281.8" y1="1138.9" x2="281.8" y2="1152.1"/>
<line x1="281.8" y1="1138.9" x2="285.9" y2="1138.9"/>
<line x1="281.8" y1="1152.1" x2="285.2" y2="1152.1"/>
<line x1="273.5" y1="1120.2" x2="273.5" y2="1145.5"/>
<line x1="273.5" y1="1120.2" x2="278.6" y2="1120.2"/>
<line x1="273.5" y1="1145.5" x2="281.8" y2="1145.5"/>
<line x1="266.8" y1="1158.4" x2="266.8" y2="1161.0"/>
<line x1="266.8" y1="1158.4" x2="307.5" y2="1158.4"/>
<line x1="266.8" y1="1161.0" x2="307.5" y2="1161.0"/>
<line x1="263.4" y1="1132.8" x2="263.4" y2="1159.7"/>
<line x1="263.4" y1="1132.8" x2="273.5" y2="1132.8"/>
<line x1="263.4" y1="1159.7" x2="266.8" y2="1159.7"/>
<line x1="263.4" y1="1146.3" x2="263.4" y2="1131.0"/>
<line x1="292.4" y1="1166.2" x2="292.4" y2="1168.8"/>
<line x1="292.4" y1="1166.2" x2="307.5" y2="1166.2"/>
<line x1="292.4" y1="1168.8" x2="307.5" y2="1168.8"/>
<line x1="289.4" y1="1163.6" x2="289.4" y2="1167.5"/>
<line x1="289.4" y1="1163.6" x2="307.5" y2="1163.6"/>
<line x1="289.4" y1="1167.5" x2="292.4" y2="1167.5"/>
<line x1="291.5" y1="1171.4" x2="291.5" y2="1174.0"/>
<line x1="291.5" y1="1171.4" x2="307.5" y2="1171.4"/>
<line x1="291.5" y1="1174.0" x2="307.5" y2="1174.0"/>
<line x1="286.4" y1="1165.5" x2="286.4" y2="1172.7"/>
<line x1="286.4" y1="1165.5" x2="289.4" y2="1165.5"/>
<line x1="286.4" y1="1172.7" x2="291.5" y2="1172.7"/>
<line x1="288.9" y1="1176.6" x2="288.9" y2="1179.2"/>
<line x1="288.9" y1="1176.6" x2="307.5" y2="1176.6"/>
<line x1="288.9" y1="1179.2" x2="307.5" y2="1179.2"/>
<line x1="296.8" y1="1181.8" x2="296.8" y2="1184.4"/>
<line x1="296.8" y1="1181.8" x2="307.5" y2="1181.8"/>
<line x1="296.8" y1="1184.4" x2="307.5" y2="1184.4"/>
<line x1="299.8" y1="1187.0" x2="299.8" y2="1189.6"/>
<line x1="299.8" y1="1187.0" x2="307.5" y2="1187.0"/>
<line x1="299.8" y1="1189.6" x2="307.5" y2="1189.6"/>
<line x1="296.8" y1="1188.3" x2="296.8" y2="1192.2"/>
<line x1="296.8" y1="1188.3" x2="299.8" y2="1188.3"/>
<line x1="296.8" y1="1192.2" x2="307.5" y2="1192.2"/>
<line x1="293.8" y1="1183.1" x2="293.8" y2="1190.2"/>
<line x1="293.8" y1="1183.1" x2="296.8" y2="1183.1"/>
<line x1="293.8" y1="1190.2" x2="296.8" y2="1190.2"/>
<line x1="291.8" y1="1194.8" x2="291.8" y2="1197.4"/>
<line x1="291.8" y1="1194.8" x2="307.5" y2="1194.8"/>
<line x1="291.8" y1="1197.4" x2="307.5" y2="1197.4"/>
<line x1="288.8" y1="1186.7" x2="288.8" y2="1196.1"/>
<line x1="288.8" y1="1186.7" x2="293.8" y2="1186.7"/>
<line x1="288.8" y1="1196.1" x2="291.8" y2="1196.1"/>
<line x1="283.5" y1="1177.9" x2="283.5" y2="1191.4"/>
<line x1="283.5" y1="1177.9" x2="288.9" y2="1177.9"/>
<line x1="283.5" y1="1191.4" x2="288.8" y2="1191.4"/>
<line x1="279.8" y1="1169.1" x2="279.8" y2="1184.6"/>
<line x1="279.8" y1="1169.1" x2="286.4" y2="1169.1"/>
<line x1="279.8" y1="1184.6" x2="283.5" y2="1184.6"/>
<line x1="288.9" y1="1200.0" x2="288.9" y2="1202.6"/>
<line x1="288.9" y1="1200.0" x2="307.5" y2="1200.0"/>
<line x1="288.9" y1="1202.6" x2="307.5" y2="1202.6"/>
<line x1="302.0" y1="1205.2" x2="302.0" y2="1207.8"/>
<line x1="302.0" y1="1205.2" x2="307.5" y2="1205.2"/>
<line x1="302.0" y1="1207.8" x2="307.5" y2="1207.8"/>
<line x1="299.0" y1="1206.5" x2="299.0" y2="1210.4"/>
<line x1="299.0" y1="1206.5" x2="302.0" y2="1206.5"/>
<line x1="299.0" y1="1210.4" x2="307.5" y2="1210.4"/>
<line x1="296.0" y1="1208.5" x2="296.0" y2="1213.0"/>
<line x1="296.0" y1="1208.5" x2="299.0" y2="1208.5"/>
<line x1="296.0" y1="1213.0" x2="307.5" y2="1213.0"/>
<line x1="293.0" y1="1210.7" x2="293.0" y2="1215.6"/>
<line x1="293.0" y1="1210.7" x2="296.0" y2="1210.7"/>
<line x1="293.0" y1="1215.6" x2="307.5" y2="1215.6"/>
<line x1="300.9" y1="1218.2" x2="300.9" y2="1220.8"/>
<line x1="300.9" y1="1218.2" x2="307.5" y2="1218.2"/>
<line x1="300.9" y1="1220.8" x2="307.5" y2="1220.8"/>
<line x1="297.9" y1="1219.5" x2="297.9" y2="1223.4"/>
<line x1="297.9" y1="1219.5" x2="300.9" y2="1219.5"/>
<line x1="297.9" y1="1223.4" x2="307.5" y2="1223.4"/>
<line x1="297.9" y1="1226.0" x2="297.9" y2="1228.6"/>
<line x1="297.9" y1="1226.0" x2="307.5" y2="1226.0"/>
<line x1="297.9" y1="1228.6" x2="307.5" y2="1228.6"/>
<line x1="294.9" y1="1221.5" x2="294.9" y2="1227.3"/>
<line x1="294.9" y1="1221.5" x2="297.9" y2="1221.5"/>
<line x1="294.9" y1="1227.3" x2="297.9" y2="1227.3"/>
<line x1="291.9" y1="1224.4" x2="291.9" y2="1231.2"/>
<line x1="291.9" y1="1224.4" x2="294.9" y2="1224.4"/>
<line x1="291.9" y1="1231.2" x2="307.5" y2="1231.2"/>
<line x1="288.9" y1="1213.2" x2="288.9" y2="1227.8"/>
<line x1="288.9" y1="1213.2" x2="293.0" y2="1213.2"/>
<line x1="288.9" y1="1227.8" x2="291.9" y2="1227.8"/>
<line x1="285.9" y1="1201.3" x2="285.9" y2="1220.5"/>
<line x1="285.9" y1="1201.3" x2="288.9" y2="1201.3"/>
<line x1="285.9" y1="1220.5" x2="288.9" y2="1220.5"/>
<line x1="276.8" y1="1176.9" x2="276.8" y2="1210.9"/>
<line x1="276.8" y1="1176.9" x2="279.8" y2="1176.9"/>
<line x1="276.8" y1="1210.9" x2="285.9" y2="1210.9"/>
<line x1="292.8" y1="1239.0" x2="292.8" y2="1241.6"/>
<line x1="292.8" y1="1239.0" x2="307.5" y2="1239.0"/>
<line x1="292.8" y1="1241.6" x2="307.5" y2="1241.6"/>
<line x1="289.3" y1="1236.4" x2="289.3" y2="1240.3"/>
<line x1="289.3" y1="1236.4" x2="307.5" y2="1236.4"/>
<line x1="289.3" y1="1240.3" x2="292.8" y2="1240.3"/>
<line x1="292.6" y1="1244.2" x2="292.6" y2="1246.8"/>
<line x1="292.6" y1="1244.2" x2="307.5" y2="1244.2"/>
<line x1="292.6" y1="1246.8" x2="307.5" y2="1246.8"/>
<line x1="286.3" y1="1238.3" x2="286.3" y2="1245.5"/>
<line x1="286.3" y1="1238.3" x2="289.3" y2="1238.3"/>
<line x1="286.3" y1="1245.5" x2="292.6" y2="1245.5"/>
<line x1="282.0" y1="1233.8" x2="282.0" y2="1241.9"/>
<line x1="282.0" y1="1233.8" x2="307.5" y2="1233.8"/>
<line x1="282.0" y1="1241.9" x2="286.3" y2="1241.9"/>
<line x1="293.9" y1="1252.0" x2="293.9" y2="1254.6"/>
<line x1="293.9" y1="1252.0" x2="307.5" y2="1252.0"/>
<line x1="293.9" y1="1254.6" x2="307.5" y2="1254.6"/>
<line x1="290.9" y1="1249.4" x2="290.9" y2="1253.3"/>
<line x1="290.9" y1="1249.4" x2="307.5" y2="1249.4"/>
<line x1="290.9" y1="1253.3" x2="293.9" y2="1253.3"/>
<line x1="290.2" y1="1257.2" x2="290.2" y2="1259.8"/>
<line x1="290.2" y1="1257.2" x2="307.5" y2="1257.2"/>
<line x1="290.2" y1="1259.8" x2="307.5" y2="1259.8"/>
<line x1="284.3" y1="1251.3" x2="284.3" y2="1258.5"/>
<line x1="284.3" y1="1251.3" x2="290.9" y2="1251.3"/>
<line x1="284.3" y1="1258.5" x2="290.2" y2="1258.5"/>
<line x1="279.0" y1="1237.9" x2="279.0" y2="1254.9"/>
<line x1="279.0" y1="1237.9" x2="282.0" y2="1237.9"/>
<line x1="279.0" y1="1254.9" x2="284.3" y2="1254.9"/>
<line x1="273.5" y1="1193.9" x2="273.5" y2="1246.4"/>
<line x1="273.5" y1="1193.9" x2="276.8" y2="1193.9"/>
<line x1="273.5" y1="1246.4" x2="279.0" y2="1246.4"/>
<line x1="293.4" y1="1267.6" x2="293.4" y2="1270.2"/>
<line x1="293.4" y1="1267.6" x2="307.5" y2="1267.6"/>
<line x1="293.4" y1="1270.2" x2="307.5" y2="1270.2"/>
<line x1="288.1" y1="1265.0" x2="288.1" y2="1268.9"/>
<line x1="288.1" y1="1265.0" x2="307.5" y2="1265.0"/>
<line x1="288.1" y1="1268.9" x2="293.4" y2="1268.9"/>
<line x1="290.9" y1="1272.8" x2="290.9" y2="1275.4"/>
<line x1="290.9" y1="1272.8" x2="307.5" y2="1272.8"/>
<line x1="290.9" y1="1275.4" x2="307.5" y2="1275.4"/>
<line x1="284.2" y1="1267.0" x2="284.2" y2="1274.1"/>
<line x1="284.2" y1="1267.0" x2="288.1" y2="1267.0"/>
<line x1="284.2" y1="1274.1" x2="290.9" y2="1274.1"/>
<line x1="281.2" y1="1262.4" x2="281.2" y2="1270.5"/>
<line x1="281.2" y1="1262.4" x2="307.5" y2="1262.4"/>
<line x1="281.2" y1="1270.5" x2="284.2" y2="1270.5"/>
<line x1="279.7" y1="1278.0" x2="279.7" y2="1280.6"/>
<line x1="279.7" y1="1278.0" x2="307.5" y2="1278.0"/>
<line x1="279.7" y1="1280.6" x2="307.5" y2="1280.6"/>
<line x1="276.4" y1="1266.5" x2="276.4" y2="1279.3"/>
<line x1="276.4" y1="1266.5" x2="281.2" y2="1266.5"/>
<line x1="276.4" y1="1279.3" x2="279.7" y2="1279.3"/>
<line x1="289.2" y1="1283.2" x2="289.2" y2="1285.8"/>
<line x1="289.2" y1="1283.2" x2="307.5" y2="1283.2"/>
<line x1="289.2" y1="1285.8" x2="307.5" y2="1285.8"/>
<line x1="283.1" y1="1284.5" x2="283.1" y2="1288.4"/>
<line x1="283.1" y1="1284.5" x2="289.2" y2="1284.5"/>
<line x1="283.1" y1="1288.4" x2="307.5" y2="1288.4"/>
<line x1="288.1" y1="1291.0" x2="288.1" y2="1293.6"/>
<line x1="288.1" y1="1291.0" x2="307.5" y2="1291.0"/>
<line x1="288.1" y1="1293.6" x2="307.5" y2="1293.6"/>
<line x1="283.1" y1="1292.3" x2="283.1" y2="1296.2"/>
<line x1="283.1" y1="1292.3" x2="288.1" y2="1292.3"/>
<line x1="283.1" y1="1296.2" x2="307.5" y2="1296.2"/>
<line x1="280.1" y1="1286.5" x2="280.1" y2="1294.2"/>
<line x1="280.1" y1="1286.5" x2="283.1" y2="1286.5"/>
<line x1="280.1" y1="1294.2" x2="283.1" y2="1294.2"/>
<line x1="289.8" y1="1298.8" x2="289.8" y2="1301.4"/>
<line x1="289.8" y1="1298.8" x2="307.5" y2="1298.8"/>
<line x1="289.8" y1="1301.4" x2="307.5" y2="1301.4"/>
<line x1="288.8" y1="1304.0" x2="288.8" y2="1306.6"/>
<line x1="288.8" y1="1304.0" x2="307.5" y2="1304.0"/>
<line x1="288.8" y1="1306.6" x2="307.5" y2="1306.6"/>
<line x1="285.0" y1="1300.1" x2="285.0" y2="1305.3"/>
<line x1="285.0" y1="1300.1" x2="289.8" y2="1300.1"/>
<line x1="285.0" y1="1305.3" x2="288.8" y2="1305.3"/>
<line x1="276.9" y1="1290.3" x2="276.9" y2="1302.7"/>
<line x1="276.9" y1="1290.3" x2="280.1" y2="1290.3"/>
<line x1="276.9" y1="1302.7" x2="285.0" y2="1302.7"/>
<line x1="267.9" y1="1272.9" x2="267.9" y2="1296.5"/>
<line x1="267.9" y1="1272.9" x2="276.4" y2="1272.9"/>
<line x1="267.9" y1="1296.5" x2="276.9" y2="1296.5"/>
<line x1="289.2" y1="1309.2" x2="289.2" y2="1311.8"/>
<line x1="289.2" y1="1309.2" x2="307.5" y2="1309.2"/>
<line x1="289.2" y1="1311.8" x2="307.5" y2="1311.8"/>
<line x1="283.7" y1="1310.5" x2="283.7" y2="1314.4"/>
<line x1="283.7" y1="1310.5" x2="289.2" y2="1310.5"/>
<line x1="283.7" y1="1314.4" x2="307.5" y2="1314.4"/>
<line x1="286.4" y1="1317.0" x2="286.4" y2="1319.6"/>
<line x1="286.4" y1="1317.0" x2="307.5" y2="1317.0"/>
<line x1="286.4" y1="1319.6" x2="307.5" y2="1319.6"/>
<line x1="278.2" y1="1312.5" x2="278.2" y2="1318.3"/>
<line x1="278.2" y1="1312.5" x2="283.7" y2="1312.5"/>
<line x1="278.2" y1="1318.3" x2="286.4" y2="1318.3"/>
<line x1="275.9" y1="1322.2" x2="275.9" y2="1324.8"/>
<line x1="275.9" y1="1322.2" x2="307.5" y2="1322.2"/>
<line x1="275.9" y1="1324.8" x2="307.5" y2="1324.8"/>
<line x1="271.0" y1="1315.4" x2="271.0" y2="1323.5"/>
<line x1="271.0" y1="1315.4" x2="278.2" y2="1315.4"/>
<line x1="271.0" y1="1323.5" x2="275.9" y2="1323.5"/>
<line x1="264.8" y1="1284.7" x2="264.8" y2="1319.4"/>
<line x1="264.8" y1="1284.7" x2="267.9" y2="1284.7"/>
<line x1="264.8" y1="1319.4" x2="271.0" y2="1319.4"/>
<line x1="261.0" y1="1220.1" x2="261.0" y2="1302.1"/>
<line x1="261.0" y1="1220.1" x2="273.5" y2="1220.1"/>
<line x1="261.0" y1="1302.1" x2="264.8" y2="1302.1"/>
<line x1="261.0" y1="1261.1" x2="261.0" y2="1265.0"/>
<line x1="269.5" y1="1330.0" x2="269.5" y2="1332.6"/>
<line x1="269.5" y1="1330.0" x2="307.5" y2="1330.0"/>
<line x1="269.5" y1="1332.6" x2="307.5" y2="1332.6"/>
<line x1="267.1" y1="1335.2" x2="267.1" y2="1337.8"/>
<line x1="267.1" y1="1335.2" x2="307.5" y2="1335.2"/>
<line x1="267.1" y1="1337.8" x2="307.5" y2="1337.8"/>
<line x1="263.6" y1="1331.3" x2="263.6" y2="1336.5"/>
<line x1="263.6" y1="1331.3" x2="269.5" y2="1331.3"/>
<line x1="263.6" y1="1336.5" x2="267.1" y2="1336.5"/>
<line x1="278.7" y1="1340.4" x2="278.7" y2="1343.0"/>
<line x1="278.7" y1="1340.4" x2="307.5" y2="1340.4"/>
<line x1="278.7" y1="1343.0" x2="307.5" y2="1343.0"/>
<line x1="272.0" y1="1341.7" x2="272.0" y2="1345.6"/>
<line x1="272.0" y1="1341.7" x2="278.7" y2="1341.7"/>
<line x1="272.0" y1="1345.6" x2="307.5" y2="1345.6"/>
<line x1="273.5" y1="1348.2" x2="273.5" y2="1350.8"/>
<line x1="273.5" y1="1348.2" x2="307.5" y2="1348.2"/>
<line x1="273.5" y1="1350.8" x2="307.5" y2="1350.8"/>
<line x1="266.4" y1="1343.7" x2="266.4" y2="1349.5"/>
<line x1="266.4" y1="1343.7" x2="272.0" y2="1343.7"/>
<line x1="266.4" y1="1349.5" x2="273.5" y2="1349.5"/>
<line x1="253.0" y1="1333.9" x2="253.0" y2="1346.6"/>
<line x1="253.0" y1="1333.9" x2="263.6" y2="1333.9"/>
<line x1="253.0" y1="1346.6" x2="266.4" y2="1346.6"/>
<line x1="271.7" y1="1353.4" x2="271.7" y2="1356.0"/>
<line x1="271.7" y1="1353.4" x2="307.5" y2="1353.4"/>
<line x1="271.7" y1="1356.0" x2="307.5" y2="1356.0"/>
<line x1="266.5" y1="1354.7" x2="266.5" y2="1358.6"/>
<line x1="266.5" y1="1354.7" x2="271.7" y2="1354.7"/>
<line x1="266.5" y1="1358.6" x2="307.5" y2="1358.6"/>
<line x1="249.5" y1="1356.7" x2="249.5" y2="1361.2"/>
<line x1="249.5" y1="1356.7" x2="266.5" y2="1356.7"/>
<line x1="249.5" y1="1361.2" x2="307.5" y2="1361.2"/>
<line x1="232.5" y1="1340.2" x2="232.5" y2="1358.9"/>
<line x1="232.5" y1="1340.2" x2="253.0" y2="1340.2"/>
<line x1="232.5" y1="1358.9" x2="249.5" y2="1358.9"/>
<line x1="232.5" y1="1349.6" x2="232.5" y2="1341.9"/>
<line x1="289.7" y1="1363.8" x2="289.7" y2="1366.4"/>
<line x1="289.7" y1="1363.8" x2="307.5" y2="1363.8"/>
<line x1="289.7" y1="1366.4" x2="307.5" y2="1366.4"/>
<line x1="283.1" y1="1365.1" x2="283.1" y2="1369.0"/>
<line x1="283.1" y1="1365.1" x2="289.7" y2="1365.1"/>
<line x1="283.1" y1="1369.0" x2="307.5" y2="1369.0"/>
<line x1="294.2" y1="1371.6" x2="294.2" y2="1374.2"/>
<line x1="294.2" y1="1371.6" x2="307.5" y2="1371.6"/>
<line x1="294.2" y1="1374.2" x2="307.5" y2="1374.2"/>
<line x1="291.2" y1="1372.9" x2="291.2" y2="1376.8"/>
<line x1="291.2" y1="1372.9" x2="294.2" y2="1372.9"/>
<line x1="291.2" y1="1376.8" x2="307.5" y2="1376.8"/>
<line x1="291.2" y1="1379.4" x2="291.2" y2="1382.0"/>
<line x1="291.2" y1="1379.4" x2="307.5" y2="1379.4"/>
<line x1="291.2" y1="1382.0" x2="307.5" y2="1382.0"/>
<line x1="288.2" y1="1374.8" x2="288.2" y2="1380.7"/>
<line x1="288.2" y1="1374.8" x2="291.2" y2="1374.8"/>
<line x1="288.2" y1="1380.7" x2="291.2" y2="1380.7"/>
<line x1="303.3" y1="1387.2" x2="303.3" y2="1389.8"/>
<line x1="303.3" y1="1387.2" x2="307.5" y2="1387.2"/>
<line x1="303.3" y1="1389.8" x2="307.5" y2="1389.8"/>
<line x1="300.3" y1="1388.5" x2="300.3" y2="1392.4"/>
<line x1="300.3" y1="1388.5" x2="303.3" y2="1388.5"/>
<line x1="300.3" y1="1392.4" x2="307.5" y2="1392.4"/>
<line x1="297.3" y1="1384.6" x2="297.3" y2="1390.5"/>
<line x1="297.3" y1="1384.6" x2="307.5" y2="1384.6"/>
<line x1="297.3" y1="1390.5" x2="300.3" y2="1390.5"/>
<line x1="294.3" y1="1387.5" x2="294.3" y2="1395.0"/>
<line x1="294.3" y1="1387.5" x2="297.3" y2="1387.5"/>
<line x1="294.3" y1="1395.0" x2="307.5" y2="1395.0"/>
<line x1="304.2" y1="1397.6" x2="304.2" y2="1400.2"/>
<line x1="304.2" y1="1397.6" x2="307.5" y2="1397.6"/>
<line x1="304.2" y1="1400.2" x2="307.5" y2="1400.2"/>
<line x1="304.2" y1="1402.8" x2="304.2" y2="1405.4"/>
<line x1="304.2" y1="1402.8" x2="307.5" y2="1402.8"/>
<line x1="304.2" y1="1405.4" x2="307.5" y2="1405.4"/>
<line x1="301.2" y1="1398.9" x2="301.2" y2="1404.1"/>
<line x1="301.2" y1="1398.9" x2="304.2" y2="1398.9"/>
<line x1="301.2" y1="1404.1" x2="304.2" y2="1404.1"/>
<line x1="304.2" y1="1410.6" x2="304.2" y2="1413.2"/>
<line x1="304.2" y1="1410.6" x2="307.5" y2="1410.6"/>
<line x1="304.2" y1="1413.2" x2="307.5" y2="1413.2"/>
<line x1="301.2" y1="1408.0" x2="301.2" y2="1411.9"/>
<line x1="301.2" y1="1408.0" x2="307.5" y2="1408.0"/>
<line x1="301.2" y1="1411.9" x2="304.2" y2="1411.9"/>
<line x1="298.2" y1="1401.5" x2="298.2" y2="1410.0"/>
<line x1="298.2" y1="1401.5" x2="301.2" y2="1401.5"/>
<line x1="298.2" y1="1410.0" x2="301.2" y2="1410.0"/>
<line x1="304.2" y1="1418.4" x2="304.2" y2="1421.0"/>
<line x1="304.2" y1="1418.4" x2="307.5" y2="1418.4"/>
<line x1="304.2" y1="1421.0" x2="307.5" y2="1421.0"/>
<line x1="301.2" y1="1415.8" x2="301.2" y2="1419.7"/>
<line x1="301.2" y1="1415.8" x2="307.5" y2="1415.8"/>
<line x1="301.2" y1="1419.7" x2="304.2" y2="1419.7"/>
<line x1="298.2" y1="1417.8" x2="298.2" y2="1423.6"/>
<line x1="298.2" y1="1417.8" x2="301.2" y2="1417.8"/>
<line x1="298.2" y1="1423.6" x2="307.5" y2="1423.6"/>
<line x1="295.2" y1="1405.7" x2="295.2" y2="1420.7"/>
<line x1="295.2" y1="1405.7" x2="298.2" y2="1405.7"/>
<line x1="295.2" y1="1420.7" x2="298.2" y2="1420.7"/>
<line x1="291.1" y1="1391.3" x2="291.1" y2="1413.2"/>
<line x1="291.1" y1="1391.3" x2="294.3" y2="1391.3"/>
<line x1="291.1" y1="1413.2" x2="295.2" y2="1413.2"/>
<line x1="284.5" y1="1377.8" x2="284.5" y2="1402.2"/>
<line x1="284.5" y1="1377.8" x2="288.2" y2="1377.8"/>
<line x1="284.5" y1="1402.2" x2="291.1" y2="1402.2"/>
<line x1="275.9" y1="1367.0" x2="275.9" y2="1390.0"/>
<line x1="275.9" y1="1367.0" x2="283.1" y2="1367.0"/>
<line x1="275.9" y1="1390.0" x2="284.5" y2="1390.0"/>
<line x1="288.3" y1="1426.2" x2="288.3" y2="1428.8"/>
<line x1="288.3" y1="1426.2" x2="307.5" y2="1426.2"/>
<line x1="288.3" y1="1428.8" x2="307.5" y2="1428.8"/>
<line x1="285.3" y1="1427.5" x2="285.3" y2="1431.4"/>
<line x1="285.3" y1="1427.5" x2="288.3" y2="1427.5"/>
<line x1="285.3" y1="1431.4" x2="307.5" y2="1431.4"/>
<line x1="282.2" y1="1434.0" x2="282.2" y2="1436.6"/>
<line x1="282.2" y1="1434.0" x2="307.5" y2="1434.0"/>
<line x1="282.2" y1="1436.6" x2="307.5" y2="1436.6"/>
<line x1="276.4" y1="1429.5" x2="276.4" y2="1435.3"/>
<line x1="276.4" y1="1429.5" x2="285.3" y2="1429.5"/>
<line x1="276.4" y1="1435.3" x2="282.2" y2="1435.3"/>
<line x1="281.3" y1="1441.8" x2="281.3" y2="1444.4"/>
<line x1="281.3" y1="1441.8" x2="307.5" y2="1441.8"/>
<line x1="281.3" y1="1444.4" x2="307.5" y2="1444.4"/>
<line x1="278.3" y1="1439.2" x2="278.3" y2="1443.1"/>
<line x1="278.3" y1="1439.2" x2="307.5" y2="1439.2"/>
<line x1="278.3" y1="1443.1" x2="281.3" y2="1443.1"/>
<line x1="280.7" y1="1447.0" x2="280.7" y2="1449.6"/>
<line x1="280.7" y1="1447.0" x2="307.5" y2="1447.0"/>
<line x1="280.7" y1="1449.6" x2="307.5" y2="1449.6"/>
<line x1="273.6" y1="1441.2" x2="273.6" y2="1448.3"/>
<line x1="273.6" y1="1441.2" x2="278.3" y2="1441.2"/>
<line x1="273.6" y1="1448.3" x2="280.7" y2="1448.3"/>
<line x1="270.2" y1="1432.4" x2="270.2" y2="1444.7"/>
<line x1="270.2" y1="1432.4" x2="276.4" y2="1432.4"/>
<line x1="270.2" y1="1444.7" x2="273.6" y2="1444.7"/>
<line x1="266.5" y1="1378.5" x2="266.5" y2="1438.6"/>
<line x1="266.5" y1="1378.5" x2="275.9" y2="1378.5"/>
<line x1="266.5" y1="1438.6" x2="270.2" y2="1438.6"/>
<line x1="266.5" y1="1408.5" x2="266.5" y2="1410.0"/>
<line x1="288.5" y1="1452.2" x2="288.5" y2="1454.8"/>
<line x1="288.5" y1="1452.2" x2="307.5" y2="1452.2"/>
<line x1="288.5" y1="1454.8" x2="307.5" y2="1454.8"/>
<line x1="284.7" y1="1453.5" x2="284.7" y2="1457.4"/>
<line x1="284.7" y1="1453.5" x2="288.5" y2="1453.5"/>
<line x1="284.7" y1="1457.4" x2="307.5" y2="1457.4"/>
<line x1="281.7" y1="1455.5" x2="281.7" y2="1460.0"/>
<line x1="281.7" y1="1455.5" x2="284.7" y2="1455.5"/>
<line x1="281.7" y1="1460.0" x2="307.5" y2="1460.0"/>
<line x1="298.5" y1="1462.6" x2="298.5" y2="1465.2"/>
<line x1="298.5" y1="1462.6" x2="307.5" y2="1462.6"/>
<line x1="298.5" y1="1465.2" x2="307.5" y2="1465.2"/>
<line x1="295.5" y1="1463.9" x2="295.5" y2="1467.8"/>
<line x1="295.5" y1="1463.9" x2="298.5" y2="1463.9"/>
<line x1="295.5" y1="1467.8" x2="307.5" y2="1467.8"/>
<line x1="295.5" y1="1470.4" x2="295.5" y2="1473.0"/>
<line x1="295.5" y1="1470.4" x2="307.5" y2="1470.4"/>
<line x1="295.5" y1="1473.0" x2="307.5" y2="1473.0"/>
<line x1="292.5" y1="1465.8" x2="292.5" y2="1471.7"/>
<line x1="292.5" y1="1465.8" x2="295.5" y2="1465.8"/>
<line x1="292.5" y1="1471.7" x2="295.5" y2="1471.7"/>
<line x1="296.4" y1="1475.6" x2="296.4" y2="1478.2"/>
<line x1="296.4" y1="1475.6" x2="307.5" y2="1475.6"/>
<line x1="296.4" y1="1478.2" x2="307.5" y2="1478.2"/>
<line x1="293.4" y1="1476.9" x2="293.4" y2="1480.8"/>
<line x1="293.4" y1="1476.9" x2="296.4" y2="1476.9"/>
<line x1="293.4" y1="1480.8" x2="307.5" y2="1480.8"/>
<line x1="289.4" y1="1468.8" x2="289.4" y2="1478.8"/>
<line x1="289.4" y1="1468.8" x2="292.5" y2="1468.8"/>
<line x1="289.4" y1="1478.8" x2="293.4" y2="1478.8"/>
<line x1="298.6" y1="1483.4" x2="298.6" y2="1486.0"/>
<line x1="298.6" y1="1483.4" x2="307.5" y2="1483.4"/>
<line x1="298.6" y1="1486.0" x2="307.5" y2="1486.0"/>
<line x1="295.6" y1="1484.7" x2="295.6" y2="1488.6"/>
<line x1="295.6" y1="1484.7" x2="298.6" y2="1484.7"/>
<line x1="295.6" y1="1488.6" x2="307.5" y2="1488.6"/>
<line x1="292.6" y1="1486.7" x2="292.6" y2="1491.2"/>
<line x1="292.6" y1="1486.7" x2="295.6" y2="1486.7"/>
<line x1="292.6" y1="1491.2" x2="307.5" y2="1491.2"/>
<line x1="286.4" y1="1473.8" x2="286.4" y2="1488.9"/>
<line x1="286.4" y1="1473.8" x2="289.4" y2="1473.8"/>
<line x1="286.4" y1="1488.9" x2="292.6" y2="1488.9"/>
<line x1="278.0" y1="1457.7" x2="278.0" y2="1481.4"/>
<line x1="278.0" y1="1457.7" x2="281.7" y2="1457.7"/>
<line x1="278.0" y1="1481.4" x2="286.4" y2="1481.4"/>
<line x1="288.2" y1="1496.4" x2="288.2" y2="1499.0"/>
<line x1="288.2" y1="1496.4" x2="307.5" y2="1496.4"/>
<line x1="288.2" y1="1499.0" x2="307.5" y2="1499.0"/>
<line x1="284.7" y1="1497.7" x2="284.7" y2="1501.6"/>
<line x1="284.7" y1="1497.7" x2="288.2" y2="1497.7"/>
<line x1="284.7" y1="1501.6" x2="307.5" y2="1501.6"/>
<line x1="281.7" y1="1499.7" x2="281.7" y2="1504.2"/>
<line x1="281.7" y1="1499.7" x2="284.7" y2="1499.7"/>
<line x1="281.7" y1="1504.2" x2="307.5" y2="1504.2"/>
<line x1="278.7" y1="1493.8" x2="278.7" y2="1501.9"/>
<line x1="278.7" y1="1493.8" x2="307.5" y2="1493.8"/>
<line x1="278.7" y1="1501.9" x2="281.7" y2="1501.9"/>
<line x1="300.5" y1="1506.8" x2="300.5" y2="1509.4"/>
<line x1="300.5" y1="1506.8" x2="307.5" y2="1506.8"/>
<line x1="300.5" y1="1509.4" x2="307.5" y2="1509.4"/>
<line x1="297.5" y1="1508.1" x2="297.5" y2="1512.0"/>
<line x1="297.5" y1="1508.1" x2="300.5" y2="1508.1"/>
<line x1="297.5" y1="1512.0" x2="307.5" y2="1512.0"/>
<line x1="297.5" y1="1514.6" x2="297.5" y2="1517.2"/>
<line x1="297.5" y1="1514.6" x2="307.5" y2="1514.6"/>
<line x1="297.5" y1="1517.2" x2="307.5" y2="1517.2"/>
<line x1="294.5" y1="1510.0" x2="294.5" y2="1515.9"/>
<line x1="294.5" y1="1510.0" x2="297.5" y2="1510.0"/>
<line x1="294.5" y1="1515.9" x2="297.5" y2="1515.9"/>
<line x1="301.1" y1="1522.4" x2="301.1" y2="1525.0"/>
<line x1="301.1" y1="1522.4" x2="307.5" y2="1522.4"/>
<line x1="301.1" y1="1525.0" x2="307.5" y2="1525.0"/>
<line x1="298.1" y1="1523.7" x2="298.1" y2="1527.6"/>
<line x1="298.1" y1="1523.7" x2="301.1" y2="1523.7"/>
<line x1="298.1" y1="1527.6" x2="307.5" y2="1527.6"/>
<line x1="295.1" y1="1519.8" x2="295.1" y2="1525.7"/>
<line x1="295.1" y1="1519.8" x2="307.5" y2="1519.8"/>
<line x1="295.1" y1="1525.7" x2="298.1" y2="1525.7"/>
<line x1="290.3" y1="1513.0" x2="290.3" y2="1522.7"/>
<line x1="290.3" y1="1513.0" x2="294.5" y2="1513.0"/>
<line x1="290.3" y1="1522.7" x2="295.1" y2="1522.7"/>
<line x1="295.4" y1="1532.8" x2="295.4" y2="1535.4"/>
<line x1="295.4" y1="1532.8" x2="307.5" y2="1532.8"/>
<line x1="295.4" y1="1535.4" x2="307.5" y2="1535.4"/>
<line x1="292.4" y1="1530.2" x2="292.4" y2="1534.1"/>
<line x1="292.4" y1="1530.2" x2="307.5" y2="1530.2"/>
<line x1="292.4" y1="1534.1" x2="295.4" y2="1534.1"/>
<line x1="299.4" y1="1538.0" x2="299.4" y2="1540.6"/>
<line x1="299.4" y1="1538.0" x2="307.5" y2="1538.0"/>
<line x1="299.4" y1="1540.6" x2="307.5" y2="1540.6"/>
<line x1="296.4" y1="1539.3" x2="296.4" y2="1543.2"/>
<line x1="296.4" y1="1539.3" x2="299.4" y2="1539.3"/>
<line x1="296.4" y1="1543.2" x2="307.5" y2="1543.2"/>
<line x1="292.2" y1="1541.2" x2="292.2" y2="1545.8"/>
<line x1="292.2" y1="1541.2" x2="296.4" y2="1541.2"/>
<line x1="292.2" y1="1545.8" x2="307.5" y2="1545.8"/>
<line x1="289.2" y1="1532.2" x2="289.2" y2="1543.5"/>
<line x1="289.2" y1="1532.2" x2="292.4" y2="1532.2"/>
<line x1="289.2" y1="1543.5" x2="292.2" y2="1543.5"/>
<line x1="286.2" y1="1517.8" x2="286.2" y2="1537.8"/>
<line x1="286.2" y1="1517.8" x2="290.3" y2="1517.8"/>
<line x1="286.2" y1="1537.8" x2="289.2" y2="1537.8"/>
<line x1="303.1" y1="1551.0" x2="303.1" y2="1553.6"/>
<line x1="303.1" y1="1551.0" x2="307.5" y2="1551.0"/>
<line x1="303.1" y1="1553.6" x2="307.5" y2="1553.6"/>
<line x1="300.1" y1="1552.3" x2="300.1" y2="1556.2"/>
<line x1="300.1" y1="1552.3" x2="303.1" y2="1552.3"/>
<line x1="300.1" y1="1556.2" x2="307.5" y2="1556.2"/>
<line x1="297.1" y1="1548.4" x2="297.1" y2="1554.2"/>
<line x1="297.1" y1="1548.4" x2="307.5" y2="1548.4"/>
<line x1="297.1" y1="1554.2" x2="300.1" y2="1554.2"/>
<line x1="303.1" y1="1561.4" x2="303.1" y2="1564.0"/>
<line x1="303.1" y1="1561.4" x2="307.5" y2="1561.4"/>
<line x1="303.1" y1="1564.0" x2="307.5" y2="1564.0"/>
<line x1="300.1" y1="1558.8" x2="300.1" y2="1562.7"/>
<line x1="300.1" y1="1558.8" x2="307.5" y2="1558.8"/>
<line x1="300.1" y1="1562.7" x2="303.1" y2="1562.7"/>
<line x1="300.1" y1="1566.6" x2="300.1" y2="1569.2"/>
<line x1="300.1" y1="1566.6" x2="307.5" y2="1566.6"/>
<line x1="300.1" y1="1569.2" x2="307.5" y2="1569.2"/>
<line x1="297.1" y1="1560.8" x2="297.1" y2="1567.9"/>
<line x1="297.1" y1="1560.8" x2="300.1" y2="1560.8"/>
<line x1="297.1" y1="1567.9" x2="300.1" y2="1567.9"/>
<line x1="294.1" y1="1551.3" x2="294.1" y2="1564.3"/>
<line x1="294.1" y1="1551.3" x2="297.1" y2="1551.3"/>
<line x1="294.1" y1="1564.3" x2="297.1" y2="1564.3"/>
<line x1="293.6" y1="1571.8" x2="293.6" y2="1574.4"/>
<line x1="293.6" y1="1571.8" x2="307.5" y2="1571.8"/>
<line x1="293.6" y1="1574.4" x2="307.5" y2="1574.4"/>
<line x1="290.6" y1="1557.8" x2="290.6" y2="1573.1"/>
<line x1="290.6" y1="1557.8" x2="294.1" y2="1557.8"/>
<line x1="290.6" y1="1573.1" x2="293.6" y2="1573.1"/>
<line x1="297.0" y1="1577.0" x2="297.0" y2="1579.6"/>
<line x1="297.0" y1="1577.0" x2="307.5" y2="1577.0"/>
<line x1="297.0" y1="1579.6" x2="307.5" y2="1579.6"/>
<line x1="292.9" y1="1578.3" x2="292.9" y2="1582.2"/>
<line x1="292.9" y1="1578.3" x2="297.0" y2="1578.3"/>
<line x1="292.9" y1="1582.2" x2="307.5" y2="1582.2"/>
<line x1="289.9" y1="1580.2" x2="289.9" y2="1584.8"/>
<line x1="289.9" y1="1580.2" x2="292.9" y2="1580.2"/>
<line x1="289.9" y1="1584.8" x2="307.5" y2="1584.8"/>
<line x1="285.7" y1="1565.5" x2="285.7" y2="1582.5"/>
<line x1="285.7" y1="1565.5" x2="290.6" y2="1565.5"/>
<line x1="285.7" y1="1582.5" x2="289.9" y2="1582.5"/>
<line x1="278.8" y1="1527.8" x2="278.8" y2="1574.0"/>
<line x1="278.8" y1="1527.8" x2="286.2" y2="1527.8"/>
<line x1="278.8" y1="1574.0" x2="285.7" y2="1574.0"/>
<line x1="275.2" y1="1497.9" x2="275.2" y2="1550.9"/>
<line x1="275.2" y1="1497.9" x2="278.7" y2="1497.9"/>
<line x1="275.2" y1="1550.9" x2="278.8" y2="1550.9"/>
<line x1="269.0" y1="1469.5" x2="269.0" y2="1524.4"/>
<line x1="269.0" y1="1469.5" x2="278.0" y2="1469.5"/>
<line x1="269.0" y1="1524.4" x2="275.2" y2="1524.4"/>
<line x1="269.0" y1="1497.0" x2="269.0" y2="1573.8"/>
<line x1="293.7" y1="1590.0" x2="293.7" y2="1592.6"/>
<line x1="293.7" y1="1590.0" x2="307.5" y2="1590.0"/>
<line x1="293.7" y1="1592.6" x2="307.5" y2="1592.6"/>
<line x1="289.1" y1="1587.4" x2="289.1" y2="1591.3"/>
<line x1="289.1" y1="1587.4" x2="307.5" y2="1587.4"/>
<line x1="289.1" y1="1591.3" x2="293.7" y2="1591.3"/>
<line x1="286.1" y1="1589.4" x2="286.1" y2="1595.2"/>
<line x1="286.1" y1="1589.4" x2="289.1" y2="1589.4"/>
<line x1="286.1" y1="1595.2" x2="307.5" y2="1595.2"/>
<line x1="283.1" y1="1592.3" x2="283.1" y2="1597.8"/>
<line x1="283.1" y1="1592.3" x2="286.1" y2="1592.3"/>
<line x1="283.1" y1="1597.8" x2="307.5" y2="1597.8"/>
<line x1="280.1" y1="1595.0" x2="280.1" y2="1600.4"/>
<line x1="280.1" y1="1595.0" x2="283.1" y2="1595.0"/>
<line x1="280.1" y1="1600.4" x2="307.5" y2="1600.4"/>
<line x1="285.4" y1="1603.0" x2="285.4" y2="1605.6"/>
<line x1="285.4" y1="1603.0" x2="307.5" y2="1603.0"/>
<line x1="285.4" y1="1605.6" x2="307.5" y2="1605.6"/>
<line x1="282.0" y1="1604.3" x2="282.0" y2="1608.2"/>
<line x1="282.0" y1="1604.3" x2="285.4" y2="1604.3"/>
<line x1="282.0" y1="1608.2" x2="307.5" y2="1608.2"/>
<line x1="275.4" y1="1597.7" x2="275.4" y2="1606.2"/>
<line x1="275.4" y1="1597.7" x2="280.1" y2="1597.7"/>
<line x1="275.4" y1="1606.2" x2="282.0" y2="1606.2"/>
<line x1="282.1" y1="1610.8" x2="282.1" y2="1613.4"/>
<line x1="282.1" y1="1610.8" x2="307.5" y2="1610.8"/>
<line x1="282.1" y1="1613.4" x2="307.5" y2="1613.4"/>
<line x1="272.0" y1="1602.0" x2="272.0" y2="1612.1"/>
<line x1="272.0" y1="1602.0" x2="275.4" y2="1602.0"/>
<line x1="272.0" y1="1612.1" x2="282.1" y2="1612.1"/>
<line x1="270.8" y1="1616.0" x2="270.8" y2="1618.6"/>
<line x1="270.8" y1="1616.0" x2="307.5" y2="1616.0"/>
<line x1="270.8" y1="1618.6" x2="307.5" y2="1618.6"/>
<line x1="267.7" y1="1617.3" x2="267.7" y2="1621.2"/>
<line x1="267.7" y1="1617.3" x2="270.8" y2="1617.3"/>
<line x1="267.7" y1="1621.2" x2="307.5" y2="1621.2"/>
<line x1="262.0" y1="1607.0" x2="262.0" y2="1619.2"/>
<line x1="262.0" y1="1607.0" x2="272.0" y2="1607.0"/>
<line x1="262.0" y1="1619.2" x2="267.7" y2="1619.2"/>
<line x1="262.0" y1="1613.1" x2="262.0" y2="1612.0"/>
<line x1="281.8" y1="1623.8" x2="281.8" y2="1626.4"/>
<line x1="281.8" y1="1623.8" x2="307.5" y2="1623.8"/>
<line x1="281.8" y1="1626.4" x2="307.5" y2="1626.4"/>
<line x1="272.0" y1="1625.1" x2="272.0" y2="1629.0"/>
<line x1="272.0" y1="1625.1" x2="281.8" y2="1625.1"/>
<line x1="272.0" y1="1629.0" x2="307.5" y2="1629.0"/>
<line x1="290.8" y1="1634.2" x2="290.8" y2="1636.8"/>
<line x1="290.8" y1="1634.2" x2="307.5" y2="1634.2"/>
<line x1="290.8" y1="1636.8" x2="307.5" y2="1636.8"/>
<line x1="284.4" y1="1631.6" x2="284.4" y2="1635.5"/>
<line x1="284.4" y1="1631.6" x2="307.5" y2="1631.6"/>
<line x1="284.4" y1="1635.5" x2="290.8" y2="1635.5"/>
<line x1="291.4" y1="1642.0" x2="291.4" y2="1644.6"/>
<line x1="291.4" y1="1642.0" x2="307.5" y2="1642.0"/>
<line x1="291.4" y1="1644.6" x2="307.5" y2="1644.6"/>
<line x1="286.8" y1="1639.4" x2="286.8" y2="1643.3"/>
<line x1="286.8" y1="1639.4" x2="307.5" y2="1639.4"/>
<line x1="286.8" y1="1643.3" x2="291.4" y2="1643.3"/>
<line x1="282.8" y1="1641.4" x2="282.8" y2="1647.2"/>
<line x1="282.8" y1="1641.4" x2="286.8" y2="1641.4"/>
<line x1="282.8" y1="1647.2" x2="307.5" y2="1647.2"/>
<line x1="279.5" y1="1633.6" x2="279.5" y2="1644.3"/>
<line x1="279.5" y1="1633.6" x2="284.4" y2="1633.6"/>
<line x1="279.5" y1="1644.3" x2="282.8" y2="1644.3"/>
<line x1="272.2" y1="1638.9" x2="272.2" y2="1649.8"/>
<line x1="272.2" y1="1638.9" x2="279.5" y2="1638.9"/>
<line x1="272.2" y1="1649.8" x2="307.5" y2="1649.8"/>
<line x1="262.0" y1="1627.0" x2="262.0" y2="1644.4"/>
<line x1="262.0" y1="1627.0" x2="272.0" y2="1627.0"/>
<line x1="262.0" y1="1644.4" x2="272.2" y2="1644.4"/>
<line x1="262.0" y1="1635.7" x2="262.0" y2="1640.0"/>
<line x1="283.5" y1="1652.4" x2="283.5" y2="1655.0"/>
<line x1="283.5" y1="1652.4" x2="307.5" y2="1652.4"/>
<line x1="283.5" y1="1655.0" x2="307.5" y2="1655.0"/>
<line x1="276.6" y1="1653.7" x2="276.6" y2="1657.6"/>
<line x1="276.6" y1="1653.7" x2="283.5" y2="1653.7"/>
<line x1="276.6" y1="1657.6" x2="307.5" y2="1657.6"/>
<line x1="290.1" y1="1660.2" x2="290.1" y2="1662.8"/>
<line x1="290.1" y1="1660.2" x2="307.5" y2="1660.2"/>
<line x1="290.1" y1="1662.8" x2="307.5" y2="1662.8"/>
<line x1="283.6" y1="1661.5" x2="283.6" y2="1665.4"/>
<line x1="283.6" y1="1661.5" x2="290.1" y2="1661.5"/>
<line x1="283.6" y1="1665.4" x2="307.5" y2="1665.4"/>
<line x1="273.6" y1="1655.7" x2="273.6" y2="1663.5"/>
<line x1="273.6" y1="1655.7" x2="276.6" y2="1655.7"/>
<line x1="273.6" y1="1663.5" x2="283.6" y2="1663.5"/>
<line x1="268.2" y1="1659.6" x2="268.2" y2="1668.0"/>
<line x1="268.2" y1="1659.6" x2="273.6" y2="1659.6"/>
<line x1="268.2" y1="1668.0" x2="307.5" y2="1668.0"/>
<line x1="259.2" y1="1670.6" x2="259.2" y2="1673.2"/>
<line x1="259.2" y1="1670.6" x2="307.5" y2="1670.6"/>
<line x1="259.2" y1="1673.2" x2="307.5" y2="1673.2"/>
<line x1="253.2" y1="1663.8" x2="253.2" y2="1671.9"/>
<line x1="253.2" y1="1663.8" x2="268.2" y2="1663.8"/>
<line x1="253.2" y1="1671.9" x2="259.2" y2="1671.9"/>
<line x1="279.1" y1="1678.4" x2="279.1" y2="1681.0"/>
<line x1="279.1" y1="1678.4" x2="307.5" y2="1678.4"/>
<line x1="279.1" y1="1681.0" x2="307.5" y2="1681.0"/>
<line x1="268.2" y1="1675.8" x2="268.2" y2="1679.7"/>
<line x1="268.2" y1="1675.8" x2="307.5" y2="1675.8"/>
<line x1="268.2" y1="1679.7" x2="279.1" y2="1679.7"/>
<line x1="271.8" y1="1683.6" x2="271.8" y2="1686.2"/>
<line x1="271.8" y1="1683.6" x2="307.5" y2="1683.6"/>
<line x1="271.8" y1="1686.2" x2="307.5" y2="1686.2"/>
<line x1="260.3" y1="1684.9" x2="260.3" y2="1688.8"/>
<line x1="260.3" y1="1684.9" x2="271.8" y2="1684.9"/>
<line x1="260.3" y1="1688.8" x2="307.5" y2="1688.8"/>
<line x1="255.1" y1="1677.8" x2="255.1" y2="1686.8"/>
<line x1="255.1" y1="1677.8" x2="268.2" y2="1677.8"/>
<line x1="255.1" y1="1686.8" x2="260.3" y2="1686.8"/>
<line x1="247.0" y1="1667.8" x2="247.0" y2="1682.3"/>
<line x1="247.0" y1="1667.8" x2="253.2" y2="1667.8"/>
<line x1="247.0" y1="1682.3" x2="255.1" y2="1682.3"/>
<line x1="247.0" y1="1675.1" x2="247.0" y2="1661.0"/>
<line x1="291.7" y1="1694.0" x2="291.7" y2="1696.6"/>
<line x1="291.7" y1="1694.0" x2="307.5" y2="1694.0"/>
<line x1="291.7" y1="1696.6" x2="307.5" y2="1696.6"/>
<line x1="288.7" y1="1695.3" x2="288.7" y2="1699.2"/>
<line x1="288.7" y1="1695.3" x2="291.7" y2="1695.3"/>
<line x1="288.7" y1="1699.2" x2="307.5" y2="1699.2"/>
<line x1="297.7" y1="1704.4" x2="297.7" y2="1707.0"/>
<line x1="297.7" y1="1704.4" x2="307.5" y2="1704.4"/>
<line x1="297.7" y1="1707.0" x2="307.5" y2="1707.0"/>
<line x1="294.7" y1="1701.8" x2="294.7" y2="1705.7"/>
<line x1="294.7" y1="1701.8" x2="307.5" y2="1701.8"/>
<line x1="294.7" y1="1705.7" x2="297.7" y2="1705.7"/>
<line x1="291.7" y1="1703.8" x2="291.7" y2="1709.6"/>
<line x1="291.7" y1="1703.8" x2="294.7" y2="1703.8"/>
<line x1="291.7" y1="1709.6" x2="307.5" y2="1709.6"/>
<line x1="285.7" y1="1697.2" x2="285.7" y2="1706.7"/>
<line x1="285.7" y1="1697.2" x2="288.7" y2="1697.2"/>
<line x1="285.7" y1="1706.7" x2="291.7" y2="1706.7"/>
<line x1="284.2" y1="1712.2" x2="284.2" y2="1714.8"/>
<line x1="284.2" y1="1712.2" x2="307.5" y2="1712.2"/>
<line x1="284.2" y1="1714.8" x2="307.5" y2="1714.8"/>
<line x1="280.7" y1="1702.0" x2="280.7" y2="1713.5"/>
<line x1="280.7" y1="1702.0" x2="285.7" y2="1702.0"/>
<line x1="280.7" y1="1713.5" x2="284.2" y2="1713.5"/>
<line x1="293.0" y1="1720.0" x2="293.0" y2="1722.6"/>
<line x1="293.0" y1="1720.0" x2="307.5" y2="1720.0"/>
<line x1="293.0" y1="1722.6" x2="307.5" y2="1722.6"/>
<line x1="289.1" y1="1717.4" x2="289.1" y2="1721.3"/>
<line x1="289.1" y1="1717.4" x2="307.5" y2="1717.4"/>
<line x1="289.1" y1="1721.3" x2="293.0" y2="1721.3"/>
<line x1="290.9" y1="1725.2" x2="290.9" y2="1727.8"/>
<line x1="290.9" y1="1725.2" x2="307.5" y2="1725.2"/>
<line x1="290.9" y1="1727.8" x2="307.5" y2="1727.8"/>
<line x1="286.1" y1="1719.4" x2="286.1" y2="1726.5"/>
<line x1="286.1" y1="1719.4" x2="289.1" y2="1719.4"/>
<line x1="286.1" y1="1726.5" x2="290.9" y2="1726.5"/>
<line x1="283.1" y1="1722.9" x2="283.1" y2="1730.4"/>
<line x1="283.1" y1="1722.9" x2="286.1" y2="1722.9"/>
<line x1="283.1" y1="1730.4" x2="307.5" y2="1730.4"/>
<line x1="277.2" y1="1707.7" x2="277.2" y2="1726.7"/>
<line x1="277.2" y1="1707.7" x2="280.7" y2="1707.7"/>
<line x1="277.2" y1="1726.7" x2="283.1" y2="1726.7"/>
<line x1="286.0" y1="1735.6" x2="286.0" y2="1738.2"/>
<line x1="286.0" y1="1735.6" x2="307.5" y2="1735.6"/>
<line x1="286.0" y1="1738.2" x2="307.5" y2="1738.2"/>
<line x1="277.2" y1="1733.0" x2="277.2" y2="1736.9"/>
<line x1="277.2" y1="1733.0" x2="307.5" y2="1733.0"/>
<line x1="277.2" y1="1736.9" x2="286.0" y2="1736.9"/>
<line x1="267.9" y1="1717.2" x2="267.9" y2="1735.0"/>
<line x1="267.9" y1="1717.2" x2="277.2" y2="1717.2"/>
<line x1="267.9" y1="1735.0" x2="277.2" y2="1735.0"/>
<line x1="262.9" y1="1740.8" x2="262.9" y2="1743.4"/>
<line x1="262.9" y1="1740.8" x2="307.5" y2="1740.8"/>
<line x1="262.9" y1="1743.4" x2="307.5" y2="1743.4"/>
<line x1="258.3" y1="1726.1" x2="258.3" y2="1742.1"/>
<line x1="258.3" y1="1726.1" x2="267.9" y2="1726.1"/>
<line x1="258.3" y1="1742.1" x2="262.9" y2="1742.1"/>
<line x1="288.9" y1="1746.0" x2="288.9" y2="1748.6"/>
<line x1="288.9" y1="1746.0" x2="307.5" y2="1746.0"/>
<line x1="288.9" y1="1748.6" x2="307.5" y2="1748.6"/>
<line x1="282.3" y1="1747.3" x2="282.3" y2="1751.2"/>
<line x1="282.3" y1="1747.3" x2="288.9" y2="1747.3"/>
<line x1="282.3" y1="1751.2" x2="307.5" y2="1751.2"/>
<line x1="278.8" y1="1753.8" x2="278.8" y2="1756.4"/>
<line x1="278.8" y1="1753.8" x2="307.5" y2="1753.8"/>
<line x1="278.8" y1="1756.4" x2="307.5" y2="1756.4"/>
<line x1="272.7" y1="1749.2" x2="272.7" y2="1755.1"/>
<line x1="272.7" y1="1749.2" x2="282.3" y2="1749.2"/>
<line x1="272.7" y1="1755.1" x2="278.8" y2="1755.1"/>
<line x1="263.2" y1="1752.2" x2="263.2" y2="1759.0"/>
<line x1="263.2" y1="1752.2" x2="272.7" y2="1752.2"/>
<line x1="263.2" y1="1759.0" x2="307.5" y2="1759.0"/>
<line x1="278.9" y1="1761.6" x2="278.9" y2="1764.2"/>
<line x1="278.9" y1="1761.6" x2="307.5" y2="1761.6"/>
<line x1="278.9" y1="1764.2" x2="307.5" y2="1764.2"/>
<line x1="273.9" y1="1762.9" x2="273.9" y2="1766.8"/>
<line x1="273.9" y1="1762.9" x2="278.9" y2="1762.9"/>
<line x1="273.9" y1="1766.8" x2="307.5" y2="1766.8"/>
<line x1="295.5" y1="1769.4" x2="295.5" y2="1772.0"/>
<line x1="295.5" y1="1769.4" x2="307.5" y2="1769.4"/>
<line x1="295.5" y1="1772.0" x2="307.5" y2="1772.0"/>
<line x1="291.9" y1="1770.7" x2="291.9" y2="1774.6"/>
<line x1="291.9" y1="1770.7" x2="295.5" y2="1770.7"/>
<line x1="291.9" y1="1774.6" x2="307.5" y2="1774.6"/>
<line x1="292.4" y1="1777.2" x2="292.4" y2="1779.8"/>
<line x1="292.4" y1="1777.2" x2="307.5" y2="1777.2"/>
<line x1="292.4" y1="1779.8" x2="307.5" y2="1779.8"/>
<line x1="286.5" y1="1772.7" x2="286.5" y2="1778.5"/>
<line x1="286.5" y1="1772.7" x2="291.9" y2="1772.7"/>
<line x1="286.5" y1="1778.5" x2="292.4" y2="1778.5"/>
<line x1="279.8" y1="1775.6" x2="279.8" y2="1782.4"/>
<line x1="279.8" y1="1775.6" x2="286.5" y2="1775.6"/>
<line x1="279.8" y1="1782.4" x2="307.5" y2="1782.4"/>
<line x1="270.9" y1="1764.8" x2="270.9" y2="1779.0"/>
<line x1="270.9" y1="1764.8" x2="273.9" y2="1764.8"/>
<line x1="270.9" y1="1779.0" x2="279.8" y2="1779.0"/>
<line x1="282.1" y1="1787.6" x2="282.1" y2="1790.2"/>
<line x1="282.1" y1="1787.6" x2="307.5" y2="1787.6"/>
<line x1="282.1" y1="1790.2" x2="307.5" y2="1790.2"/>
<line x1="279.1" y1="1785.0" x2="279.1" y2="1788.9"/>
<line x1="279.1" y1="1785.0" x2="307.5" y2="1785.0"/>
<line x1="279.1" y1="1788.9" x2="282.1" y2="1788.9"/>
<line x1="286.6" y1="1792.8" x2="286.6" y2="1795.4"/>
<line x1="286.6" y1="1792.8" x2="307.5" y2="1792.8"/>
<line x1="286.6" y1="1795.4" x2="307.5" y2="1795.4"/>
<line x1="290.5" y1="1798.0" x2="290.5" y2="1800.6"/>
<line x1="290.5" y1="1798.0" x2="307.5" y2="1798.0"/>
<line x1="290.5" y1="1800.6" x2="307.5" y2="1800.6"/>
<line x1="283.6" y1="1794.1" x2="283.6" y2="1799.3"/>
<line x1="283.6" y1="1794.1" x2="286.6" y2="1794.1"/>
<line x1="283.6" y1="1799.3" x2="290.5" y2="1799.3"/>
<line x1="296.0" y1="1805.8" x2="296.0" y2="1808.4"/>
<line x1="296.0" y1="1805.8" x2="307.5" y2="1805.8"/>
<line x1="296.0" y1="1808.4" x2="307.5" y2="1808.4"/>
<line x1="295.7" y1="1811.0" x2="295.7" y2="1813.6"/>
<line x1="295.7" y1="1811.0" x2="307.5" y2="1811.0"/>
<line x1="295.7" y1="1813.6" x2="307.5" y2="1813.6"/>
<line x1="292.7" y1="1807.1" x2="292.7" y2="1812.3"/>
<line x1="292.7" y1="1807.1" x2="296.0" y2="1807.1"/>
<line x1="292.7" y1="1812.3" x2="295.7" y2="1812.3"/>
<line x1="286.7" y1="1809.7" x2="286.7" y2="1816.2"/>
<line x1="286.7" y1="1809.7" x2="292.7" y2="1809.7"/>
<line x1="286.7" y1="1816.2" x2="307.5" y2="1816.2"/>
<line x1="283.7" y1="1803.2" x2="283.7" y2="1813.0"/>
<line x1="283.7" y1="1803.2" x2="307.5" y2="1803.2"/>
<line x1="283.7" y1="1813.0" x2="286.7" y2="1813.0"/>
<line x1="278.7" y1="1796.7" x2="278.7" y2="1808.1"/>
<line x1="278.7" y1="1796.7" x2="283.6" y2="1796.7"/>
<line x1="278.7" y1="1808.1" x2="283.7" y2="1808.1"/>
<line x1="274.1" y1="1787.0" x2="274.1" y2="1802.4"/>
<line x1="274.1" y1="1787.0" x2="279.1" y2="1787.0"/>
<line x1="274.1" y1="1802.4" x2="278.7" y2="1802.4"/>
<line x1="260.5" y1="1771.9" x2="260.5" y2="1794.7"/>
<line x1="260.5" y1="1771.9" x2="270.9" y2="1771.9"/>
<line x1="260.5" y1="1794.7" x2="274.1" y2="1794.7"/>
<line x1="256.2" y1="1755.6" x2="256.2" y2="1783.3"/>
<line x1="256.2" y1="1755.6" x2="263.2" y2="1755.6"/>
<line x1="256.2" y1="1783.3" x2="260.5" y2="1783.3"/>
<line x1="244.6" y1="1734.1" x2="244.6" y2="1769.4"/>
<line x1="244.6" y1="1734.1" x2="258.3" y2="1734.1"/>
<line x1="244.6" y1="1769.4" x2="256.2" y2="1769.4"/>
<line x1="244.6" y1="1751.8" x2="244.6" y2="1733.0"/>
<line x1="289.4" y1="1818.8" x2="289.4" y2="1821.4"/>
<line x1="289.4" y1="1818.8" x2="307.5" y2="1818.8"/>
<line x1="289.4" y1="1821.4" x2="307.5" y2="1821.4"/>
<line x1="286.4" y1="1820.1" x2="286.4" y2="1824.0"/>
<line x1="286.4" y1="1820.1" x2="289.4" y2="1820.1"/>
<line x1="286.4" y1="1824.0" x2="307.5" y2="1824.0"/>
<line x1="300.0" y1="1826.6" x2="300.0" y2="1829.2"/>
<line x1="300.0" y1="1826.6" x2="307.5" y2="1826.6"/>
<line x1="300.0" y1="1829.2" x2="307.5" y2="1829.2"/>
<line x1="297.0" y1="1827.9" x2="297.0" y2="1831.8"/>
<line x1="297.0" y1="1827.9" x2="300.0" y2="1827.9"/>
<line x1="297.0" y1="1831.8" x2="307.5" y2="1831.8"/>
<line x1="297.0" y1="1834.4" x2="297.0" y2="1837.0"/>
<line x1="297.0" y1="1834.4" x2="307.5" y2="1834.4"/>
<line x1="297.0" y1="1837.0" x2="307.5" y2="1837.0"/>
<line x1="293.0" y1="1829.8" x2="293.0" y2="1835.7"/>
<line x1="293.0" y1="1829.8" x2="297.0" y2="1829.8"/>
<line x1="293.0" y1="1835.7" x2="297.0" y2="1835.7"/>
<line x1="295.5" y1="1839.6" x2="295.5" y2="1842.2"/>
<line x1="295.5" y1="1839.6" x2="307.5" y2="1839.6"/>
<line x1="295.5" y1="1842.2" x2="307.5" y2="1842.2"/>
<line x1="298.9" y1="1844.8" x2="298.9" y2="1847.4"/>
<line x1="298.9" y1="1844.8" x2="307.5" y2="1844.8"/>
<line x1="298.9" y1="1847.4" x2="307.5" y2="1847.4"/>
<line x1="295.5" y1="1846.1" x2="295.5" y2="1850.0"/>
<line x1="295.5" y1="1846.1" x2="298.9" y2="1846.1"/>
<line x1="295.5" y1="1850.0" x2="307.5" y2="1850.0"/>
<line x1="292.5" y1="1840.9" x2="292.5" y2="1848.0"/>
<line x1="292.5" y1="1840.9" x2="295.5" y2="1840.9"/>
<line x1="292.5" y1="1848.0" x2="295.5" y2="1848.0"/>
<line x1="288.4" y1="1832.8" x2="288.4" y2="1844.5"/>
<line x1="288.4" y1="1832.8" x2="293.0" y2="1832.8"/>
<line x1="288.4" y1="1844.5" x2="292.5" y2="1844.5"/>
<line x1="281.8" y1="1822.0" x2="281.8" y2="1838.6"/>
<line x1="281.8" y1="1822.0" x2="286.4" y2="1822.0"/>
<line x1="281.8" y1="1838.6" x2="288.4" y2="1838.6"/>
<line x1="294.0" y1="1855.2" x2="294.0" y2="1857.8"/>
<line x1="294.0" y1="1855.2" x2="307.5" y2="1855.2"/>
<line x1="294.0" y1="1857.8" x2="307.5" y2="1857.8"/>
<line x1="291.0" y1="1852.6" x2="291.0" y2="1856.5"/>
<line x1="291.0" y1="1852.6" x2="307.5" y2="1852.6"/>
<line x1="291.0" y1="1856.5" x2="294.0" y2="1856.5"/>
<line x1="292.6" y1="1860.4" x2="292.6" y2="1863.0"/>
<line x1="292.6" y1="1860.4" x2="307.5" y2="1860.4"/>
<line x1="292.6" y1="1863.0" x2="307.5" y2="1863.0"/>
<line x1="286.4" y1="1854.6" x2="286.4" y2="1861.7"/>
<line x1="286.4" y1="1854.6" x2="291.0" y2="1854.6"/>
<line x1="286.4" y1="1861.7" x2="292.6" y2="1861.7"/>
<line x1="283.3" y1="1865.6" x2="283.3" y2="1868.2"/>
<line x1="283.3" y1="1865.6" x2="307.5" y2="1865.6"/>
<line x1="283.3" y1="1868.2" x2="307.5" y2="1868.2"/>
<line x1="277.5" y1="1858.1" x2="277.5" y2="1866.9"/>
<line x1="277.5" y1="1858.1" x2="286.4" y2="1858.1"/>
<line x1="277.5" y1="1866.9" x2="283.3" y2="1866.9"/>
<line x1="285.1" y1="1870.8" x2="285.1" y2="1873.4"/>
<line x1="285.1" y1="1870.8" x2="307.5" y2="1870.8"/>
<line x1="285.1" y1="1873.4" x2="307.5" y2="1873.4"/>
<line x1="284.1" y1="1876.0" x2="284.1" y2="1878.6"/>
<line x1="284.1" y1="1876.0" x2="307.5" y2="1876.0"/>
<line x1="284.1" y1="1878.6" x2="307.5" y2="1878.6"/>
<line x1="279.9" y1="1872.1" x2="279.9" y2="1877.3"/>
<line x1="279.9" y1="1872.1" x2="285.1" y2="1872.1"/>
<line x1="279.9" y1="1877.3" x2="284.1" y2="1877.3"/>
<line x1="274.5" y1="1862.5" x2="274.5" y2="1874.7"/>
<line x1="274.5" y1="1862.5" x2="277.5" y2="1862.5"/>
<line x1="274.5" y1="1874.7" x2="279.9" y2="1874.7"/>
<line x1="271.5" y1="1830.3" x2="271.5" y2="1868.6"/>
<line x1="271.5" y1="1830.3" x2="281.8" y2="1830.3"/>
<line x1="271.5" y1="1868.6" x2="274.5" y2="1868.6"/>
<line x1="271.5" y1="1849.5" x2="271.5" y2="1871.8"/>
<line x1="274.8" y1="1881.2" x2="274.8" y2="1883.8"/>
<line x1="274.8" y1="1881.2" x2="307.5" y2="1881.2"/>
<line x1="274.8" y1="1883.8" x2="307.5" y2="1883.8"/>
<line x1="269.2" y1="1882.5" x2="269.2" y2="1886.4"/>
<line x1="269.2" y1="1882.5" x2="274.8" y2="1882.5"/>
<line x1="269.2" y1="1886.4" x2="307.5" y2="1886.4"/>
<line x1="284.9" y1="1889.0" x2="284.9" y2="1891.6"/>
<line x1="284.9" y1="1889.0" x2="307.5" y2="1889.0"/>
<line x1="284.9" y1="1891.6" x2="307.5" y2="1891.6"/>
<line x1="276.7" y1="1890.3" x2="276.7" y2="1894.2"/>
<line x1="276.7" y1="1890.3" x2="284.9" y2="1890.3"/>
<line x1="276.7" y1="1894.2" x2="307.5" y2="1894.2"/>
<line x1="276.0" y1="1896.8" x2="276.0" y2="1899.4"/>
<line x1="276.0" y1="1896.8" x2="307.5" y2="1896.8"/>
<line x1="276.0" y1="1899.4" x2="307.5" y2="1899.4"/>
<line x1="272.2" y1="1898.1" x2="272.2" y2="1902.0"/>
<line x1="272.2" y1="1898.1" x2="276.0" y2="1898.1"/>
<line x1="272.2" y1="1902.0" x2="307.5" y2="1902.0"/>
<line x1="269.2" y1="1892.2" x2="269.2" y2="1900.0"/>
<line x1="269.2" y1="1892.2" x2="276.7" y2="1892.2"/>
<line x1="269.2" y1="1900.0" x2="272.2" y2="1900.0"/>
<line x1="266.2" y1="1884.5" x2="266.2" y2="1896.2"/>
<line x1="266.2" y1="1884.5" x2="269.2" y2="1884.5"/>
<line x1="266.2" y1="1896.2" x2="269.2" y2="1896.2"/>
<line x1="279.4" y1="1904.6" x2="279.4" y2="1907.2"/>
<line x1="279.4" y1="1904.6" x2="307.5" y2="1904.6"/>
<line x1="279.4" y1="1907.2" x2="307.5" y2="1907.2"/>
<line x1="287.3" y1="1909.8" x2="287.3" y2="1912.4"/>
<line x1="287.3" y1="1909.8" x2="307.5" y2="1909.8"/>
<line x1="287.3" y1="1912.4" x2="307.5" y2="1912.4"/>
<line x1="282.9" y1="1911.1" x2="282.9" y2="1915.0"/>
<line x1="282.9" y1="1911.1" x2="287.3" y2="1911.1"/>
<line x1="282.9" y1="1915.0" x2="307.5" y2="1915.0"/>
<line x1="279.5" y1="1917.6" x2="279.5" y2="1920.2"/>
<line x1="279.5" y1="1917.6" x2="307.5" y2="1917.6"/>
<line x1="279.5" y1="1920.2" x2="307.5" y2="1920.2"/>
<line x1="276.5" y1="1913.0" x2="276.5" y2="1918.9"/>
<line x1="276.5" y1="1913.0" x2="282.9" y2="1913.0"/>
<line x1="276.5" y1="1918.9" x2="279.5" y2="1918.9"/>
<line x1="273.5" y1="1905.9" x2="273.5" y2="1916.0"/>
<line x1="273.5" y1="1905.9" x2="279.4" y2="1905.9"/>
<line x1="273.5" y1="1916.0" x2="276.5" y2="1916.0"/>
<line x1="262.1" y1="1890.3" x2="262.1" y2="1910.9"/>
<line x1="262.1" y1="1890.3" x2="266.2" y2="1890.3"/>
<line x1="262.1" y1="1910.9" x2="273.5" y2="1910.9"/>
<line x1="290.8" y1="1922.8" x2="290.8" y2="1925.4"/>
<line x1="290.8" y1="1922.8" x2="307.5" y2="1922.8"/>
<line x1="290.8" y1="1925.4" x2="307.5" y2="1925.4"/>
<line x1="304.6" y1="1928.0" x2="304.6" y2="1930.6"/>
<line x1="304.6" y1="1928.0" x2="307.5" y2="1928.0"/>
<line x1="304.6" y1="1930.6" x2="307.5" y2="1930.6"/>
<line x1="301.6" y1="1929.3" x2="301.6" y2="1933.2"/>
<line x1="301.6" y1="1929.3" x2="304.6" y2="1929.3"/>
<line x1="301.6" y1="1933.2" x2="307.5" y2="1933.2"/>
<line x1="301.6" y1="1935.8" x2="301.6" y2="1938.4"/>
<line x1="301.6" y1="1935.8" x2="307.5" y2="1935.8"/>
<line x1="301.6" y1="1938.4" x2="307.5" y2="1938.4"/>
<line x1="298.6" y1="1931.2" x2="298.6" y2="1937.1"/>
<line x1="298.6" y1="1931.2" x2="301.6" y2="1931.2"/>
<line x1="298.6" y1="1937.1" x2="301.6" y2="1937.1"/>
<line x1="301.2" y1="1941.0" x2="301.2" y2="1943.6"/>
<line x1="301.2" y1="1941.0" x2="307.5" y2="1941.0"/>
<line x1="301.2" y1="1943.6" x2="307.5" y2="1943.6"/>
<line x1="298.2" y1="1942.3" x2="298.2" y2="1946.2"/>
<line x1="298.2" y1="1942.3" x2="301.2" y2="1942.3"/>
<line x1="298.2" y1="1946.2" x2="307.5" y2="1946.2"/>
<line x1="295.2" y1="1934.2" x2="295.2" y2="1944.2"/>
<line x1="295.2" y1="1934.2" x2="298.6" y2="1934.2"/>
<line x1="295.2" y1="1944.2" x2="298.2" y2="1944.2"/>
<line x1="300.0" y1="1948.8" x2="300.0" y2="1951.4"/>
<line x1="300.0" y1="1948.8" x2="307.5" y2="1948.8"/>
<line x1="300.0" y1="1951.4" x2="307.5" y2="1951.4"/>
<line x1="297.0" y1="1950.1" x2="297.0" y2="1954.0"/>
<line x1="297.0" y1="1950.1" x2="300.0" y2="1950.1"/>
<line x1="297.0" y1="1954.0" x2="307.5" y2="1954.0"/>
<line x1="297.0" y1="1956.6" x2="297.0" y2="1959.2"/>
<line x1="297.0" y1="1956.6" x2="307.5" y2="1956.6"/>
<line x1="297.0" y1="1959.2" x2="307.5" y2="1959.2"/>
<line x1="294.0" y1="1952.0" x2="294.0" y2="1957.9"/>
<line x1="294.0" y1="1952.0" x2="297.0" y2="1952.0"/>
<line x1="294.0" y1="1957.9" x2="297.0" y2="1957.9"/>
<line x1="291.0" y1="1939.2" x2="291.0" y2="1955.0"/>
<line x1="291.0" y1="1939.2" x2="295.2" y2="1939.2"/>
<line x1="291.0" y1="1955.0" x2="294.0" y2="1955.0"/>
<line x1="287.8" y1="1924.1" x2="287.8" y2="1947.1"/>
<line x1="287.8" y1="1924.1" x2="290.8" y2="1924.1"/>
<line x1="287.8" y1="1947.1" x2="291.0" y2="1947.1"/>
<line x1="286.2" y1="1961.8" x2="286.2" y2="1964.4"/>
<line x1="286.2" y1="1961.8" x2="307.5" y2="1961.8"/>
<line x1="286.2" y1="1964.4" x2="307.5" y2="1964.4"/>
<line x1="282.5" y1="1935.6" x2="282.5" y2="1963.1"/>
<line x1="282.5" y1="1935.6" x2="287.8" y2="1935.6"/>
<line x1="282.5" y1="1963.1" x2="286.2" y2="1963.1"/>
<line x1="275.5" y1="1967.0" x2="275.5" y2="1969.6"/>
<line x1="275.5" y1="1967.0" x2="307.5" y2="1967.0"/>
<line x1="275.5" y1="1969.6" x2="307.5" y2="1969.6"/>
<line x1="272.5" y1="1949.3" x2="272.5" y2="1968.3"/>
<line x1="272.5" y1="1949.3" x2="282.5" y2="1949.3"/>
<line x1="272.5" y1="1968.3" x2="275.5" y2="1968.3"/>
<line x1="282.5" y1="1972.2" x2="282.5" y2="1974.8"/>
<line x1="282.5" y1="1972.2" x2="307.5" y2="1972.2"/>
<line x1="282.5" y1="1974.8" x2="307.5" y2="1974.8"/>
<line x1="277.5" y1="1977.4" x2="277.5" y2="1980.0"/>
<line x1="277.5" y1="1977.4" x2="307.5" y2="1977.4"/>
<line x1="277.5" y1="1980.0" x2="307.5" y2="1980.0"/>
<line x1="274.5" y1="1973.5" x2="274.5" y2="1978.7"/>
<line x1="274.5" y1="1973.5" x2="282.5" y2="1973.5"/>
<line x1="274.5" y1="1978.7" x2="277.5" y2="1978.7"/>
<line x1="265.6" y1="1958.8" x2="265.6" y2="1976.1"/>
<line x1="265.6" y1="1958.8" x2="272.5" y2="1958.8"/>
<line x1="265.6" y1="1976.1" x2="274.5" y2="1976.1"/>
<line x1="258.0" y1="1900.6" x2="258.0" y2="1967.5"/>
<line x1="258.0" y1="1900.6" x2="262.1" y2="1900.6"/>
<line x1="258.0" y1="1967.5" x2="265.6" y2="1967.5"/>
<line x1="258.0" y1="1934.0" x2="258.0" y2="1885.8"/>
<line x1="293.3" y1="1982.6" x2="293.3" y2="1985.2"/>
<line x1="293.3" y1="1982.6" x2="307.5" y2="1982.6"/>
<line x1="293.3" y1="1985.2" x2="307.5" y2="1985.2"/>
<line x1="290.3" y1="1983.9" x2="290.3" y2="1987.8"/>
<line x1="290.3" y1="1983.9" x2="293.3" y2="1983.9"/>
<line x1="290.3" y1="1987.8" x2="307.5" y2="1987.8"/>
<line x1="283.3" y1="1985.8" x2="283.3" y2="1990.4"/>
<line x1="283.3" y1="1985.8" x2="290.3" y2="1985.8"/>
<line x1="283.3" y1="1990.4" x2="307.5" y2="1990.4"/>
<line x1="289.1" y1="1993.0" x2="289.1" y2="1995.6"/>
<line x1="289.1" y1="1993.0" x2="307.5" y2="1993.0"/>
<line x1="289.1" y1="1995.6" x2="307.5" y2="1995.6"/>
<line x1="289.3" y1="1998.2" x2="289.3" y2="2000.8"/>
<line x1="289.3" y1="1998.2" x2="307.5" y2="1998.2"/>
<line x1="289.3" y1="2000.8" x2="307.5" y2="2000.8"/>
<line x1="282.0" y1="1994.3" x2="282.0" y2="1999.5"/>
<line x1="282.0" y1="1994.3" x2="289.1" y2="1994.3"/>
<line x1="282.0" y1="1999.5" x2="289.3" y2="1999.5"/>
<line x1="276.7" y1="1988.1" x2="276.7" y2="1996.9"/>
<line x1="276.7" y1="1988.1" x2="283.3" y2="1988.1"/>
<line x1="276.7" y1="1996.9" x2="282.0" y2="1996.9"/>
<line x1="278.2" y1="2003.4" x2="278.2" y2="2006.0"/>
<line x1="278.2" y1="2003.4" x2="307.5" y2="2003.4"/>
<line x1="278.2" y1="2006.0" x2="307.5" y2="2006.0"/>
<line x1="271.3" y1="2008.6" x2="271.3" y2="2011.2"/>
<line x1="271.3" y1="2008.6" x2="307.5" y2="2008.6"/>
<line x1="271.3" y1="2011.2" x2="307.5" y2="2011.2"/>
<line x1="268.1" y1="2004.7" x2="268.1" y2="2009.9"/>
<line x1="268.1" y1="2004.7" x2="278.2" y2="2004.7"/>
<line x1="268.1" y1="2009.9" x2="271.3" y2="2009.9"/>
<line x1="265.1" y1="1992.5" x2="265.1" y2="2007.3"/>
<line x1="265.1" y1="1992.5" x2="276.7" y2="1992.5"/>
<line x1="265.1" y1="2007.3" x2="268.1" y2="2007.3"/>
<line x1="275.4" y1="2013.8" x2="275.4" y2="2016.4"/>
<line x1="275.4" y1="2013.8" x2="307.5" y2="2013.8"/>
<line x1="275.4" y1="2016.4" x2="307.5" y2="2016.4"/>
<line x1="278.5" y1="2019.0" x2="278.5" y2="2021.6"/>
<line x1="278.5" y1="2019.0" x2="307.5" y2="2019.0"/>
<line x1="278.5" y1="2021.6" x2="307.5" y2="2021.6"/>
<line x1="272.0" y1="2015.1" x2="272.0" y2="2020.3"/>
<line x1="272.0" y1="2015.1" x2="275.4" y2="2015.1"/>
<line x1="272.0" y1="2020.3" x2="278.5" y2="2020.3"/>
<line x1="281.3" y1="2024.2" x2="281.3" y2="2026.8"/>
<line x1="281.3" y1="2024.2" x2="307.5" y2="2024.2"/>
<line x1="281.3" y1="2026.8" x2="307.5" y2="2026.8"/>
<line x1="278.3" y1="2025.5" x2="278.3" y2="2029.4"/>
<line x1="278.3" y1="2025.5" x2="281.3" y2="2025.5"/>
<line x1="278.3" y1="2029.4" x2="307.5" y2="2029.4"/>
<line x1="266.2" y1="2017.7" x2="266.2" y2="2027.5"/>
<line x1="266.2" y1="2017.7" x2="272.0" y2="2017.7"/>
<line x1="266.2" y1="2027.5" x2="278.3" y2="2027.5"/>
<line x1="262.0" y1="1999.9" x2="262.0" y2="2022.6"/>
<line x1="262.0" y1="1999.9" x2="265.1" y2="1999.9"/>
<line x1="262.0" y1="2022.6" x2="266.2" y2="2022.6"/>
<line x1="262.0" y1="2011.2" x2="262.0" y2="1986.0"/>
<line x1="287.9" y1="2032.0" x2="287.9" y2="2034.6"/>
<line x1="287.9" y1="2032.0" x2="307.5" y2="2032.0"/>
<line x1="287.9" y1="2034.6" x2="307.5" y2="2034.6"/>
<line x1="283.1" y1="2033.3" x2="283.1" y2="2037.2"/>
<line x1="283.1" y1="2033.3" x2="287.9" y2="2033.3"/>
<line x1="283.1" y1="2037.2" x2="307.5" y2="2037.2"/>
<line x1="283.6" y1="2039.8" x2="283.6" y2="2042.4"/>
<line x1="283.6" y1="2039.8" x2="307.5" y2="2039.8"/>
<line x1="283.6" y1="2042.4" x2="307.5" y2="2042.4"/>
<line x1="273.7" y1="2035.2" x2="273.7" y2="2041.1"/>
<line x1="273.7" y1="2035.2" x2="283.1" y2="2035.2"/>
<line x1="273.7" y1="2041.1" x2="283.6" y2="2041.1"/>
<line x1="272.4" y1="2045.0" x2="272.4" y2="2047.6"/>
<line x1="272.4" y1="2045.0" x2="307.5" y2="2045.0"/>
<line x1="272.4" y1="2047.6" x2="307.5" y2="2047.6"/>
<line x1="267.7" y1="2038.2" x2="267.7" y2="2046.3"/>
<line x1="267.7" y1="2038.2" x2="273.7" y2="2038.2"/>
<line x1="267.7" y1="2046.3" x2="272.4" y2="2046.3"/>
<line x1="283.1" y1="2050.2" x2="283.1" y2="2052.8"/>
<line x1="283.1" y1="2050.2" x2="307.5" y2="2050.2"/>
<line x1="283.1" y1="2052.8" x2="307.5" y2="2052.8"/>
<line x1="287.9" y1="2055.4" x2="287.9" y2="2058.0"/>
<line x1="287.9" y1="2055.4" x2="307.5" y2="2055.4"/>
<line x1="287.9" y1="2058.0" x2="307.5" y2="2058.0"/>
<line x1="299.4" y1="2060.6" x2="299.4" y2="2063.2"/>
<line x1="299.4" y1="2060.6" x2="307.5" y2="2060.6"/>
<line x1="299.4" y1="2063.2" x2="307.5" y2="2063.2"/>
<line x1="296.4" y1="2061.9" x2="296.4" y2="2065.8"/>
<line x1="296.4" y1="2061.9" x2="299.4" y2="2061.9"/>
<line x1="296.4" y1="2065.8" x2="307.5" y2="2065.8"/>
<line x1="293.4" y1="2063.9" x2="293.4" y2="2068.4"/>
<line x1="293.4" y1="2063.9" x2="296.4" y2="2063.9"/>
<line x1="293.4" y1="2068.4" x2="307.5" y2="2068.4"/>
<line x1="293.5" y1="2071.0" x2="293.5" y2="2073.6"/>
<line x1="293.5" y1="2071.0" x2="307.5" y2="2071.0"/>
<line x1="293.5" y1="2073.6" x2="307.5" y2="2073.6"/>
<line x1="290.4" y1="2066.1" x2="290.4" y2="2072.3"/>
<line x1="290.4" y1="2066.1" x2="293.4" y2="2066.1"/>
<line x1="290.4" y1="2072.3" x2="293.5" y2="2072.3"/>
<line x1="284.9" y1="2056.7" x2="284.9" y2="2069.2"/>
<line x1="284.9" y1="2056.7" x2="287.9" y2="2056.7"/>
<line x1="284.9" y1="2069.2" x2="290.4" y2="2069.2"/>
<line x1="288.6" y1="2076.2" x2="288.6" y2="2078.8"/>
<line x1="288.6" y1="2076.2" x2="307.5" y2="2076.2"/>
<line x1="288.6" y1="2078.8" x2="307.5" y2="2078.8"/>
<line x1="281.5" y1="2077.5" x2="281.5" y2="2081.4"/>
<line x1="281.5" y1="2077.5" x2="288.6" y2="2077.5"/>
<line x1="281.5" y1="2081.4" x2="307.5" y2="2081.4"/>
<line x1="278.5" y1="2063.0" x2="278.5" y2="2079.4"/>
<line x1="278.5" y1="2063.0" x2="284.9" y2="2063.0"/>
<line x1="278.5" y1="2079.4" x2="281.5" y2="2079.4"/>
<line x1="275.5" y1="2051.5" x2="275.5" y2="2071.2"/>
<line x1="275.5" y1="2051.5" x2="283.1" y2="2051.5"/>
<line x1="275.5" y1="2071.2" x2="278.5" y2="2071.2"/>
<line x1="293.2" y1="2084.0" x2="293.2" y2="2086.6"/>
<line x1="293.2" y1="2084.0" x2="307.5" y2="2084.0"/>
<line x1="293.2" y1="2086.6" x2="307.5" y2="2086.6"/>
<line x1="300.6" y1="2089.2" x2="300.6" y2="2091.8"/>
<line x1="300.6" y1="2089.2" x2="307.5" y2="2089.2"/>
<line x1="300.6" y1="2091.8" x2="307.5" y2="2091.8"/>
<line x1="297.6" y1="2090.5" x2="297.6" y2="2094.4"/>
<line x1="297.6" y1="2090.5" x2="300.6" y2="2090.5"/>
<line x1="297.6" y1="2094.4" x2="307.5" y2="2094.4"/>
<line x1="293.6" y1="2092.4" x2="293.6" y2="2097.0"/>
<line x1="293.6" y1="2092.4" x2="297.6" y2="2092.4"/>
<line x1="293.6" y1="2097.0" x2="307.5" y2="2097.0"/>
<line x1="290.6" y1="2094.7" x2="290.6" y2="2099.6"/>
<line x1="290.6" y1="2094.7" x2="293.6" y2="2094.7"/>
<line x1="290.6" y1="2099.6" x2="307.5" y2="2099.6"/>
<line x1="287.6" y1="2085.3" x2="287.6" y2="2097.2"/>
<line x1="287.6" y1="2085.3" x2="293.2" y2="2085.3"/>
<line x1="287.6" y1="2097.2" x2="290.6" y2="2097.2"/>
<line x1="287.7" y1="2102.2" x2="287.7" y2="2104.8"/>
<line x1="287.7" y1="2102.2" x2="307.5" y2="2102.2"/>
<line x1="287.7" y1="2104.8" x2="307.5" y2="2104.8"/>
<line x1="284.6" y1="2091.2" x2="284.6" y2="2103.5"/>
<line x1="284.6" y1="2091.2" x2="287.6" y2="2091.2"/>
<line x1="284.6" y1="2103.5" x2="287.7" y2="2103.5"/>
<line x1="284.2" y1="2107.4" x2="284.2" y2="2110.0"/>
<line x1="284.2" y1="2107.4" x2="307.5" y2="2107.4"/>
<line x1="284.2" y1="2110.0" x2="307.5" y2="2110.0"/>
<line x1="281.2" y1="2097.4" x2="281.2" y2="2108.7"/>
<line x1="281.2" y1="2097.4" x2="284.6" y2="2097.4"/>
<line x1="281.2" y1="2108.7" x2="284.2" y2="2108.7"/>
<line x1="272.5" y1="2061.4" x2="272.5" y2="2103.0"/>
<line x1="272.5" y1="2061.4" x2="275.5" y2="2061.4"/>
<line x1="272.5" y1="2103.0" x2="281.2" y2="2103.0"/>
<line x1="264.0" y1="2042.2" x2="264.0" y2="2082.2"/>
<line x1="264.0" y1="2042.2" x2="267.7" y2="2042.2"/>
<line x1="264.0" y1="2082.2" x2="272.5" y2="2082.2"/>
<line x1="264.0" y1="2062.2" x2="264.0" y2="2091.7"/>
<line x1="289.1" y1="2115.2" x2="289.1" y2="2117.8"/>
<line x1="289.1" y1="2115.2" x2="307.5" y2="2115.2"/>
<line x1="289.1" y1="2117.8" x2="307.5" y2="2117.8"/>
<line x1="284.2" y1="2116.5" x2="284.2" y2="2120.4"/>
<line x1="284.2" y1="2116.5" x2="289.1" y2="2116.5"/>
<line x1="284.2" y1="2120.4" x2="307.5" y2="2120.4"/>
<line x1="277.0" y1="2112.6" x2="277.0" y2="2118.4"/>
<line x1="277.0" y1="2112.6" x2="307.5" y2="2112.6"/>
<line x1="277.0" y1="2118.4" x2="284.2" y2="2118.4"/>
<line x1="291.2" y1="2125.6" x2="291.2" y2="2128.2"/>
<line x1="291.2" y1="2125.6" x2="307.5" y2="2125.6"/>
<line x1="291.2" y1="2128.2" x2="307.5" y2="2128.2"/>
<line x1="287.2" y1="2123.0" x2="287.2" y2="2126.9"/>
<line x1="287.2" y1="2123.0" x2="307.5" y2="2123.0"/>
<line x1="287.2" y1="2126.9" x2="291.2" y2="2126.9"/>
<line x1="287.2" y1="2130.8" x2="287.2" y2="2133.4"/>
<line x1="287.2" y1="2130.8" x2="307.5" y2="2130.8"/>
<line x1="287.2" y1="2133.4" x2="307.5" y2="2133.4"/>
<line x1="284.2" y1="2124.9" x2="284.2" y2="2132.1"/>
<line x1="284.2" y1="2124.9" x2="287.2" y2="2124.9"/>
<line x1="284.2" y1="2132.1" x2="287.2" y2="2132.1"/>
<line x1="285.7" y1="2136.0" x2="285.7" y2="2138.6"/>
<line x1="285.7" y1="2136.0" x2="307.5" y2="2136.0"/>
<line x1="285.7" y1="2138.6" x2="307.5" y2="2138.6"/>
<line x1="281.2" y1="2128.5" x2="281.2" y2="2137.3"/>
<line x1="281.2" y1="2128.5" x2="284.2" y2="2128.5"/>
<line x1="281.2" y1="2137.3" x2="285.7" y2="2137.3"/>
<line x1="279.6" y1="2141.2" x2="279.6" y2="2143.8"/>
<line x1="279.6" y1="2141.2" x2="307.5" y2="2141.2"/>
<line x1="279.6" y1="2143.8" x2="307.5" y2="2143.8"/>
<line x1="276.6" y1="2132.9" x2="276.6" y2="2142.5"/>
<line x1="276.6" y1="2132.9" x2="281.2" y2="2132.9"/>
<line x1="276.6" y1="2142.5" x2="279.6" y2="2142.5"/>
<line x1="274.9" y1="2146.4" x2="274.9" y2="2149.0"/>
<line x1="274.9" y1="2146.4" x2="307.5" y2="2146.4"/>
<line x1="274.9" y1="2149.0" x2="307.5" y2="2149.0"/>
<line x1="271.9" y1="2137.7" x2="271.9" y2="2147.7"/>
<line x1="271.9" y1="2137.7" x2="276.6" y2="2137.7"/>
<line x1="271.9" y1="2147.7" x2="274.9" y2="2147.7"/>
<line x1="268.7" y1="2115.5" x2="268.7" y2="2142.7"/>
<line x1="268.7" y1="2115.5" x2="277.0" y2="2115.5"/>
<line x1="268.7" y1="2142.7" x2="271.9" y2="2142.7"/>
<line x1="268.7" y1="2129.1" x2="268.7" y2="2114.0"/>
<line x1="296.2" y1="2154.2" x2="296.2" y2="2156.8"/>
<line x1="296.2" y1="2154.2" x2="307.5" y2="2154.2"/>
<line x1="296.2" y1="2156.8" x2="307.5" y2="2156.8"/>
<line x1="296.9" y1="2159.4" x2="296.9" y2="2162.0"/>
<line x1="296.9" y1="2159.4" x2="307.5" y2="2159.4"/>
<line x1="296.9" y1="2162.0" x2="307.5" y2="2162.0"/>
<line x1="293.2" y1="2155.5" x2="293.2" y2="2160.7"/>
<line x1="293.2" y1="2155.5" x2="296.2" y2="2155.5"/>
<line x1="293.2" y1="2160.7" x2="296.9" y2="2160.7"/>
<line x1="288.5" y1="2158.1" x2="288.5" y2="2164.6"/>
<line x1="288.5" y1="2158.1" x2="293.2" y2="2158.1"/>
<line x1="288.5" y1="2164.6" x2="307.5" y2="2164.6"/>
<line x1="294.3" y1="2167.2" x2="294.3" y2="2169.8"/>
<line x1="294.3" y1="2167.2" x2="307.5" y2="2167.2"/>
<line x1="294.3" y1="2169.8" x2="307.5" y2="2169.8"/>
<line x1="290.4" y1="2168.5" x2="290.4" y2="2172.4"/>
<line x1="290.4" y1="2168.5" x2="294.3" y2="2168.5"/>
<line x1="290.4" y1="2172.4" x2="307.5" y2="2172.4"/>
<line x1="287.4" y1="2170.4" x2="287.4" y2="2175.0"/>
<line x1="287.4" y1="2170.4" x2="290.4" y2="2170.4"/>
<line x1="287.4" y1="2175.0" x2="307.5" y2="2175.0"/>
<line x1="282.0" y1="2161.4" x2="282.0" y2="2172.7"/>
<line x1="282.0" y1="2161.4" x2="288.5" y2="2161.4"/>
<line x1="282.0" y1="2172.7" x2="287.4" y2="2172.7"/>
<line x1="294.0" y1="2177.6" x2="294.0" y2="2180.2"/>
<line x1="294.0" y1="2177.6" x2="307.5" y2="2177.6"/>
<line x1="294.0" y1="2180.2" x2="307.5" y2="2180.2"/>
<line x1="291.0" y1="2178.9" x2="291.0" y2="2182.8"/>
<line x1="291.0" y1="2178.9" x2="294.0" y2="2178.9"/>
<line x1="291.0" y1="2182.8" x2="307.5" y2="2182.8"/>
<line x1="294.7" y1="2185.4" x2="294.7" y2="2188.0"/>
<line x1="294.7" y1="2185.4" x2="307.5" y2="2185.4"/>
<line x1="294.7" y1="2188.0" x2="307.5" y2="2188.0"/>
<line x1="291.7" y1="2186.7" x2="291.7" y2="2190.6"/>
<line x1="291.7" y1="2186.7" x2="294.7" y2="2186.7"/>
<line x1="291.7" y1="2190.6" x2="307.5" y2="2190.6"/>
<line x1="286.8" y1="2180.9" x2="286.8" y2="2188.7"/>
<line x1="286.8" y1="2180.9" x2="291.0" y2="2180.9"/>
<line x1="286.8" y1="2188.7" x2="291.7" y2="2188.7"/>
<line x1="283.6" y1="2193.2" x2="283.6" y2="2195.8"/>
<line x1="283.6" y1="2193.2" x2="307.5" y2="2193.2"/>
<line x1="283.6" y1="2195.8" x2="307.5" y2="2195.8"/>
<line x1="278.8" y1="2184.8" x2="278.8" y2="2194.5"/>
<line x1="278.8" y1="2184.8" x2="286.8" y2="2184.8"/>
<line x1="278.8" y1="2194.5" x2="283.6" y2="2194.5"/>
<line x1="271.5" y1="2167.0" x2="271.5" y2="2189.6"/>
<line x1="271.5" y1="2167.0" x2="282.0" y2="2167.0"/>
<line x1="271.5" y1="2189.6" x2="278.8" y2="2189.6"/>
<line x1="279.1" y1="2198.4" x2="279.1" y2="2201.0"/>
<line x1="279.1" y1="2198.4" x2="307.5" y2="2198.4"/>
<line x1="279.1" y1="2201.0" x2="307.5" y2="2201.0"/>
<line x1="296.8" y1="2203.6" x2="296.8" y2="2206.2"/>
<line x1="296.8" y1="2203.6" x2="307.5" y2="2203.6"/>
<line x1="296.8" y1="2206.2" x2="307.5" y2="2206.2"/>
<line x1="302.8" y1="2211.4" x2="302.8" y2="2214.0"/>
<line x1="302.8" y1="2211.4" x2="307.5" y2="2211.4"/>
<line x1="302.8" y1="2214.0" x2="307.5" y2="2214.0"/>
<line x1="299.8" y1="2208.8" x2="299.8" y2="2212.7"/>
<line x1="299.8" y1="2208.8" x2="307.5" y2="2208.8"/>
<line x1="299.8" y1="2212.7" x2="302.8" y2="2212.7"/>
<line x1="296.8" y1="2210.8" x2="296.8" y2="2216.6"/>
<line x1="296.8" y1="2210.8" x2="299.8" y2="2210.8"/>
<line x1="296.8" y1="2216.6" x2="307.5" y2="2216.6"/>
<line x1="293.6" y1="2204.9" x2="293.6" y2="2213.7"/>
<line x1="293.6" y1="2204.9" x2="296.8" y2="2204.9"/>
<line x1="293.6" y1="2213.7" x2="296.8" y2="2213.7"/>
<line x1="290.6" y1="2209.3" x2="290.6" y2="2219.2"/>
<line x1="290.6" y1="2209.3" x2="293.6" y2="2209.3"/>
<line x1="290.6" y1="2219.2" x2="307.5" y2="2219.2"/>
<line x1="287.2" y1="2214.2" x2="287.2" y2="2221.8"/>
<line x1="287.2" y1="2214.2" x2="290.6" y2="2214.2"/>
<line x1="287.2" y1="2221.8" x2="307.5" y2="2221.8"/>
<line x1="295.7" y1="2224.4" x2="295.7" y2="2227.0"/>
<line x1="295.7" y1="2224.4" x2="307.5" y2="2224.4"/>
<line x1="295.7" y1="2227.0" x2="307.5" y2="2227.0"/>
<line x1="294.6" y1="2229.6" x2="294.6" y2="2232.2"/>
<line x1="294.6" y1="2229.6" x2="307.5" y2="2229.6"/>
<line x1="294.6" y1="2232.2" x2="307.5" y2="2232.2"/>
<line x1="290.8" y1="2225.7" x2="290.8" y2="2230.9"/>
<line x1="290.8" y1="2225.7" x2="295.7" y2="2225.7"/>
<line x1="290.8" y1="2230.9" x2="294.6" y2="2230.9"/>
<line x1="284.6" y1="2228.3" x2="284.6" y2="2234.8"/>
<line x1="284.6" y1="2228.3" x2="290.8" y2="2228.3"/>
<line x1="284.6" y1="2234.8" x2="307.5" y2="2234.8"/>
<line x1="281.0" y1="2218.0" x2="281.0" y2="2231.6"/>
<line x1="281.0" y1="2218.0" x2="287.2" y2="2218.0"/>
<line x1="281.0" y1="2231.6" x2="284.6" y2="2231.6"/>
<line x1="276.1" y1="2199.7" x2="276.1" y2="2224.8"/>
<line x1="276.1" y1="2199.7" x2="279.1" y2="2199.7"/>
<line x1="276.1" y1="2224.8" x2="281.0" y2="2224.8"/>
<line x1="274.0" y1="2237.4" x2="274.0" y2="2240.0"/>
<line x1="274.0" y1="2237.4" x2="307.5" y2="2237.4"/>
<line x1="274.0" y1="2240.0" x2="307.5" y2="2240.0"/>
<line x1="269.2" y1="2212.2" x2="269.2" y2="2238.7"/>
<line x1="269.2" y1="2212.2" x2="276.1" y2="2212.2"/>
<line x1="269.2" y1="2238.7" x2="274.0" y2="2238.7"/>
<line x1="258.0" y1="2178.3" x2="258.0" y2="2225.5"/>
<line x1="258.0" y1="2178.3" x2="271.5" y2="2178.3"/>
<line x1="258.0" y1="2225.5" x2="269.2" y2="2225.5"/>
<line x1="258.0" y1="2201.9" x2="258.0" y2="2196.0"/>
<line x1="278.0" y1="2242.6" x2="278.0" y2="2245.2"/>
<line x1="278.0" y1="2242.6" x2="307.5" y2="2242.6"/>
<line x1="278.0" y1="2245.2" x2="307.5" y2="2245.2"/>
<line x1="275.0" y1="2243.9" x2="275.0" y2="2247.8"/>
<line x1="275.0" y1="2243.9" x2="278.0" y2="2243.9"/>
<line x1="275.0" y1="2247.8" x2="307.5" y2="2247.8"/>
<line x1="277.9" y1="2250.4" x2="277.9" y2="2253.0"/>
<line x1="277.9" y1="2250.4" x2="307.5" y2="2250.4"/>
<line x1="277.9" y1="2253.0" x2="307.5" y2="2253.0"/>
<line x1="268.4" y1="2245.9" x2="268.4" y2="2251.7"/>
<line x1="268.4" y1="2245.9" x2="275.0" y2="2245.9"/>
<line x1="268.4" y1="2251.7" x2="277.9" y2="2251.7"/>
<line x1="272.7" y1="2255.6" x2="272.7" y2="2258.2"/>
<line x1="272.7" y1="2255.6" x2="307.5" y2="2255.6"/>
<line x1="272.7" y1="2258.2" x2="307.5" y2="2258.2"/>
<line x1="265.5" y1="2256.9" x2="265.5" y2="2260.8"/>
<line x1="265.5" y1="2256.9" x2="272.7" y2="2256.9"/>
<line x1="265.5" y1="2260.8" x2="307.5" y2="2260.8"/>
<line x1="256.0" y1="2248.8" x2="256.0" y2="2258.9"/>
<line x1="256.0" y1="2248.8" x2="268.4" y2="2248.8"/>
<line x1="256.0" y1="2258.9" x2="265.5" y2="2258.9"/>
<line x1="256.0" y1="2253.8" x2="256.0" y2="2250.0"/>
<line x1="277.7" y1="2266.0" x2="277.7" y2="2268.6"/>
<line x1="277.7" y1="2266.0" x2="307.5" y2="2266.0"/>
<line x1="277.7" y1="2268.6" x2="307.5" y2="2268.6"/>
<line x1="274.0" y1="2267.3" x2="274.0" y2="2271.2"/>
<line x1="274.0" y1="2267.3" x2="277.7" y2="2267.3"/>
<line x1="274.0" y1="2271.2" x2="307.5" y2="2271.2"/>
<line x1="282.5" y1="2273.8" x2="282.5" y2="2276.4"/>
<line x1="282.5" y1="2273.8" x2="307.5" y2="2273.8"/>
<line x1="282.5" y1="2276.4" x2="307.5" y2="2276.4"/>
<line x1="271.9" y1="2275.1" x2="271.9" y2="2279.0"/>
<line x1="271.9" y1="2275.1" x2="282.5" y2="2275.1"/>
<line x1="271.9" y1="2279.0" x2="307.5" y2="2279.0"/>
<line x1="268.8" y1="2269.2" x2="268.8" y2="2277.1"/>
<line x1="268.8" y1="2269.2" x2="274.0" y2="2269.2"/>
<line x1="268.8" y1="2277.1" x2="271.9" y2="2277.1"/>
<line x1="292.1" y1="2281.6" x2="292.1" y2="2284.2"/>
<line x1="292.1" y1="2281.6" x2="307.5" y2="2281.6"/>
<line x1="292.1" y1="2284.2" x2="307.5" y2="2284.2"/>
<line x1="287.6" y1="2282.9" x2="287.6" y2="2286.8"/>
<line x1="287.6" y1="2282.9" x2="292.1" y2="2282.9"/>
<line x1="287.6" y1="2286.8" x2="307.5" y2="2286.8"/>
<line x1="287.8" y1="2289.4" x2="287.8" y2="2292.0"/>
<line x1="287.8" y1="2289.4" x2="307.5" y2="2289.4"/>
<line x1="287.8" y1="2292.0" x2="307.5" y2="2292.0"/>
<line x1="284.5" y1="2290.7" x2="284.5" y2="2294.6"/>
<line x1="284.5" y1="2290.7" x2="287.8" y2="2290.7"/>
<line x1="284.5" y1="2294.6" x2="307.5" y2="2294.6"/>
<line x1="279.9" y1="2284.9" x2="279.9" y2="2292.7"/>
<line x1="279.9" y1="2284.9" x2="287.6" y2="2284.9"/>
<line x1="279.9" y1="2292.7" x2="284.5" y2="2292.7"/>
<line x1="283.2" y1="2297.2" x2="283.2" y2="2299.8"/>
<line x1="283.2" y1="2297.2" x2="307.5" y2="2297.2"/>
<line x1="283.2" y1="2299.8" x2="307.5" y2="2299.8"/>
<line x1="279.7" y1="2298.5" x2="279.7" y2="2302.4"/>
<line x1="279.7" y1="2298.5" x2="283.2" y2="2298.5"/>
<line x1="279.7" y1="2302.4" x2="307.5" y2="2302.4"/>
<line x1="276.7" y1="2288.8" x2="276.7" y2="2300.4"/>
<line x1="276.7" y1="2288.8" x2="279.9" y2="2288.8"/>
<line x1="276.7" y1="2300.4" x2="279.7" y2="2300.4"/>
<line x1="284.7" y1="2305.0" x2="284.7" y2="2307.6"/>
<line x1="284.7" y1="2305.0" x2="307.5" y2="2305.0"/>
<line x1="284.7" y1="2307.6" x2="307.5" y2="2307.6"/>
<line x1="275.5" y1="2306.3" x2="275.5" y2="2310.2"/>
<line x1="275.5" y1="2306.3" x2="284.7" y2="2306.3"/>
<line x1="275.5" y1="2310.2" x2="307.5" y2="2310.2"/>
<line x1="268.6" y1="2294.6" x2="268.6" y2="2308.2"/>
<line x1="268.6" y1="2294.6" x2="276.7" y2="2294.6"/>
<line x1="268.6" y1="2308.2" x2="275.5" y2="2308.2"/>
<line x1="258.0" y1="2273.2" x2="258.0" y2="2301.4"/>
<line x1="258.0" y1="2273.2" x2="268.8" y2="2273.2"/>
<line x1="258.0" y1="2301.4" x2="268.6" y2="2301.4"/>
<line x1="258.0" y1="2287.3" x2="258.0" y2="2283.7"/>
</g>
<polygon points="272,301 272,331 281,334 281,420 284,424 284,560 287,564 287,700 279,704 279,800 275,804 275,850 272,854 272,1000 278,1004 278,1060 283,1064 283,1200 283,1204 283,1328 270,1332 270,1368 284,1372 285,1500 284,1600 280,1700 272,1800 277,1860 277,2000 280,2100 277,2250 268,2282 282,2300 300,2315 307.5,2315 307.5,301" fill="#000"/>
<g stroke="#5a5a5a" stroke-width="4.6" stroke-linecap="square" fill="none">
<line x1="252.5" y1="415.7" x2="252.5" y2="511.3"/>
<line x1="252.5" y1="415.7" x2="262.0" y2="415.7"/>
<line x1="252.5" y1="511.3" x2="266.0" y2="511.3"/>
<line x1="237.4" y1="463.5" x2="237.4" y2="556.5"/>
<line x1="237.4" y1="463.5" x2="252.5" y2="463.5"/>
<line x1="237.4" y1="556.5" x2="256.0" y2="556.5"/>
<line x1="230.6" y1="317.0" x2="230.6" y2="510.0"/>
<line x1="230.6" y1="317.0" x2="259.0" y2="317.0"/>
<line x1="230.6" y1="510.0" x2="237.4" y2="510.0"/>
<line x1="215.6" y1="302.3" x2="215.6" y2="413.0"/>
<line x1="215.6" y1="302.3" x2="307.5" y2="302.3"/>
<line x1="215.6" y1="413.0" x2="230.6" y2="413.0"/>
<line x1="240.0" y1="703.0" x2="240.0" y2="735.5"/>
<line x1="240.0" y1="703.0" x2="254.0" y2="703.0"/>
<line x1="240.0" y1="735.5" x2="260.0" y2="735.5"/>
<line x1="232.0" y1="761.0" x2="232.0" y2="835.6"/>
<line x1="232.0" y1="761.0" x2="258.0" y2="761.0"/>
<line x1="232.0" y1="835.6" x2="262.0" y2="835.6"/>
<line x1="215.6" y1="721.6" x2="215.6" y2="798.4"/>
<line x1="215.6" y1="721.6" x2="240.0" y2="721.6"/>
<line x1="215.6" y1="798.4" x2="232.0" y2="798.4"/>
<line x1="205.3" y1="359.7" x2="205.3" y2="759.0"/>
<line x1="205.3" y1="359.7" x2="215.6" y2="359.7"/>
<line x1="205.3" y1="759.0" x2="215.6" y2="759.0"/>
<line x1="251.7" y1="1131.0" x2="251.7" y2="1265.0"/>
<line x1="251.7" y1="1131.0" x2="263.4" y2="1131.0"/>
<line x1="251.7" y1="1265.0" x2="261.0" y2="1265.0"/>
<line x1="237.8" y1="1054.0" x2="237.8" y2="1198.8"/>
<line x1="237.8" y1="1054.0" x2="248.0" y2="1054.0"/>
<line x1="237.8" y1="1198.8" x2="251.7" y2="1198.8"/>
<line x1="233.0" y1="1010.0" x2="233.0" y2="1126.6"/>
<line x1="233.0" y1="1010.0" x2="242.4" y2="1010.0"/>
<line x1="233.0" y1="1126.6" x2="237.8" y2="1126.6"/>
<line x1="216.8" y1="933.4" x2="216.8" y2="1067.3"/>
<line x1="216.8" y1="933.4" x2="232.0" y2="933.4"/>
<line x1="216.8" y1="1067.3" x2="233.0" y2="1067.3"/>
<line x1="205.2" y1="896.0" x2="205.2" y2="1000.0"/>
<line x1="205.2" y1="896.0" x2="262.0" y2="896.0"/>
<line x1="205.2" y1="1000.0" x2="216.8" y2="1000.0"/>
<line x1="185.4" y1="853.0" x2="185.4" y2="947.4"/>
<line x1="185.4" y1="853.0" x2="230.8" y2="853.0"/>
<line x1="185.4" y1="947.4" x2="205.2" y2="947.4"/>
<line x1="169.0" y1="559.8" x2="169.0" y2="900.8"/>
<line x1="169.0" y1="559.8" x2="205.3" y2="559.8"/>
<line x1="169.0" y1="900.8" x2="185.4" y2="900.8"/>
<line x1="252.0" y1="1410.0" x2="252.0" y2="1573.8"/>
<line x1="252.0" y1="1410.0" x2="266.5" y2="1410.0"/>
<line x1="252.0" y1="1573.8" x2="269.0" y2="1573.8"/>
<line x1="242.0" y1="1612.0" x2="242.0" y2="1640.0"/>
<line x1="242.0" y1="1612.0" x2="262.0" y2="1612.0"/>
<line x1="242.0" y1="1640.0" x2="262.0" y2="1640.0"/>
<line x1="225.2" y1="1469.4" x2="225.2" y2="1626.0"/>
<line x1="225.2" y1="1469.4" x2="252.0" y2="1469.4"/>
<line x1="225.2" y1="1626.0" x2="242.0" y2="1626.0"/>
<line x1="221.5" y1="1661.0" x2="221.5" y2="1733.0"/>
<line x1="221.5" y1="1661.0" x2="247.0" y2="1661.0"/>
<line x1="221.5" y1="1733.0" x2="244.6" y2="1733.0"/>
<line x1="198.4" y1="1547.0" x2="198.4" y2="1699.0"/>
<line x1="198.4" y1="1547.0" x2="225.2" y2="1547.0"/>
<line x1="198.4" y1="1699.0" x2="221.5" y2="1699.0"/>
<line x1="257.6" y1="1986.0" x2="257.6" y2="2091.7"/>
<line x1="257.6" y1="1986.0" x2="262.0" y2="1986.0"/>
<line x1="257.6" y1="2091.7" x2="264.0" y2="2091.7"/>
<line x1="249.3" y1="1885.8" x2="249.3" y2="2038.8"/>
<line x1="249.3" y1="1885.8" x2="258.0" y2="1885.8"/>
<line x1="249.3" y1="2038.8" x2="257.6" y2="2038.8"/>
<line x1="224.2" y1="1871.8" x2="224.2" y2="1961.0"/>
<line x1="224.2" y1="1871.8" x2="271.5" y2="1871.8"/>
<line x1="224.2" y1="1961.0" x2="249.3" y2="1961.0"/>
<line x1="243.7" y1="2114.0" x2="243.7" y2="2196.0"/>
<line x1="243.7" y1="2114.0" x2="268.7" y2="2114.0"/>
<line x1="243.7" y1="2196.0" x2="258.0" y2="2196.0"/>
<line x1="238.0" y1="2250.0" x2="238.0" y2="2283.7"/>
<line x1="238.0" y1="2250.0" x2="256.0" y2="2250.0"/>
<line x1="238.0" y1="2283.7" x2="258.0" y2="2283.7"/>
<line x1="204.7" y1="2157.0" x2="204.7" y2="2265.7"/>
<line x1="204.7" y1="2157.0" x2="243.7" y2="2157.0"/>
<line x1="204.7" y1="2265.7" x2="238.0" y2="2265.7"/>
<line x1="163.0" y1="1916.4" x2="163.0" y2="2208.6"/>
<line x1="163.0" y1="1916.4" x2="224.2" y2="1916.4"/>
<line x1="163.0" y1="2208.6" x2="204.7" y2="2208.6"/>
<line x1="151.8" y1="1624.8" x2="151.8" y2="2061.0"/>
<line x1="151.8" y1="1624.8" x2="198.4" y2="1624.8"/>
<line x1="151.8" y1="2061.0" x2="163.0" y2="2061.0"/>
<line x1="90.4" y1="1341.9" x2="90.4" y2="1842.6"/>
<line x1="90.4" y1="1341.9" x2="232.5" y2="1341.9"/>
<line x1="90.4" y1="1842.6" x2="151.8" y2="1842.6"/>
<line x1="27.8" y1="732.6" x2="27.8" y2="1593.3"/>
<line x1="27.8" y1="732.6" x2="169.0" y2="732.6"/>
<line x1="27.8" y1="1593.3" x2="90.4" y2="1593.3"/>
</g>
</svg></body></html>
